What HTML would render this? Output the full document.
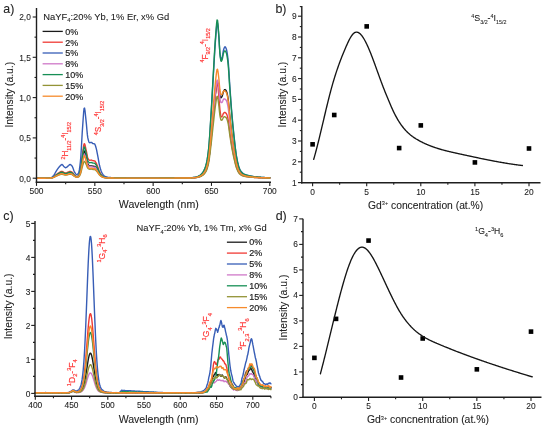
<!DOCTYPE html>
<html><head><meta charset="utf-8"><style>
html,body{margin:0;padding:0;background:#fff;}
svg{display:block;}
</style></head><body>
<svg width="550" height="426" viewBox="0 0 550 426" font-family="'Liberation Sans', Arial, sans-serif">
<rect width="550" height="426" fill="#fff"/>
<path d="M36.50,178.20 L36.97,178.20 L37.43,178.20 L37.90,178.20 L38.37,178.20 L38.83,178.20 L39.30,178.20 L39.77,178.20 L40.23,178.19 L40.70,178.19 L41.17,178.19 L41.63,178.19 L42.10,178.19 L42.57,178.19 L43.03,178.18 L43.50,178.18 L43.97,178.18 L44.43,178.18 L44.90,178.17 L45.37,178.17 L45.83,178.17 L46.30,178.16 L46.77,178.16 L47.23,178.15 L47.70,178.13 L48.16,178.12 L48.63,178.10 L49.10,178.08 L49.56,178.06 L50.03,178.03 L50.50,178.00 L50.96,177.95 L51.43,177.86 L51.90,177.74 L52.36,177.59 L52.83,177.43 L53.30,177.25 L53.76,177.04 L54.23,176.76 L54.70,176.43 L55.16,176.07 L55.63,175.70 L56.10,175.37 L56.56,175.07 L57.03,174.78 L57.50,174.49 L57.96,174.22 L58.43,173.96 L58.90,173.72 L59.36,173.50 L59.83,173.27 L60.30,173.04 L60.76,172.83 L61.23,172.67 L61.70,172.57 L62.16,172.58 L62.63,172.74 L63.10,172.99 L63.56,173.24 L64.03,173.43 L64.50,173.60 L64.96,173.77 L65.43,173.87 L65.90,173.87 L66.36,173.79 L66.83,173.64 L67.30,173.47 L67.76,173.30 L68.23,173.14 L68.70,172.96 L69.16,172.77 L69.63,172.62 L70.10,172.56 L70.56,172.61 L71.03,172.75 L71.49,172.94 L71.96,173.16 L72.43,173.46 L72.89,173.92 L73.36,174.47 L73.83,175.01 L74.29,175.46 L74.76,175.79 L75.23,176.13 L75.69,176.43 L76.16,176.65 L76.63,176.73 L77.09,176.71 L77.56,176.61 L78.03,176.47 L78.49,176.28 L78.96,175.77 L79.43,174.77 L79.89,173.44 L80.36,171.94 L80.83,169.82 L81.29,166.89 L81.76,163.62 L82.23,160.47 L82.69,157.86 L83.16,155.17 L83.63,152.65 L84.09,151.03 L84.56,151.11 L85.03,152.50 L85.49,154.45 L85.96,156.45 L86.43,158.35 L86.89,160.52 L87.36,162.51 L87.83,163.86 L88.29,164.72 L88.76,165.44 L89.23,165.88 L89.69,165.97 L90.16,165.94 L90.63,165.88 L91.09,165.84 L91.56,165.85 L92.03,165.99 L92.49,166.17 L92.96,166.26 L93.43,166.30 L93.89,166.32 L94.36,166.36 L94.82,166.47 L95.29,166.84 L95.76,167.37 L96.22,167.93 L96.69,168.63 L97.16,169.44 L97.62,170.28 L98.09,171.13 L98.56,172.06 L99.02,172.98 L99.49,173.75 L99.96,174.38 L100.42,174.95 L100.89,175.46 L101.36,175.90 L101.82,176.25 L102.29,176.55 L102.76,176.82 L103.22,177.05 L103.69,177.24 L104.16,177.37 L104.62,177.46 L105.09,177.54 L105.56,177.62 L106.02,177.68 L106.49,177.74 L106.96,177.80 L107.42,177.84 L107.89,177.87 L108.36,177.90 L108.82,177.92 L109.29,177.94 L109.76,177.95 L110.22,177.97 L110.69,177.98 L111.16,177.99 L111.62,178.00 L112.09,178.01 L112.56,178.02 L113.02,178.03 L113.49,178.04 L113.96,178.05 L114.42,178.06 L114.89,178.06 L115.36,178.07 L115.82,178.08 L116.29,178.08 L116.76,178.08 L117.22,178.09 L117.69,178.09 L118.15,178.09 L118.62,178.09 L119.09,178.09 L119.55,178.09 L120.02,178.09 L120.49,178.09 L120.95,178.09 L121.42,178.09 L121.89,178.10 L122.35,178.10 L122.82,178.10 L123.29,178.10 L123.75,178.10 L124.22,178.10 L124.69,178.10 L125.15,178.10 L125.62,178.10 L126.09,178.10 L126.55,178.10 L127.02,178.10 L127.49,178.10 L127.95,178.10 L128.42,178.10 L128.89,178.10 L129.35,178.11 L129.82,178.11 L130.29,178.11 L130.75,178.11 L131.22,178.11 L131.69,178.11 L132.15,178.11 L132.62,178.11 L133.09,178.11 L133.55,178.11 L134.02,178.11 L134.49,178.11 L134.95,178.11 L135.42,178.11 L135.89,178.11 L136.35,178.11 L136.82,178.11 L137.29,178.11 L137.75,178.11 L138.22,178.11 L138.69,178.11 L139.15,178.11 L139.62,178.11 L140.09,178.11 L140.55,178.11 L141.02,178.11 L141.48,178.11 L141.95,178.11 L142.42,178.11 L142.88,178.11 L143.35,178.11 L143.82,178.12 L144.28,178.12 L144.75,178.12 L145.22,178.12 L145.68,178.12 L146.15,178.12 L146.62,178.12 L147.08,178.12 L147.55,178.12 L148.02,178.12 L148.48,178.12 L148.95,178.12 L149.42,178.12 L149.88,178.12 L150.35,178.12 L150.82,178.12 L151.28,178.12 L151.75,178.12 L152.22,178.12 L152.68,178.12 L153.15,178.12 L153.62,178.12 L154.08,178.12 L154.55,178.11 L155.02,178.11 L155.48,178.11 L155.95,178.11 L156.42,178.11 L156.88,178.11 L157.35,178.11 L157.82,178.11 L158.28,178.11 L158.75,178.11 L159.22,178.11 L159.68,178.11 L160.15,178.11 L160.62,178.11 L161.08,178.10 L161.55,178.10 L162.02,178.10 L162.48,178.10 L162.95,178.10 L163.42,178.10 L163.88,178.10 L164.35,178.10 L164.81,178.10 L165.28,178.10 L165.75,178.10 L166.21,178.10 L166.68,178.09 L167.15,178.09 L167.61,178.09 L168.08,178.09 L168.55,178.09 L169.01,178.09 L169.48,178.09 L169.95,178.09 L170.41,178.09 L170.88,178.09 L171.35,178.08 L171.81,178.08 L172.28,178.08 L172.75,178.08 L173.21,178.08 L173.68,178.08 L174.15,178.08 L174.61,178.08 L175.08,178.07 L175.55,178.07 L176.01,178.07 L176.48,178.07 L176.95,178.07 L177.41,178.07 L177.88,178.07 L178.35,178.06 L178.81,178.06 L179.28,178.06 L179.75,178.06 L180.21,178.06 L180.68,178.06 L181.15,178.05 L181.61,178.05 L182.08,178.05 L182.55,178.05 L183.01,178.05 L183.48,178.05 L183.95,178.04 L184.41,178.04 L184.88,178.04 L185.35,178.04 L185.81,178.04 L186.28,178.03 L186.75,178.03 L187.21,178.03 L187.68,178.03 L188.14,178.02 L188.61,178.02 L189.08,178.01 L189.54,178.00 L190.01,177.99 L190.48,177.97 L190.94,177.95 L191.41,177.92 L191.88,177.90 L192.34,177.87 L192.81,177.83 L193.28,177.80 L193.74,177.76 L194.21,177.72 L194.68,177.68 L195.14,177.63 L195.61,177.58 L196.08,177.51 L196.54,177.43 L197.01,177.33 L197.48,177.22 L197.94,177.09 L198.41,176.95 L198.88,176.81 L199.34,176.65 L199.81,176.48 L200.28,176.29 L200.74,176.07 L201.21,175.82 L201.68,175.53 L202.14,175.21 L202.61,174.85 L203.08,174.46 L203.54,174.04 L204.01,173.53 L204.48,172.93 L204.94,172.24 L205.41,171.46 L205.88,170.56 L206.34,169.55 L206.81,168.29 L207.28,166.71 L207.74,164.85 L208.21,162.72 L208.68,160.31 L209.14,157.18 L209.61,153.34 L210.08,149.06 L210.54,144.58 L211.01,140.13 L211.47,135.43 L211.94,130.44 L212.41,125.33 L212.87,120.27 L213.34,115.40 L213.81,110.43 L214.27,105.41 L214.74,100.59 L215.21,96.24 L215.67,92.56 L216.14,88.86 L216.61,85.50 L217.07,83.40 L217.54,82.75 L218.01,83.64 L218.47,85.69 L218.94,88.20 L219.41,92.24 L219.87,95.37 L220.34,96.98 L220.81,97.82 L221.27,97.54 L221.74,96.99 L222.21,96.15 L222.67,94.59 L223.14,92.54 L223.61,91.22 L224.07,90.37 L224.54,89.74 L225.01,89.54 L225.47,89.78 L225.94,90.37 L226.41,91.17 L226.87,92.43 L227.34,94.40 L227.81,96.87 L228.27,99.89 L228.74,104.29 L229.21,109.45 L229.67,114.50 L230.14,118.98 L230.61,123.41 L231.07,127.72 L231.54,131.81 L232.01,135.60 L232.47,139.17 L232.94,142.57 L233.41,145.79 L233.87,148.83 L234.34,151.71 L234.80,154.54 L235.27,157.28 L235.74,159.85 L236.20,162.14 L236.67,164.06 L237.14,165.71 L237.60,167.24 L238.07,168.64 L238.54,169.86 L239.00,170.89 L239.47,171.67 L239.94,172.30 L240.40,172.88 L240.87,173.39 L241.34,173.84 L241.80,174.24 L242.27,174.56 L242.74,174.83 L243.20,175.03 L243.67,175.22 L244.14,175.39 L244.60,175.54 L245.07,175.68 L245.54,175.81 L246.00,175.93 L246.47,176.03 L246.94,176.13 L247.40,176.22 L247.87,176.31 L248.34,176.39 L248.80,176.46 L249.27,176.53 L249.74,176.60 L250.20,176.67 L250.67,176.73 L251.14,176.79 L251.60,176.85 L252.07,176.91 L252.54,176.96 L253.00,177.01 L253.47,177.06 L253.94,177.11 L254.40,177.16 L254.87,177.20 L255.34,177.24 L255.80,177.28 L256.27,177.32 L256.74,177.35 L257.20,177.38 L257.67,177.41 L258.13,177.44 L258.60,177.46 L259.07,177.49 L259.53,177.52 L260.00,177.54 L260.47,177.57 L260.93,177.59 L261.40,177.62 L261.87,177.64 L262.33,177.66 L262.80,177.69 L263.27,177.71 L263.73,177.73 L264.20,177.75 L264.67,177.77 L265.13,177.78 L265.60,177.80 L266.07,177.81 L266.53,177.83 L267.00,177.84 L267.47,177.85 L267.93,177.86 L268.40,177.86 L268.87,177.87 L269.33,177.87 L269.80,177.87" fill="none" stroke="#1a1a1a" stroke-width="1.4" stroke-linejoin="round" stroke-linecap="round" />
<path d="M36.50,178.20 L36.97,178.20 L37.43,178.20 L37.90,178.20 L38.37,178.20 L38.83,178.20 L39.30,178.20 L39.77,178.20 L40.23,178.19 L40.70,178.19 L41.17,178.19 L41.63,178.19 L42.10,178.19 L42.57,178.18 L43.03,178.18 L43.50,178.18 L43.97,178.17 L44.43,178.17 L44.90,178.17 L45.37,178.16 L45.83,178.16 L46.30,178.15 L46.77,178.15 L47.23,178.13 L47.70,178.12 L48.16,178.10 L48.63,178.08 L49.10,178.05 L49.56,178.03 L50.03,177.99 L50.50,177.96 L50.96,177.89 L51.43,177.79 L51.90,177.64 L52.36,177.46 L52.83,177.26 L53.30,177.05 L53.76,176.79 L54.23,176.45 L54.70,176.05 L55.16,175.61 L55.63,175.17 L56.10,174.76 L56.56,174.40 L57.03,174.05 L57.50,173.70 L57.96,173.37 L58.43,173.05 L58.90,172.76 L59.36,172.49 L59.83,172.22 L60.30,171.94 L60.76,171.68 L61.23,171.48 L61.70,171.36 L62.16,171.38 L62.63,171.57 L63.10,171.87 L63.56,172.18 L64.03,172.41 L64.50,172.62 L64.96,172.82 L65.43,172.94 L65.90,172.95 L66.36,172.84 L66.83,172.66 L67.30,172.45 L67.76,172.25 L68.23,172.06 L68.70,171.83 L69.16,171.60 L69.63,171.42 L70.10,171.35 L70.56,171.41 L71.03,171.58 L71.49,171.81 L71.96,172.08 L72.43,172.44 L72.89,173.00 L73.36,173.67 L73.83,174.33 L74.29,174.87 L74.76,175.28 L75.23,175.68 L75.69,176.04 L76.16,176.30 L76.63,176.40 L77.09,176.36 L77.56,176.24 L78.03,176.05 L78.49,175.81 L78.96,175.16 L79.43,173.89 L79.89,172.20 L80.36,170.28 L80.83,167.60 L81.29,163.90 L81.76,159.76 L82.23,155.78 L82.69,152.47 L83.16,149.07 L83.63,145.88 L84.09,143.84 L84.56,143.70 L85.03,145.00 L85.49,147.07 L85.96,149.28 L86.43,151.41 L86.89,153.98 L87.36,156.38 L87.83,157.96 L88.29,158.88 L88.76,159.63 L89.23,160.13 L89.69,160.26 L90.16,160.21 L90.63,160.13 L91.09,160.07 L91.56,160.09 L92.03,160.30 L92.49,160.55 L92.96,160.69 L93.43,160.74 L93.89,160.78 L94.36,160.83 L94.82,160.99 L95.29,161.54 L95.76,162.31 L96.22,163.14 L96.69,164.16 L97.16,165.35 L97.62,166.59 L98.09,167.82 L98.56,169.20 L99.02,170.55 L99.49,171.68 L99.96,172.59 L100.42,173.44 L100.89,174.19 L101.36,174.83 L101.82,175.35 L102.29,175.78 L102.76,176.18 L103.22,176.52 L103.69,176.79 L104.16,176.98 L104.62,177.11 L105.09,177.23 L105.56,177.34 L106.02,177.44 L106.49,177.53 L106.96,177.61 L107.42,177.67 L107.89,177.72 L108.36,177.76 L108.82,177.79 L109.29,177.81 L109.76,177.84 L110.22,177.86 L110.69,177.88 L111.16,177.89 L111.62,177.91 L112.09,177.93 L112.56,177.94 L113.02,177.96 L113.49,177.97 L113.96,177.98 L114.42,177.99 L114.89,178.00 L115.36,178.01 L115.82,178.02 L116.29,178.02 L116.76,178.03 L117.22,178.03 L117.69,178.04 L118.15,178.04 L118.62,178.04 L119.09,178.04 L119.55,178.04 L120.02,178.04 L120.49,178.04 L120.95,178.04 L121.42,178.05 L121.89,178.05 L122.35,178.05 L122.82,178.05 L123.29,178.05 L123.75,178.05 L124.22,178.05 L124.69,178.05 L125.15,178.05 L125.62,178.05 L126.09,178.06 L126.55,178.06 L127.02,178.06 L127.49,178.06 L127.95,178.06 L128.42,178.06 L128.89,178.06 L129.35,178.06 L129.82,178.06 L130.29,178.06 L130.75,178.06 L131.22,178.06 L131.69,178.06 L132.15,178.06 L132.62,178.07 L133.09,178.07 L133.55,178.07 L134.02,178.07 L134.49,178.07 L134.95,178.07 L135.42,178.07 L135.89,178.07 L136.35,178.07 L136.82,178.07 L137.29,178.07 L137.75,178.07 L138.22,178.07 L138.69,178.07 L139.15,178.07 L139.62,178.07 L140.09,178.07 L140.55,178.07 L141.02,178.07 L141.48,178.07 L141.95,178.07 L142.42,178.07 L142.88,178.08 L143.35,178.08 L143.82,178.08 L144.28,178.08 L144.75,178.08 L145.22,178.08 L145.68,178.08 L146.15,178.08 L146.62,178.08 L147.08,178.08 L147.55,178.08 L148.02,178.08 L148.48,178.08 L148.95,178.08 L149.42,178.08 L149.88,178.08 L150.35,178.08 L150.82,178.08 L151.28,178.08 L151.75,178.08 L152.22,178.08 L152.68,178.08 L153.15,178.08 L153.62,178.08 L154.08,178.08 L154.55,178.08 L155.02,178.08 L155.48,178.08 L155.95,178.08 L156.42,178.08 L156.88,178.08 L157.35,178.07 L157.82,178.07 L158.28,178.07 L158.75,178.07 L159.22,178.07 L159.68,178.07 L160.15,178.07 L160.62,178.07 L161.08,178.07 L161.55,178.07 L162.02,178.07 L162.48,178.07 L162.95,178.07 L163.42,178.07 L163.88,178.07 L164.35,178.07 L164.81,178.07 L165.28,178.07 L165.75,178.07 L166.21,178.07 L166.68,178.06 L167.15,178.06 L167.61,178.06 L168.08,178.06 L168.55,178.06 L169.01,178.06 L169.48,178.06 L169.95,178.06 L170.41,178.06 L170.88,178.06 L171.35,178.06 L171.81,178.06 L172.28,178.06 L172.75,178.05 L173.21,178.05 L173.68,178.05 L174.15,178.05 L174.61,178.05 L175.08,178.05 L175.55,178.05 L176.01,178.05 L176.48,178.05 L176.95,178.05 L177.41,178.04 L177.88,178.04 L178.35,178.04 L178.81,178.04 L179.28,178.04 L179.75,178.04 L180.21,178.04 L180.68,178.04 L181.15,178.03 L181.61,178.03 L182.08,178.03 L182.55,178.03 L183.01,178.03 L183.48,178.03 L183.95,178.02 L184.41,178.02 L184.88,178.02 L185.35,178.02 L185.81,178.02 L186.28,178.02 L186.75,178.01 L187.21,178.01 L187.68,178.01 L188.14,178.01 L188.61,178.00 L189.08,178.00 L189.54,177.99 L190.01,177.97 L190.48,177.95 L190.94,177.93 L191.41,177.90 L191.88,177.88 L192.34,177.85 L192.81,177.81 L193.28,177.78 L193.74,177.74 L194.21,177.70 L194.68,177.65 L195.14,177.61 L195.61,177.56 L196.08,177.49 L196.54,177.40 L197.01,177.30 L197.48,177.19 L197.94,177.06 L198.41,176.92 L198.88,176.77 L199.34,176.62 L199.81,176.45 L200.28,176.26 L200.74,176.04 L201.21,175.78 L201.68,175.49 L202.14,175.16 L202.61,174.80 L203.08,174.40 L203.54,173.97 L204.01,173.45 L204.48,172.84 L204.94,172.14 L205.41,171.34 L205.88,170.43 L206.34,169.41 L206.81,168.12 L207.28,166.52 L207.74,164.62 L208.21,162.46 L208.68,160.01 L209.14,156.82 L209.61,152.92 L210.08,148.57 L210.54,144.01 L211.01,139.49 L211.47,134.71 L211.94,129.63 L212.41,124.43 L212.87,119.29 L213.34,114.33 L213.81,109.28 L214.27,104.17 L214.74,99.28 L215.21,94.85 L215.67,91.11 L216.14,87.34 L216.61,83.93 L217.07,81.79 L217.54,82.83 L218.01,87.00 L218.47,92.11 L218.94,97.40 L219.41,103.78 L219.87,109.08 L220.34,112.89 L220.81,115.95 L221.27,116.99 L221.74,116.75 L222.21,116.30 L222.67,115.31 L223.14,113.96 L223.61,113.17 L224.07,112.73 L224.54,112.46 L225.01,112.51 L225.47,112.69 L225.94,113.13 L226.41,113.72 L226.87,114.65 L227.34,116.11 L227.81,117.94 L228.27,120.18 L228.74,123.44 L229.21,127.26 L229.67,131.01 L230.14,134.33 L230.61,137.60 L231.07,140.80 L231.54,143.83 L232.01,146.64 L232.47,149.28 L232.94,151.80 L233.41,154.19 L233.87,156.44 L234.34,158.57 L234.80,160.67 L235.27,162.70 L235.74,164.61 L236.20,166.30 L236.67,167.72 L237.14,168.94 L237.60,170.08 L238.07,171.12 L238.54,172.02 L239.00,172.78 L239.47,173.36 L239.94,173.83 L240.40,174.26 L240.87,174.64 L241.34,174.97 L241.80,175.26 L242.27,175.51 L242.74,175.70 L243.20,175.85 L243.67,175.99 L244.14,176.11 L244.60,176.23 L245.07,176.33 L245.54,176.43 L246.00,176.51 L246.47,176.59 L246.94,176.67 L247.40,176.73 L247.87,176.80 L248.34,176.86 L248.80,176.91 L249.27,176.96 L249.74,177.01 L250.20,177.06 L250.67,177.11 L251.14,177.16 L251.60,177.20 L252.07,177.24 L252.54,177.28 L253.00,177.32 L253.47,177.36 L253.94,177.39 L254.40,177.43 L254.87,177.46 L255.34,177.49 L255.80,177.52 L256.27,177.55 L256.74,177.57 L257.20,177.59 L257.67,177.62 L258.13,177.64 L258.60,177.66 L259.07,177.67 L259.53,177.69 L260.00,177.71 L260.47,177.73 L260.93,177.75 L261.40,177.77 L261.87,177.79 L262.33,177.80 L262.80,177.82 L263.27,177.83 L263.73,177.85 L264.20,177.86 L264.67,177.88 L265.13,177.89 L265.60,177.90 L266.07,177.91 L266.53,177.92 L267.00,177.93 L267.47,177.94 L267.93,177.95 L268.40,177.95 L268.87,177.96 L269.33,177.96 L269.80,177.96" fill="none" stroke="#f03a34" stroke-width="1.4" stroke-linejoin="round" stroke-linecap="round" />
<path d="M36.50,178.20 L36.97,178.20 L37.43,178.20 L37.90,178.20 L38.37,178.20 L38.83,178.19 L39.30,178.19 L39.77,178.19 L40.23,178.19 L40.70,178.18 L41.17,178.18 L41.63,178.18 L42.10,178.17 L42.57,178.17 L43.03,178.16 L43.50,178.15 L43.97,178.15 L44.43,178.14 L44.90,178.13 L45.37,178.13 L45.83,178.12 L46.30,178.11 L46.77,178.09 L47.23,178.07 L47.70,178.04 L48.16,178.00 L48.63,177.96 L49.10,177.91 L49.56,177.85 L50.03,177.79 L50.50,177.72 L50.96,177.59 L51.43,177.37 L51.90,177.08 L52.36,176.72 L52.83,176.32 L53.30,175.89 L53.76,175.39 L54.23,174.70 L54.70,173.89 L55.16,173.02 L55.63,172.14 L56.10,171.32 L56.56,170.59 L57.03,169.89 L57.50,169.20 L57.96,168.53 L58.43,167.90 L58.90,167.32 L59.36,166.79 L59.83,166.23 L60.30,165.67 L60.76,165.16 L61.23,164.76 L61.70,164.53 L62.16,164.56 L62.63,164.94 L63.10,165.54 L63.56,166.15 L64.03,166.61 L64.50,167.04 L64.96,167.43 L65.43,167.69 L65.90,167.69 L66.36,167.48 L66.83,167.13 L67.30,166.71 L67.76,166.29 L68.23,165.92 L68.70,165.47 L69.16,165.00 L69.63,164.64 L70.10,164.50 L70.56,164.62 L71.03,164.95 L71.49,165.42 L71.96,165.97 L72.43,166.68 L72.89,167.80 L73.36,169.14 L73.83,170.46 L74.29,171.54 L74.76,172.35 L75.23,173.16 L75.69,173.87 L76.16,174.38 L76.63,174.57 L77.09,174.49 L77.56,174.24 L78.03,173.86 L78.49,173.36 L78.96,172.05 L79.43,169.46 L79.89,166.00 L80.36,162.08 L80.83,156.62 L81.29,149.09 L81.76,140.68 L82.23,132.57 L82.69,125.85 L83.16,118.93 L83.63,112.44 L84.09,108.28 L84.56,108.09 L85.03,110.93 L85.49,115.32 L85.96,119.94 L86.43,124.40 L86.89,129.70 L87.36,134.63 L87.83,137.90 L88.29,139.83 L88.76,141.43 L89.23,142.47 L89.69,142.73 L90.16,142.63 L90.63,142.47 L91.09,142.35 L91.56,142.40 L92.03,142.80 L92.49,143.30 L92.96,143.58 L93.43,143.68 L93.89,143.75 L94.36,143.86 L94.82,144.18 L95.29,145.26 L95.76,146.78 L96.22,148.41 L96.69,150.45 L97.16,152.79 L97.62,155.24 L98.09,157.68 L98.56,160.40 L99.02,163.07 L99.49,165.30 L99.96,167.12 L100.42,168.78 L100.89,170.26 L101.36,171.53 L101.82,172.56 L102.29,173.42 L102.76,174.20 L103.22,174.88 L103.69,175.41 L104.16,175.78 L104.62,176.05 L105.09,176.29 L105.56,176.51 L106.02,176.70 L106.49,176.88 L106.96,177.03 L107.42,177.15 L107.89,177.26 L108.36,177.34 L108.82,177.39 L109.29,177.44 L109.76,177.48 L110.22,177.52 L110.69,177.56 L111.16,177.60 L111.62,177.63 L112.09,177.66 L112.56,177.69 L113.02,177.72 L113.49,177.74 L113.96,177.77 L114.42,177.79 L114.89,177.81 L115.36,177.82 L115.82,177.84 L116.29,177.85 L116.76,177.86 L117.22,177.87 L117.69,177.87 L118.15,177.88 L118.62,177.88 L119.09,177.88 L119.55,177.88 L120.02,177.89 L120.49,177.89 L120.95,177.89 L121.42,177.89 L121.89,177.90 L122.35,177.90 L122.82,177.90 L123.29,177.90 L123.75,177.90 L124.22,177.91 L124.69,177.91 L125.15,177.91 L125.62,177.91 L126.09,177.91 L126.55,177.92 L127.02,177.92 L127.49,177.92 L127.95,177.92 L128.42,177.92 L128.89,177.92 L129.35,177.92 L129.82,177.93 L130.29,177.93 L130.75,177.93 L131.22,177.93 L131.69,177.93 L132.15,177.93 L132.62,177.93 L133.09,177.94 L133.55,177.94 L134.02,177.94 L134.49,177.94 L134.95,177.94 L135.42,177.94 L135.89,177.94 L136.35,177.94 L136.82,177.94 L137.29,177.94 L137.75,177.95 L138.22,177.95 L138.69,177.95 L139.15,177.95 L139.62,177.95 L140.09,177.95 L140.55,177.95 L141.02,177.95 L141.48,177.95 L141.95,177.95 L142.42,177.95 L142.88,177.95 L143.35,177.95 L143.82,177.95 L144.28,177.95 L144.75,177.95 L145.22,177.96 L145.68,177.96 L146.15,177.96 L146.62,177.96 L147.08,177.96 L147.55,177.96 L148.02,177.96 L148.48,177.96 L148.95,177.96 L149.42,177.96 L149.88,177.96 L150.35,177.96 L150.82,177.96 L151.28,177.96 L151.75,177.96 L152.22,177.96 L152.68,177.96 L153.15,177.96 L153.62,177.96 L154.08,177.96 L154.55,177.96 L155.02,177.96 L155.48,177.96 L155.95,177.96 L156.42,177.96 L156.88,177.96 L157.35,177.96 L157.82,177.96 L158.28,177.96 L158.75,177.96 L159.22,177.96 L159.68,177.96 L160.15,177.96 L160.62,177.96 L161.08,177.96 L161.55,177.96 L162.02,177.95 L162.48,177.95 L162.95,177.95 L163.42,177.95 L163.88,177.95 L164.35,177.95 L164.81,177.95 L165.28,177.95 L165.75,177.95 L166.21,177.95 L166.68,177.95 L167.15,177.95 L167.61,177.95 L168.08,177.95 L168.55,177.95 L169.01,177.95 L169.48,177.95 L169.95,177.94 L170.41,177.94 L170.88,177.94 L171.35,177.94 L171.81,177.94 L172.28,177.94 L172.75,177.94 L173.21,177.94 L173.68,177.94 L174.15,177.93 L174.61,177.93 L175.08,177.93 L175.55,177.93 L176.01,177.93 L176.48,177.93 L176.95,177.93 L177.41,177.93 L177.88,177.92 L178.35,177.92 L178.81,177.92 L179.28,177.92 L179.75,177.92 L180.21,177.92 L180.68,177.91 L181.15,177.91 L181.61,177.91 L182.08,177.91 L182.55,177.91 L183.01,177.90 L183.48,177.90 L183.95,177.90 L184.41,177.90 L184.88,177.89 L185.35,177.89 L185.81,177.89 L186.28,177.89 L186.75,177.89 L187.21,177.88 L187.68,177.88 L188.14,177.88 L188.61,177.87 L189.08,177.86 L189.54,177.84 L190.01,177.82 L190.48,177.79 L190.94,177.75 L191.41,177.71 L191.88,177.66 L192.34,177.61 L192.81,177.56 L193.28,177.50 L193.74,177.44 L194.21,177.37 L194.68,177.30 L195.14,177.23 L195.61,177.15 L196.08,177.03 L196.54,176.90 L197.01,176.74 L197.48,176.56 L197.94,176.36 L198.41,176.14 L198.88,175.90 L199.34,175.65 L199.81,175.38 L200.28,175.08 L200.74,174.72 L201.21,174.30 L201.68,173.83 L202.14,173.31 L202.61,172.73 L203.08,172.09 L203.54,171.39 L204.01,170.56 L204.48,169.59 L204.94,168.46 L205.41,167.17 L205.88,165.71 L206.34,164.06 L206.81,161.98 L207.28,159.41 L207.74,156.37 L208.21,152.88 L208.68,148.94 L209.14,143.82 L209.61,137.55 L210.08,130.54 L210.54,123.21 L211.01,115.93 L211.47,108.25 L211.94,100.09 L212.41,91.73 L212.87,83.45 L213.34,75.48 L213.81,67.35 L214.27,59.14 L214.74,51.26 L215.21,44.15 L215.67,38.14 L216.14,32.07 L216.61,26.59 L217.07,23.14 L217.54,23.18 L218.01,26.74 L218.47,32.04 L218.94,37.91 L219.41,45.98 L219.87,52.46 L220.34,56.50 L220.81,59.29 L221.27,59.58 L221.74,58.66 L222.21,57.30 L222.67,54.89 L223.14,51.74 L223.61,49.68 L224.07,48.29 L224.54,47.24 L225.01,46.82 L225.47,47.17 L225.94,48.06 L226.41,49.24 L226.87,51.11 L227.34,54.02 L227.81,57.69 L228.27,62.15 L228.74,68.67 L229.21,76.33 L229.67,83.82 L230.14,90.45 L230.61,97.01 L231.07,103.39 L231.54,109.46 L232.01,115.08 L232.47,120.36 L232.94,125.40 L233.41,130.17 L233.87,134.69 L234.34,138.95 L234.80,143.14 L235.27,147.21 L235.74,151.01 L236.20,154.41 L236.67,157.24 L237.14,159.69 L237.60,161.96 L238.07,164.03 L238.54,165.85 L239.00,167.36 L239.47,168.53 L239.94,169.46 L240.40,170.31 L240.87,171.07 L241.34,171.74 L241.80,172.32 L242.27,172.81 L242.74,173.20 L243.20,173.51 L243.67,173.78 L244.14,174.03 L244.60,174.26 L245.07,174.47 L245.54,174.66 L246.00,174.83 L246.47,174.99 L246.94,175.14 L247.40,175.27 L247.87,175.39 L248.34,175.51 L248.80,175.62 L249.27,175.73 L249.74,175.83 L250.20,175.93 L250.67,176.02 L251.14,176.11 L251.60,176.20 L252.07,176.28 L252.54,176.37 L253.00,176.44 L253.47,176.52 L253.94,176.59 L254.40,176.65 L254.87,176.72 L255.34,176.78 L255.80,176.84 L256.27,176.89 L256.74,176.94 L257.20,176.99 L257.67,177.03 L258.13,177.07 L258.60,177.11 L259.07,177.15 L259.53,177.19 L260.00,177.23 L260.47,177.26 L260.93,177.30 L261.40,177.34 L261.87,177.37 L262.33,177.40 L262.80,177.44 L263.27,177.47 L263.73,177.50 L264.20,177.53 L264.67,177.56 L265.13,177.58 L265.60,177.61 L266.07,177.63 L266.53,177.65 L267.00,177.67 L267.47,177.68 L267.93,177.69 L268.40,177.70 L268.87,177.71 L269.33,177.71 L269.80,177.72" fill="none" stroke="#375db6" stroke-width="1.4" stroke-linejoin="round" stroke-linecap="round" />
<path d="M36.50,178.20 L36.97,178.20 L37.43,178.20 L37.90,178.20 L38.37,178.20 L38.83,178.20 L39.30,178.20 L39.77,178.20 L40.23,178.20 L40.70,178.19 L41.17,178.19 L41.63,178.19 L42.10,178.19 L42.57,178.19 L43.03,178.19 L43.50,178.18 L43.97,178.18 L44.43,178.18 L44.90,178.18 L45.37,178.17 L45.83,178.17 L46.30,178.17 L46.77,178.16 L47.23,178.15 L47.70,178.14 L48.16,178.13 L48.63,178.12 L49.10,178.10 L49.56,178.08 L50.03,178.05 L50.50,178.03 L50.96,177.98 L51.43,177.91 L51.90,177.80 L52.36,177.68 L52.83,177.54 L53.30,177.39 L53.76,177.21 L54.23,176.97 L54.70,176.68 L55.16,176.37 L55.63,176.06 L56.10,175.77 L56.56,175.52 L57.03,175.27 L57.50,175.02 L57.96,174.79 L58.43,174.56 L58.90,174.36 L59.36,174.17 L59.83,173.98 L60.30,173.78 L60.76,173.60 L61.23,173.46 L61.70,173.38 L62.16,173.38 L62.63,173.52 L63.10,173.73 L63.56,173.95 L64.03,174.11 L64.50,174.26 L64.96,174.40 L65.43,174.49 L65.90,174.49 L66.36,174.42 L66.83,174.29 L67.30,174.14 L67.76,174.00 L68.23,173.87 L68.70,173.71 L69.16,173.54 L69.63,173.42 L70.10,173.36 L70.56,173.41 L71.03,173.52 L71.49,173.69 L71.96,173.88 L72.43,174.13 L72.89,174.53 L73.36,175.00 L73.83,175.47 L74.29,175.85 L74.76,176.14 L75.23,176.42 L75.69,176.68 L76.16,176.86 L76.63,176.93 L77.09,176.90 L77.56,176.82 L78.03,176.69 L78.49,176.53 L78.96,176.08 L79.43,175.19 L79.89,174.01 L80.36,172.67 L80.83,170.80 L81.29,168.22 L81.76,165.33 L82.23,162.56 L82.69,160.25 L83.16,157.88 L83.63,155.65 L84.09,154.23 L84.56,154.24 L85.03,155.35 L85.49,156.97 L85.96,158.65 L86.43,160.26 L86.89,162.13 L87.36,163.86 L87.83,165.02 L88.29,165.73 L88.76,166.33 L89.23,166.70 L89.69,166.78 L90.16,166.75 L90.63,166.70 L91.09,166.66 L91.56,166.68 L92.03,166.81 L92.49,166.97 L92.96,167.06 L93.43,167.09 L93.89,167.11 L94.36,167.15 L94.82,167.25 L95.29,167.60 L95.76,168.09 L96.22,168.61 L96.69,169.27 L97.16,170.02 L97.62,170.81 L98.09,171.60 L98.56,172.47 L99.02,173.33 L99.49,174.05 L99.96,174.63 L100.42,175.17 L100.89,175.65 L101.36,176.05 L101.82,176.38 L102.29,176.66 L102.76,176.91 L103.22,177.13 L103.69,177.30 L104.16,177.42 L104.62,177.51 L105.09,177.58 L105.56,177.66 L106.02,177.72 L106.49,177.77 L106.96,177.82 L107.42,177.86 L107.89,177.90 L108.36,177.92 L108.82,177.94 L109.29,177.95 L109.76,177.97 L110.22,177.98 L110.69,177.99 L111.16,178.01 L111.62,178.02 L112.09,178.03 L112.56,178.04 L113.02,178.05 L113.49,178.05 L113.96,178.06 L114.42,178.07 L114.89,178.07 L115.36,178.08 L115.82,178.08 L116.29,178.09 L116.76,178.09 L117.22,178.09 L117.69,178.10 L118.15,178.10 L118.62,178.10 L119.09,178.10 L119.55,178.10 L120.02,178.10 L120.49,178.10 L120.95,178.10 L121.42,178.10 L121.89,178.10 L122.35,178.10 L122.82,178.10 L123.29,178.10 L123.75,178.10 L124.22,178.11 L124.69,178.11 L125.15,178.11 L125.62,178.11 L126.09,178.11 L126.55,178.11 L127.02,178.11 L127.49,178.11 L127.95,178.11 L128.42,178.11 L128.89,178.11 L129.35,178.11 L129.82,178.11 L130.29,178.11 L130.75,178.11 L131.22,178.11 L131.69,178.11 L132.15,178.11 L132.62,178.11 L133.09,178.11 L133.55,178.12 L134.02,178.12 L134.49,178.12 L134.95,178.12 L135.42,178.12 L135.89,178.12 L136.35,178.12 L136.82,178.12 L137.29,178.12 L137.75,178.12 L138.22,178.12 L138.69,178.12 L139.15,178.12 L139.62,178.12 L140.09,178.12 L140.55,178.12 L141.02,178.12 L141.48,178.12 L141.95,178.12 L142.42,178.12 L142.88,178.12 L143.35,178.12 L143.82,178.12 L144.28,178.12 L144.75,178.12 L145.22,178.12 L145.68,178.12 L146.15,178.12 L146.62,178.12 L147.08,178.12 L147.55,178.12 L148.02,178.12 L148.48,178.12 L148.95,178.12 L149.42,178.12 L149.88,178.12 L150.35,178.12 L150.82,178.12 L151.28,178.12 L151.75,178.12 L152.22,178.12 L152.68,178.12 L153.15,178.12 L153.62,178.12 L154.08,178.12 L154.55,178.12 L155.02,178.12 L155.48,178.12 L155.95,178.12 L156.42,178.12 L156.88,178.12 L157.35,178.12 L157.82,178.11 L158.28,178.11 L158.75,178.11 L159.22,178.11 L159.68,178.11 L160.15,178.11 L160.62,178.11 L161.08,178.11 L161.55,178.11 L162.02,178.11 L162.48,178.11 L162.95,178.10 L163.42,178.10 L163.88,178.10 L164.35,178.10 L164.81,178.10 L165.28,178.10 L165.75,178.10 L166.21,178.10 L166.68,178.10 L167.15,178.10 L167.61,178.09 L168.08,178.09 L168.55,178.09 L169.01,178.09 L169.48,178.09 L169.95,178.09 L170.41,178.09 L170.88,178.09 L171.35,178.09 L171.81,178.08 L172.28,178.08 L172.75,178.08 L173.21,178.08 L173.68,178.08 L174.15,178.08 L174.61,178.08 L175.08,178.07 L175.55,178.07 L176.01,178.07 L176.48,178.07 L176.95,178.07 L177.41,178.07 L177.88,178.07 L178.35,178.06 L178.81,178.06 L179.28,178.06 L179.75,178.06 L180.21,178.06 L180.68,178.06 L181.15,178.05 L181.61,178.05 L182.08,178.05 L182.55,178.05 L183.01,178.05 L183.48,178.04 L183.95,178.04 L184.41,178.04 L184.88,178.04 L185.35,178.04 L185.81,178.03 L186.28,178.03 L186.75,178.03 L187.21,178.03 L187.68,178.02 L188.14,178.02 L188.61,178.02 L189.08,178.01 L189.54,178.00 L190.01,177.98 L190.48,177.96 L190.94,177.94 L191.41,177.92 L191.88,177.89 L192.34,177.86 L192.81,177.82 L193.28,177.79 L193.74,177.75 L194.21,177.71 L194.68,177.66 L195.14,177.62 L195.61,177.56 L196.08,177.49 L196.54,177.41 L197.01,177.30 L197.48,177.19 L197.94,177.06 L198.41,176.91 L198.88,176.76 L199.34,176.59 L199.81,176.42 L200.28,176.23 L200.74,176.00 L201.21,175.74 L201.68,175.44 L202.14,175.11 L202.61,174.74 L203.08,174.34 L203.54,173.89 L204.01,173.37 L204.48,172.76 L204.94,172.04 L205.41,171.23 L205.88,170.30 L206.34,169.26 L206.81,167.95 L207.28,166.32 L207.74,164.40 L208.21,162.19 L208.68,159.70 L209.14,156.47 L209.61,152.50 L210.08,148.07 L210.54,143.44 L211.01,138.84 L211.47,133.98 L211.94,128.82 L212.41,123.54 L212.87,118.30 L213.34,113.27 L213.81,108.13 L214.27,102.94 L214.74,97.96 L215.21,93.46 L215.67,89.66 L216.14,85.83 L216.61,82.36 L217.07,80.18 L217.54,80.14 L218.01,82.25 L218.47,85.47 L218.94,89.07 L219.41,94.08 L219.87,98.09 L220.34,100.55 L220.81,102.22 L221.27,102.61 L221.74,102.56 L222.21,102.25 L222.67,101.29 L223.14,99.89 L223.61,99.20 L224.07,98.93 L224.54,98.87 L225.01,99.21 L225.47,99.42 L225.94,99.95 L226.41,100.67 L226.87,101.79 L227.34,103.54 L227.81,105.75 L228.27,108.43 L228.74,112.35 L229.21,116.95 L229.67,121.45 L230.14,125.44 L230.61,129.38 L231.07,133.22 L231.54,136.87 L232.01,140.25 L232.47,143.43 L232.94,146.45 L233.41,149.32 L233.87,152.04 L234.34,154.60 L234.80,157.12 L235.27,159.57 L235.74,161.85 L236.20,163.90 L236.67,165.60 L237.14,167.07 L237.60,168.44 L238.07,169.68 L238.54,170.77 L239.00,171.68 L239.47,172.38 L239.94,172.95 L240.40,173.46 L240.87,173.92 L241.34,174.32 L241.80,174.67 L242.27,174.96 L242.74,175.20 L243.20,175.38 L243.67,175.54 L244.14,175.69 L244.60,175.83 L245.07,175.95 L245.54,176.07 L246.00,176.17 L246.47,176.27 L246.94,176.36 L247.40,176.44 L247.87,176.51 L248.34,176.58 L248.80,176.65 L249.27,176.71 L249.74,176.77 L250.20,176.83 L250.67,176.89 L251.14,176.94 L251.60,177.00 L252.07,177.05 L252.54,177.10 L253.00,177.14 L253.47,177.19 L253.94,177.23 L254.40,177.27 L254.87,177.31 L255.34,177.35 L255.80,177.38 L256.27,177.41 L256.74,177.44 L257.20,177.47 L257.67,177.50 L258.13,177.52 L258.60,177.54 L259.07,177.57 L259.53,177.59 L260.00,177.61 L260.47,177.64 L260.93,177.66 L261.40,177.68 L261.87,177.70 L262.33,177.72 L262.80,177.74 L263.27,177.76 L263.73,177.78 L264.20,177.80 L264.67,177.81 L265.13,177.83 L265.60,177.84 L266.07,177.86 L266.53,177.87 L267.00,177.88 L267.47,177.89 L267.93,177.90 L268.40,177.90 L268.87,177.91 L269.33,177.91 L269.80,177.91" fill="none" stroke="#cf78c8" stroke-width="1.4" stroke-linejoin="round" stroke-linecap="round" />
<path d="M36.50,178.20 L36.97,178.20 L37.43,178.20 L37.90,178.20 L38.37,178.20 L38.83,178.20 L39.30,178.20 L39.77,178.20 L40.23,178.19 L40.70,178.19 L41.17,178.19 L41.63,178.19 L42.10,178.19 L42.57,178.18 L43.03,178.18 L43.50,178.18 L43.97,178.18 L44.43,178.17 L44.90,178.17 L45.37,178.17 L45.83,178.16 L46.30,178.16 L46.77,178.15 L47.23,178.14 L47.70,178.13 L48.16,178.11 L48.63,178.09 L49.10,178.07 L49.56,178.05 L50.03,178.02 L50.50,177.99 L50.96,177.93 L51.43,177.83 L51.90,177.70 L52.36,177.55 L52.83,177.37 L53.30,177.18 L53.76,176.96 L54.23,176.66 L54.70,176.30 L55.16,175.91 L55.63,175.52 L56.10,175.16 L56.56,174.84 L57.03,174.53 L57.50,174.23 L57.96,173.93 L58.43,173.66 L58.90,173.40 L59.36,173.16 L59.83,172.92 L60.30,172.67 L60.76,172.45 L61.23,172.27 L61.70,172.17 L62.16,172.18 L62.63,172.35 L63.10,172.61 L63.56,172.88 L64.03,173.09 L64.50,173.28 L64.96,173.45 L65.43,173.56 L65.90,173.56 L66.36,173.47 L66.83,173.32 L67.30,173.13 L67.76,172.95 L68.23,172.78 L68.70,172.58 L69.16,172.38 L69.63,172.22 L70.10,172.16 L70.56,172.21 L71.03,172.36 L71.49,172.56 L71.96,172.80 L72.43,173.12 L72.89,173.61 L73.36,174.20 L73.83,174.78 L74.29,175.26 L74.76,175.62 L75.23,175.98 L75.69,176.29 L76.16,176.51 L76.63,176.59 L77.09,176.55 L77.56,176.44 L78.03,176.27 L78.49,176.05 L78.96,175.46 L79.43,174.31 L79.89,172.77 L80.36,171.02 L80.83,168.58 L81.29,165.23 L81.76,161.47 L82.23,157.86 L82.69,154.87 L83.16,151.78 L83.63,148.89 L84.09,147.04 L84.56,146.98 L85.03,148.31 L85.49,150.31 L85.96,152.41 L86.43,154.44 L86.89,156.82 L87.36,159.03 L87.83,160.51 L88.29,161.39 L88.76,162.12 L89.23,162.60 L89.69,162.71 L90.16,162.66 L90.63,162.60 L91.09,162.54 L91.56,162.56 L92.03,162.74 L92.49,162.96 L92.96,163.08 L93.43,163.12 L93.89,163.15 L94.36,163.20 L94.82,163.34 L95.29,163.81 L95.76,164.48 L96.22,165.19 L96.69,166.08 L97.16,167.10 L97.62,168.17 L98.09,169.24 L98.56,170.42 L99.02,171.59 L99.49,172.57 L99.96,173.36 L100.42,174.08 L100.89,174.73 L101.36,175.29 L101.82,175.74 L102.29,176.11 L102.76,176.45 L103.22,176.75 L103.69,176.98 L104.16,177.14 L104.62,177.26 L105.09,177.37 L105.56,177.46 L106.02,177.55 L106.49,177.62 L106.96,177.69 L107.42,177.74 L107.89,177.79 L108.36,177.82 L108.82,177.85 L109.29,177.87 L109.76,177.89 L110.22,177.90 L110.69,177.92 L111.16,177.94 L111.62,177.95 L112.09,177.96 L112.56,177.98 L113.02,177.99 L113.49,178.00 L113.96,178.01 L114.42,178.02 L114.89,178.03 L115.36,178.04 L115.82,178.04 L116.29,178.05 L116.76,178.05 L117.22,178.06 L117.69,178.06 L118.15,178.06 L118.62,178.06 L119.09,178.06 L119.55,178.06 L120.02,178.06 L120.49,178.06 L120.95,178.07 L121.42,178.07 L121.89,178.07 L122.35,178.07 L122.82,178.07 L123.29,178.07 L123.75,178.07 L124.22,178.07 L124.69,178.07 L125.15,178.07 L125.62,178.07 L126.09,178.07 L126.55,178.08 L127.02,178.08 L127.49,178.08 L127.95,178.08 L128.42,178.08 L128.89,178.08 L129.35,178.08 L129.82,178.08 L130.29,178.08 L130.75,178.08 L131.22,178.08 L131.69,178.08 L132.15,178.08 L132.62,178.08 L133.09,178.08 L133.55,178.08 L134.02,178.09 L134.49,178.09 L134.95,178.09 L135.42,178.09 L135.89,178.09 L136.35,178.09 L136.82,178.09 L137.29,178.09 L137.75,178.09 L138.22,178.09 L138.69,178.09 L139.15,178.09 L139.62,178.09 L140.09,178.09 L140.55,178.09 L141.02,178.09 L141.48,178.09 L141.95,178.09 L142.42,178.09 L142.88,178.09 L143.35,178.09 L143.82,178.09 L144.28,178.09 L144.75,178.09 L145.22,178.09 L145.68,178.09 L146.15,178.09 L146.62,178.09 L147.08,178.09 L147.55,178.09 L148.02,178.09 L148.48,178.09 L148.95,178.09 L149.42,178.09 L149.88,178.09 L150.35,178.09 L150.82,178.09 L151.28,178.09 L151.75,178.09 L152.22,178.09 L152.68,178.09 L153.15,178.09 L153.62,178.09 L154.08,178.09 L154.55,178.09 L155.02,178.09 L155.48,178.09 L155.95,178.09 L156.42,178.08 L156.88,178.08 L157.35,178.08 L157.82,178.08 L158.28,178.08 L158.75,178.08 L159.22,178.08 L159.68,178.07 L160.15,178.07 L160.62,178.07 L161.08,178.07 L161.55,178.07 L162.02,178.07 L162.48,178.06 L162.95,178.06 L163.42,178.06 L163.88,178.06 L164.35,178.06 L164.81,178.06 L165.28,178.05 L165.75,178.05 L166.21,178.05 L166.68,178.05 L167.15,178.05 L167.61,178.04 L168.08,178.04 L168.55,178.04 L169.01,178.04 L169.48,178.04 L169.95,178.03 L170.41,178.03 L170.88,178.03 L171.35,178.03 L171.81,178.03 L172.28,178.02 L172.75,178.02 L173.21,178.02 L173.68,178.02 L174.15,178.01 L174.61,178.01 L175.08,178.01 L175.55,178.01 L176.01,178.00 L176.48,178.00 L176.95,178.00 L177.41,178.00 L177.88,177.99 L178.35,177.99 L178.81,177.99 L179.28,177.99 L179.75,177.98 L180.21,177.98 L180.68,177.98 L181.15,177.97 L181.61,177.97 L182.08,177.97 L182.55,177.96 L183.01,177.96 L183.48,177.96 L183.95,177.95 L184.41,177.95 L184.88,177.95 L185.35,177.94 L185.81,177.94 L186.28,177.93 L186.75,177.93 L187.21,177.93 L187.68,177.92 L188.14,177.92 L188.61,177.91 L189.08,177.90 L189.54,177.88 L190.01,177.85 L190.48,177.83 L190.94,177.79 L191.41,177.75 L191.88,177.71 L192.34,177.66 L192.81,177.60 L193.28,177.54 L193.74,177.48 L194.21,177.41 L194.68,177.34 L195.14,177.27 L195.61,177.18 L196.08,177.06 L196.54,176.92 L197.01,176.76 L197.48,176.57 L197.94,176.36 L198.41,176.13 L198.88,175.88 L199.34,175.61 L199.81,175.32 L200.28,175.01 L200.74,174.65 L201.21,174.22 L201.68,173.74 L202.14,173.21 L202.61,172.61 L203.08,171.96 L203.54,171.25 L204.01,170.40 L204.48,169.41 L204.94,168.26 L205.41,166.94 L205.88,165.45 L206.34,163.77 L206.81,161.65 L207.28,159.02 L207.74,155.91 L208.21,152.35 L208.68,148.33 L209.14,143.11 L209.61,136.70 L210.08,129.55 L210.54,122.07 L211.01,114.64 L211.47,106.80 L211.94,98.47 L212.41,89.94 L212.87,81.48 L213.34,73.35 L213.81,65.05 L214.27,56.67 L214.74,48.63 L215.21,41.37 L215.67,35.23 L216.14,29.05 L216.61,23.45 L217.07,19.93 L217.54,20.30 L218.01,24.58 L218.47,30.58 L218.94,37.10 L219.41,45.80 L219.87,52.83 L220.34,57.37 L220.81,60.66 L221.27,61.31 L221.74,60.64 L222.21,59.55 L222.67,57.43 L223.14,54.60 L223.61,52.85 L224.07,51.75 L224.54,50.99 L225.01,50.85 L225.47,51.19 L225.94,52.05 L226.41,53.20 L226.87,55.01 L227.34,57.83 L227.81,61.39 L228.27,65.71 L228.74,72.03 L229.21,79.45 L229.67,86.71 L230.14,93.14 L230.61,99.50 L231.07,105.69 L231.54,111.57 L232.01,117.02 L232.47,122.14 L232.94,127.02 L233.41,131.64 L233.87,136.02 L234.34,140.15 L234.80,144.21 L235.27,148.16 L235.74,151.85 L236.20,155.14 L236.67,157.89 L237.14,160.25 L237.60,162.46 L238.07,164.47 L238.54,166.23 L239.00,167.69 L239.47,168.82 L239.94,169.73 L240.40,170.55 L240.87,171.29 L241.34,171.94 L241.80,172.50 L242.27,172.98 L242.74,173.36 L243.20,173.65 L243.67,173.92 L244.14,174.16 L244.60,174.38 L245.07,174.58 L245.54,174.76 L246.00,174.93 L246.47,175.09 L246.94,175.23 L247.40,175.36 L247.87,175.48 L248.34,175.59 L248.80,175.70 L249.27,175.80 L249.74,175.90 L250.20,176.00 L250.67,176.09 L251.14,176.18 L251.60,176.26 L252.07,176.34 L252.54,176.42 L253.00,176.50 L253.47,176.57 L253.94,176.64 L254.40,176.70 L254.87,176.76 L255.34,176.82 L255.80,176.88 L256.27,176.93 L256.74,176.98 L257.20,177.02 L257.67,177.07 L258.13,177.11 L258.60,177.14 L259.07,177.18 L259.53,177.22 L260.00,177.26 L260.47,177.29 L260.93,177.33 L261.40,177.36 L261.87,177.40 L262.33,177.43 L262.80,177.46 L263.27,177.49 L263.73,177.52 L264.20,177.55 L264.67,177.58 L265.13,177.60 L265.60,177.62 L266.07,177.65 L266.53,177.66 L267.00,177.68 L267.47,177.70 L267.93,177.71 L268.40,177.72 L268.87,177.73 L269.33,177.73 L269.80,177.73" fill="none" stroke="#178f55" stroke-width="1.4" stroke-linejoin="round" stroke-linecap="round" />
<path d="M36.50,178.20 L36.97,178.20 L37.43,178.20 L37.90,178.20 L38.37,178.20 L38.83,178.20 L39.30,178.20 L39.77,178.20 L40.23,178.20 L40.70,178.20 L41.17,178.19 L41.63,178.19 L42.10,178.19 L42.57,178.19 L43.03,178.19 L43.50,178.19 L43.97,178.18 L44.43,178.18 L44.90,178.18 L45.37,178.18 L45.83,178.18 L46.30,178.17 L46.77,178.17 L47.23,178.16 L47.70,178.15 L48.16,178.14 L48.63,178.13 L49.10,178.11 L49.56,178.10 L50.03,178.08 L50.50,178.06 L50.96,178.02 L51.43,177.96 L51.90,177.87 L52.36,177.77 L52.83,177.65 L53.30,177.52 L53.76,177.37 L54.23,177.17 L54.70,176.93 L55.16,176.68 L55.63,176.42 L56.10,176.18 L56.56,175.96 L57.03,175.76 L57.50,175.55 L57.96,175.36 L58.43,175.17 L58.90,175.00 L59.36,174.84 L59.83,174.68 L60.30,174.52 L60.76,174.36 L61.23,174.25 L61.70,174.18 L62.16,174.19 L62.63,174.30 L63.10,174.48 L63.56,174.66 L64.03,174.79 L64.50,174.92 L64.96,175.03 L65.43,175.11 L65.90,175.11 L66.36,175.05 L66.83,174.94 L67.30,174.82 L67.76,174.70 L68.23,174.59 L68.70,174.45 L69.16,174.32 L69.63,174.21 L70.10,174.17 L70.56,174.21 L71.03,174.30 L71.49,174.44 L71.96,174.60 L72.43,174.81 L72.89,175.14 L73.36,175.53 L73.83,175.92 L74.29,176.24 L74.76,176.48 L75.23,176.73 L75.69,176.96 L76.16,177.12 L76.63,177.19 L77.09,177.19 L77.56,177.14 L78.03,177.06 L78.49,176.95 L78.96,176.64 L79.43,176.03 L79.89,175.23 L80.36,174.33 L80.83,173.02 L81.29,171.21 L81.76,169.19 L82.23,167.25 L82.69,165.64 L83.16,163.97 L83.63,162.42 L84.09,161.42 L84.56,161.33 L85.03,161.92 L85.49,162.91 L85.96,163.95 L86.43,164.98 L86.89,166.22 L87.36,167.38 L87.83,168.14 L88.29,168.57 L88.76,168.93 L89.23,169.17 L89.69,169.23 L90.16,169.21 L90.63,169.17 L91.09,169.14 L91.56,169.15 L92.03,169.25 L92.49,169.38 L92.96,169.45 L93.43,169.47 L93.89,169.49 L94.36,169.52 L94.82,169.60 L95.29,169.87 L95.76,170.26 L96.22,170.67 L96.69,171.18 L97.16,171.77 L97.62,172.39 L98.09,173.01 L98.56,173.70 L99.02,174.37 L99.49,174.94 L99.96,175.40 L100.42,175.82 L100.89,176.19 L101.36,176.51 L101.82,176.77 L102.29,176.99 L102.76,177.19 L103.22,177.36 L103.69,177.50 L104.16,177.59 L104.62,177.66 L105.09,177.72 L105.56,177.77 L106.02,177.82 L106.49,177.87 L106.96,177.90 L107.42,177.94 L107.89,177.96 L108.36,177.98 L108.82,178.00 L109.29,178.01 L109.76,178.02 L110.22,178.03 L110.69,178.04 L111.16,178.05 L111.62,178.06 L112.09,178.06 L112.56,178.07 L113.02,178.08 L113.49,178.08 L113.96,178.09 L114.42,178.10 L114.89,178.10 L115.36,178.10 L115.82,178.11 L116.29,178.11 L116.76,178.11 L117.22,178.12 L117.69,178.12 L118.15,178.12 L118.62,178.12 L119.09,178.12 L119.55,178.12 L120.02,178.12 L120.49,178.12 L120.95,178.12 L121.42,178.12 L121.89,178.12 L122.35,178.12 L122.82,178.12 L123.29,178.12 L123.75,178.13 L124.22,178.13 L124.69,178.13 L125.15,178.13 L125.62,178.13 L126.09,178.13 L126.55,178.13 L127.02,178.13 L127.49,178.13 L127.95,178.13 L128.42,178.13 L128.89,178.13 L129.35,178.13 L129.82,178.13 L130.29,178.13 L130.75,178.13 L131.22,178.13 L131.69,178.13 L132.15,178.13 L132.62,178.13 L133.09,178.13 L133.55,178.13 L134.02,178.13 L134.49,178.13 L134.95,178.13 L135.42,178.13 L135.89,178.13 L136.35,178.13 L136.82,178.14 L137.29,178.14 L137.75,178.14 L138.22,178.14 L138.69,178.14 L139.15,178.14 L139.62,178.14 L140.09,178.14 L140.55,178.14 L141.02,178.14 L141.48,178.14 L141.95,178.14 L142.42,178.14 L142.88,178.14 L143.35,178.14 L143.82,178.14 L144.28,178.14 L144.75,178.14 L145.22,178.14 L145.68,178.14 L146.15,178.14 L146.62,178.14 L147.08,178.14 L147.55,178.14 L148.02,178.14 L148.48,178.14 L148.95,178.14 L149.42,178.14 L149.88,178.14 L150.35,178.14 L150.82,178.14 L151.28,178.14 L151.75,178.14 L152.22,178.14 L152.68,178.14 L153.15,178.14 L153.62,178.14 L154.08,178.14 L154.55,178.14 L155.02,178.14 L155.48,178.14 L155.95,178.13 L156.42,178.13 L156.88,178.13 L157.35,178.13 L157.82,178.13 L158.28,178.13 L158.75,178.13 L159.22,178.13 L159.68,178.13 L160.15,178.13 L160.62,178.13 L161.08,178.13 L161.55,178.13 L162.02,178.13 L162.48,178.12 L162.95,178.12 L163.42,178.12 L163.88,178.12 L164.35,178.12 L164.81,178.12 L165.28,178.12 L165.75,178.12 L166.21,178.12 L166.68,178.12 L167.15,178.12 L167.61,178.11 L168.08,178.11 L168.55,178.11 L169.01,178.11 L169.48,178.11 L169.95,178.11 L170.41,178.11 L170.88,178.11 L171.35,178.11 L171.81,178.11 L172.28,178.10 L172.75,178.10 L173.21,178.10 L173.68,178.10 L174.15,178.10 L174.61,178.10 L175.08,178.10 L175.55,178.10 L176.01,178.10 L176.48,178.09 L176.95,178.09 L177.41,178.09 L177.88,178.09 L178.35,178.09 L178.81,178.09 L179.28,178.09 L179.75,178.08 L180.21,178.08 L180.68,178.08 L181.15,178.08 L181.61,178.08 L182.08,178.08 L182.55,178.07 L183.01,178.07 L183.48,178.07 L183.95,178.07 L184.41,178.07 L184.88,178.07 L185.35,178.06 L185.81,178.06 L186.28,178.06 L186.75,178.06 L187.21,178.06 L187.68,178.05 L188.14,178.05 L188.61,178.05 L189.08,178.04 L189.54,178.03 L190.01,178.02 L190.48,178.00 L190.94,177.99 L191.41,177.96 L191.88,177.94 L192.34,177.92 L192.81,177.89 L193.28,177.86 L193.74,177.82 L194.21,177.79 L194.68,177.75 L195.14,177.72 L195.61,177.67 L196.08,177.61 L196.54,177.54 L197.01,177.45 L197.48,177.35 L197.94,177.25 L198.41,177.13 L198.88,177.00 L199.34,176.86 L199.81,176.71 L200.28,176.55 L200.74,176.36 L201.21,176.14 L201.68,175.89 L202.14,175.61 L202.61,175.31 L203.08,174.97 L203.54,174.60 L204.01,174.16 L204.48,173.65 L204.94,173.05 L205.41,172.37 L205.88,171.60 L206.34,170.73 L206.81,169.63 L207.28,168.27 L207.74,166.66 L208.21,164.82 L208.68,162.74 L209.14,160.03 L209.61,156.71 L210.08,153.01 L210.54,149.14 L211.01,145.29 L211.47,141.23 L211.94,136.92 L212.41,132.50 L212.87,128.12 L213.34,123.91 L213.81,119.62 L214.27,115.28 L214.74,111.11 L215.21,107.36 L215.67,104.18 L216.14,100.97 L216.61,98.07 L217.07,96.25 L217.54,96.65 L218.01,99.25 L218.47,102.72 L218.94,106.43 L219.41,111.20 L219.87,115.09 L220.34,117.71 L220.81,119.67 L221.27,120.26 L221.74,120.14 L222.21,119.82 L222.67,119.00 L223.14,117.84 L223.61,117.21 L224.07,116.91 L224.54,116.78 L225.01,116.94 L225.47,117.11 L225.94,117.52 L226.41,118.07 L226.87,118.94 L227.34,120.30 L227.81,122.01 L228.27,124.09 L228.74,127.13 L229.21,130.70 L229.67,134.19 L230.14,137.29 L230.61,140.34 L231.07,143.32 L231.54,146.15 L232.01,148.77 L232.47,151.23 L232.94,153.58 L233.41,155.81 L233.87,157.91 L234.34,159.90 L234.80,161.85 L235.27,163.75 L235.74,165.52 L236.20,167.11 L236.67,168.43 L237.14,169.57 L237.60,170.63 L238.07,171.59 L238.54,172.44 L239.00,173.15 L239.47,173.69 L239.94,174.13 L240.40,174.52 L240.87,174.88 L241.34,175.19 L241.80,175.46 L242.27,175.69 L242.74,175.87 L243.20,176.01 L243.67,176.14 L244.14,176.26 L244.60,176.36 L245.07,176.46 L245.54,176.55 L246.00,176.63 L246.47,176.70 L246.94,176.77 L247.40,176.83 L247.87,176.89 L248.34,176.95 L248.80,177.00 L249.27,177.05 L249.74,177.09 L250.20,177.14 L250.67,177.18 L251.14,177.23 L251.60,177.27 L252.07,177.31 L252.54,177.34 L253.00,177.38 L253.47,177.42 L253.94,177.45 L254.40,177.48 L254.87,177.51 L255.34,177.54 L255.80,177.56 L256.27,177.59 L256.74,177.61 L257.20,177.63 L257.67,177.66 L258.13,177.67 L258.60,177.69 L259.07,177.71 L259.53,177.73 L260.00,177.75 L260.47,177.76 L260.93,177.78 L261.40,177.80 L261.87,177.81 L262.33,177.83 L262.80,177.84 L263.27,177.86 L263.73,177.87 L264.20,177.89 L264.67,177.90 L265.13,177.91 L265.60,177.92 L266.07,177.93 L266.53,177.94 L267.00,177.95 L267.47,177.96 L267.93,177.96 L268.40,177.97 L268.87,177.97 L269.33,177.97 L269.80,177.97" fill="none" stroke="#939336" stroke-width="1.4" stroke-linejoin="round" stroke-linecap="round" />
<path d="M36.50,178.20 L36.97,178.20 L37.43,178.20 L37.90,178.20 L38.37,178.20 L38.83,178.20 L39.30,178.20 L39.77,178.20 L40.23,178.20 L40.70,178.19 L41.17,178.19 L41.63,178.19 L42.10,178.19 L42.57,178.19 L43.03,178.19 L43.50,178.19 L43.97,178.18 L44.43,178.18 L44.90,178.18 L45.37,178.18 L45.83,178.17 L46.30,178.17 L46.77,178.16 L47.23,178.16 L47.70,178.15 L48.16,178.14 L48.63,178.12 L49.10,178.11 L49.56,178.09 L50.03,178.07 L50.50,178.04 L50.96,178.00 L51.43,177.93 L51.90,177.84 L52.36,177.72 L52.83,177.59 L53.30,177.45 L53.76,177.29 L54.23,177.07 L54.70,176.81 L55.16,176.52 L55.63,176.24 L56.10,175.97 L56.56,175.74 L57.03,175.51 L57.50,175.29 L57.96,175.07 L58.43,174.87 L58.90,174.68 L59.36,174.51 L59.83,174.33 L60.30,174.15 L60.76,173.98 L61.23,173.85 L61.70,173.78 L62.16,173.79 L62.63,173.91 L63.10,174.10 L63.56,174.30 L64.03,174.45 L64.50,174.59 L64.96,174.72 L65.43,174.80 L65.90,174.80 L66.36,174.73 L66.83,174.62 L67.30,174.48 L67.76,174.35 L68.23,174.23 L68.70,174.08 L69.16,173.93 L69.63,173.81 L70.10,173.77 L70.56,173.81 L71.03,173.91 L71.49,174.07 L71.96,174.24 L72.43,174.47 L72.89,174.84 L73.36,175.27 L73.83,175.69 L74.29,176.05 L74.76,176.31 L75.23,176.57 L75.69,176.80 L76.16,176.97 L76.63,177.03 L77.09,177.00 L77.56,176.93 L78.03,176.80 L78.49,176.65 L78.96,176.23 L79.43,175.40 L79.89,174.29 L80.36,173.04 L80.83,171.30 L81.29,168.89 L81.76,166.19 L82.23,163.60 L82.69,161.45 L83.16,159.23 L83.63,157.16 L84.09,155.83 L84.56,155.92 L85.03,157.12 L85.49,158.77 L85.96,160.46 L86.43,162.05 L86.89,163.86 L87.36,165.51 L87.83,166.64 L88.29,167.36 L88.76,167.98 L89.23,168.34 L89.69,168.42 L90.16,168.39 L90.63,168.34 L91.09,168.31 L91.56,168.32 L92.03,168.44 L92.49,168.57 L92.96,168.65 L93.43,168.68 L93.89,168.70 L94.36,168.73 L94.82,168.81 L95.29,169.11 L95.76,169.53 L96.22,169.98 L96.69,170.54 L97.16,171.19 L97.62,171.86 L98.09,172.54 L98.56,173.29 L99.02,174.03 L99.49,174.64 L99.96,175.14 L100.42,175.60 L100.89,176.01 L101.36,176.36 L101.82,176.64 L102.29,176.88 L102.76,177.10 L103.22,177.28 L103.69,177.43 L104.16,177.53 L104.62,177.61 L105.09,177.67 L105.56,177.73 L106.02,177.79 L106.49,177.83 L106.96,177.88 L107.42,177.91 L107.89,177.94 L108.36,177.96 L108.82,177.98 L109.29,177.99 L109.76,178.00 L110.22,178.01 L110.69,178.02 L111.16,178.03 L111.62,178.04 L112.09,178.05 L112.56,178.06 L113.02,178.07 L113.49,178.07 L113.96,178.08 L114.42,178.09 L114.89,178.09 L115.36,178.10 L115.82,178.10 L116.29,178.10 L116.76,178.11 L117.22,178.11 L117.69,178.11 L118.15,178.11 L118.62,178.11 L119.09,178.11 L119.55,178.11 L120.02,178.11 L120.49,178.11 L120.95,178.11 L121.42,178.12 L121.89,178.12 L122.35,178.12 L122.82,178.12 L123.29,178.12 L123.75,178.12 L124.22,178.12 L124.69,178.12 L125.15,178.12 L125.62,178.12 L126.09,178.12 L126.55,178.12 L127.02,178.12 L127.49,178.12 L127.95,178.12 L128.42,178.12 L128.89,178.12 L129.35,178.12 L129.82,178.12 L130.29,178.12 L130.75,178.13 L131.22,178.13 L131.69,178.13 L132.15,178.13 L132.62,178.13 L133.09,178.13 L133.55,178.13 L134.02,178.13 L134.49,178.13 L134.95,178.13 L135.42,178.13 L135.89,178.13 L136.35,178.13 L136.82,178.13 L137.29,178.13 L137.75,178.13 L138.22,178.13 L138.69,178.13 L139.15,178.13 L139.62,178.13 L140.09,178.13 L140.55,178.13 L141.02,178.13 L141.48,178.13 L141.95,178.13 L142.42,178.13 L142.88,178.13 L143.35,178.13 L143.82,178.13 L144.28,178.13 L144.75,178.13 L145.22,178.13 L145.68,178.13 L146.15,178.13 L146.62,178.13 L147.08,178.13 L147.55,178.13 L148.02,178.13 L148.48,178.13 L148.95,178.13 L149.42,178.13 L149.88,178.13 L150.35,178.13 L150.82,178.13 L151.28,178.13 L151.75,178.13 L152.22,178.13 L152.68,178.13 L153.15,178.13 L153.62,178.13 L154.08,178.13 L154.55,178.13 L155.02,178.13 L155.48,178.13 L155.95,178.13 L156.42,178.13 L156.88,178.12 L157.35,178.12 L157.82,178.12 L158.28,178.12 L158.75,178.12 L159.22,178.12 L159.68,178.12 L160.15,178.12 L160.62,178.12 L161.08,178.11 L161.55,178.11 L162.02,178.11 L162.48,178.11 L162.95,178.11 L163.42,178.11 L163.88,178.11 L164.35,178.11 L164.81,178.11 L165.28,178.10 L165.75,178.10 L166.21,178.10 L166.68,178.10 L167.15,178.10 L167.61,178.10 L168.08,178.10 L168.55,178.09 L169.01,178.09 L169.48,178.09 L169.95,178.09 L170.41,178.09 L170.88,178.09 L171.35,178.09 L171.81,178.08 L172.28,178.08 L172.75,178.08 L173.21,178.08 L173.68,178.08 L174.15,178.08 L174.61,178.07 L175.08,178.07 L175.55,178.07 L176.01,178.07 L176.48,178.07 L176.95,178.07 L177.41,178.06 L177.88,178.06 L178.35,178.06 L178.81,178.06 L179.28,178.06 L179.75,178.05 L180.21,178.05 L180.68,178.05 L181.15,178.05 L181.61,178.04 L182.08,178.04 L182.55,178.04 L183.01,178.04 L183.48,178.03 L183.95,178.03 L184.41,178.03 L184.88,178.03 L185.35,178.02 L185.81,178.02 L186.28,178.02 L186.75,178.02 L187.21,178.01 L187.68,178.01 L188.14,178.01 L188.61,178.00 L189.08,177.99 L189.54,177.98 L190.01,177.96 L190.48,177.94 L190.94,177.92 L191.41,177.89 L191.88,177.86 L192.34,177.83 L192.81,177.79 L193.28,177.75 L193.74,177.71 L194.21,177.66 L194.68,177.61 L195.14,177.56 L195.61,177.50 L196.08,177.42 L196.54,177.32 L197.01,177.21 L197.48,177.08 L197.94,176.94 L198.41,176.78 L198.88,176.60 L199.34,176.42 L199.81,176.22 L200.28,176.01 L200.74,175.76 L201.21,175.46 L201.68,175.13 L202.14,174.77 L202.61,174.36 L203.08,173.91 L203.54,173.42 L204.01,172.84 L204.48,172.15 L204.94,171.36 L205.41,170.46 L205.88,169.43 L206.34,168.27 L206.81,166.82 L207.28,165.01 L207.74,162.87 L208.21,160.42 L208.68,157.66 L209.14,154.06 L209.61,149.66 L210.08,144.74 L210.54,139.59 L211.01,134.48 L211.47,129.09 L211.94,123.36 L212.41,117.49 L212.87,111.68 L213.34,106.08 L213.81,100.37 L214.27,94.61 L214.74,89.08 L215.21,84.09 L215.67,79.86 L216.14,75.61 L216.61,71.76 L217.07,69.34 L217.54,69.31 L218.01,71.71 L218.47,75.34 L218.94,79.37 L219.41,84.97 L219.87,89.46 L220.34,92.22 L220.81,94.12 L221.27,94.59 L221.74,94.57 L222.21,94.26 L222.67,93.24 L223.14,91.74 L223.61,91.01 L224.07,90.75 L224.54,90.74 L225.01,91.15 L225.47,91.38 L225.94,91.97 L226.41,92.75 L226.87,93.99 L227.34,95.92 L227.81,98.35 L228.27,101.31 L228.74,105.63 L229.21,110.70 L229.67,115.66 L230.14,120.06 L230.61,124.40 L231.07,128.64 L231.54,132.66 L232.01,136.38 L232.47,139.88 L232.94,143.21 L233.41,146.38 L233.87,149.37 L234.34,152.19 L234.80,154.97 L235.27,157.67 L235.74,160.19 L236.20,162.44 L236.67,164.32 L237.14,165.93 L237.60,167.44 L238.07,168.81 L238.54,170.02 L239.00,171.02 L239.47,171.79 L239.94,172.41 L240.40,172.97 L240.87,173.48 L241.34,173.92 L241.80,174.31 L242.27,174.63 L242.74,174.89 L243.20,175.09 L243.67,175.27 L244.14,175.44 L244.60,175.59 L245.07,175.73 L245.54,175.85 L246.00,175.97 L246.47,176.07 L246.94,176.17 L247.40,176.26 L247.87,176.34 L248.34,176.42 L248.80,176.49 L249.27,176.56 L249.74,176.63 L250.20,176.69 L250.67,176.76 L251.14,176.82 L251.60,176.87 L252.07,176.93 L252.54,176.98 L253.00,177.04 L253.47,177.08 L253.94,177.13 L254.40,177.18 L254.87,177.22 L255.34,177.26 L255.80,177.30 L256.27,177.33 L256.74,177.37 L257.20,177.40 L257.67,177.43 L258.13,177.45 L258.60,177.48 L259.07,177.50 L259.53,177.53 L260.00,177.55 L260.47,177.58 L260.93,177.60 L261.40,177.63 L261.87,177.65 L262.33,177.67 L262.80,177.70 L263.27,177.72 L263.73,177.74 L264.20,177.76 L264.67,177.77 L265.13,177.79 L265.60,177.81 L266.07,177.82 L266.53,177.83 L267.00,177.85 L267.47,177.86 L267.93,177.86 L268.40,177.87 L268.87,177.88 L269.33,177.88 L269.80,177.88" fill="none" stroke="#f68b2c" stroke-width="1.4" stroke-linejoin="round" stroke-linecap="round" />
<line x1="36.50" y1="8.00" x2="36.50" y2="183.10" stroke="#1e1e1e" stroke-width="1.4"/>
<line x1="35.70" y1="182.30" x2="271.00" y2="182.30" stroke="#1e1e1e" stroke-width="1.4"/>
<line x1="32.70" y1="178.20" x2="36.50" y2="178.20" stroke="#1e1e1e" stroke-width="1.1"/>
<text x="30.80" y="181.50" font-size="8.4" text-anchor="end" fill="#222" stroke="#222" stroke-width="0.08" >0,0</text>
<line x1="32.70" y1="137.90" x2="36.50" y2="137.90" stroke="#1e1e1e" stroke-width="1.1"/>
<text x="30.80" y="141.20" font-size="8.4" text-anchor="end" fill="#222" stroke="#222" stroke-width="0.08" >0,5</text>
<line x1="32.70" y1="97.60" x2="36.50" y2="97.60" stroke="#1e1e1e" stroke-width="1.1"/>
<text x="30.80" y="100.90" font-size="8.4" text-anchor="end" fill="#222" stroke="#222" stroke-width="0.08" >1,0</text>
<line x1="32.70" y1="57.30" x2="36.50" y2="57.30" stroke="#1e1e1e" stroke-width="1.1"/>
<text x="30.80" y="60.60" font-size="8.4" text-anchor="end" fill="#222" stroke="#222" stroke-width="0.08" >1,5</text>
<line x1="32.70" y1="17.00" x2="36.50" y2="17.00" stroke="#1e1e1e" stroke-width="1.1"/>
<text x="30.80" y="20.30" font-size="8.4" text-anchor="end" fill="#222" stroke="#222" stroke-width="0.08" >2,0</text>
<line x1="34.50" y1="158.05" x2="36.50" y2="158.05" stroke="#1e1e1e" stroke-width="1.1"/>
<line x1="34.50" y1="117.75" x2="36.50" y2="117.75" stroke="#1e1e1e" stroke-width="1.1"/>
<line x1="34.50" y1="77.45" x2="36.50" y2="77.45" stroke="#1e1e1e" stroke-width="1.1"/>
<line x1="34.50" y1="37.15" x2="36.50" y2="37.15" stroke="#1e1e1e" stroke-width="1.1"/>
<line x1="36.50" y1="182.30" x2="36.50" y2="185.90" stroke="#1e1e1e" stroke-width="1.1"/>
<text x="36.50" y="194.00" font-size="8.4" text-anchor="middle" fill="#222" stroke="#222" stroke-width="0.08" >500</text>
<line x1="94.83" y1="182.30" x2="94.83" y2="185.90" stroke="#1e1e1e" stroke-width="1.1"/>
<text x="94.83" y="194.00" font-size="8.4" text-anchor="middle" fill="#222" stroke="#222" stroke-width="0.08" >550</text>
<line x1="153.15" y1="182.30" x2="153.15" y2="185.90" stroke="#1e1e1e" stroke-width="1.1"/>
<text x="153.15" y="194.00" font-size="8.4" text-anchor="middle" fill="#222" stroke="#222" stroke-width="0.08" >600</text>
<line x1="211.48" y1="182.30" x2="211.48" y2="185.90" stroke="#1e1e1e" stroke-width="1.1"/>
<text x="211.48" y="194.00" font-size="8.4" text-anchor="middle" fill="#222" stroke="#222" stroke-width="0.08" >650</text>
<line x1="269.80" y1="182.30" x2="269.80" y2="185.90" stroke="#1e1e1e" stroke-width="1.1"/>
<text x="269.80" y="194.00" font-size="8.4" text-anchor="middle" fill="#222" stroke="#222" stroke-width="0.08" >700</text>
<line x1="65.66" y1="182.30" x2="65.66" y2="184.30" stroke="#1e1e1e" stroke-width="1.1"/>
<line x1="123.99" y1="182.30" x2="123.99" y2="184.30" stroke="#1e1e1e" stroke-width="1.1"/>
<line x1="182.31" y1="182.30" x2="182.31" y2="184.30" stroke="#1e1e1e" stroke-width="1.1"/>
<line x1="240.64" y1="182.30" x2="240.64" y2="184.30" stroke="#1e1e1e" stroke-width="1.1"/>
<text x="158.80" y="207.90" font-size="10.55" text-anchor="middle" fill="#222" stroke="#222" stroke-width="0.08" >Wavelength (nm)</text>
<text x="0.00" y="0.00" font-size="10.4" text-anchor="middle" fill="#222" stroke="#222" stroke-width="0.08" transform="translate(12.8,94.7) rotate(-90)">Intensity (a.u.)</text>
<text x="3.30" y="12.60" font-size="12.4" text-anchor="start" fill="#222" stroke="#222" stroke-width="0.08" >a)</text>
<text x="43.20" y="19.70" font-size="9.4" text-anchor="start" fill="#222" stroke="#222" stroke-width="0.08" >NaYF<tspan font-size="5.8" dy="2.6">4</tspan><tspan dy="-2.6">:20% Yb, 1% Er, x% Gd</tspan></text>
<line x1="42.60" y1="31.40" x2="62.80" y2="31.40" stroke="#1a1a1a" stroke-width="1.3"/>
<text x="65.20" y="34.80" font-size="9.0" text-anchor="start" fill="#222" stroke="#222" stroke-width="0.18" >0%</text>
<line x1="42.60" y1="42.20" x2="62.80" y2="42.20" stroke="#f03a34" stroke-width="1.3"/>
<text x="65.20" y="45.60" font-size="9.0" text-anchor="start" fill="#222" stroke="#222" stroke-width="0.18" >2%</text>
<line x1="42.60" y1="53.00" x2="62.80" y2="53.00" stroke="#375db6" stroke-width="1.3"/>
<text x="65.20" y="56.40" font-size="9.0" text-anchor="start" fill="#222" stroke="#222" stroke-width="0.18" >5%</text>
<line x1="42.60" y1="63.80" x2="62.80" y2="63.80" stroke="#cf78c8" stroke-width="1.3"/>
<text x="65.20" y="67.20" font-size="9.0" text-anchor="start" fill="#222" stroke="#222" stroke-width="0.18" >8%</text>
<line x1="42.60" y1="74.60" x2="62.80" y2="74.60" stroke="#178f55" stroke-width="1.3"/>
<text x="65.20" y="78.00" font-size="9.0" text-anchor="start" fill="#222" stroke="#222" stroke-width="0.18" >10%</text>
<line x1="42.60" y1="85.40" x2="62.80" y2="85.40" stroke="#939336" stroke-width="1.3"/>
<text x="65.20" y="88.80" font-size="9.0" text-anchor="start" fill="#222" stroke="#222" stroke-width="0.18" >15%</text>
<line x1="42.60" y1="96.20" x2="62.80" y2="96.20" stroke="#f68b2c" stroke-width="1.3"/>
<text x="65.20" y="99.60" font-size="9.0" text-anchor="start" fill="#222" stroke="#222" stroke-width="0.18" >20%</text>
<text x="0.00" y="0.00" font-size="8.8" text-anchor="start" fill="#ff3a3a" stroke="#ff3a3a" stroke-width="0.2" transform="translate(68.00,159.60) rotate(-90) scale(0.93,1)"><tspan dy="-3.40" font-size="5.81">2</tspan><tspan dy="3.40" font-size="8.8">H</tspan><tspan dy="2.80" font-size="5.81">11/2</tspan><tspan dy="-2.80" font-size="8.8">-</tspan><tspan dy="-3.40" font-size="5.81">4</tspan><tspan dy="3.40" font-size="8.8">I</tspan><tspan dy="2.80" font-size="5.81">15/2</tspan></text>
<text x="0.00" y="0.00" font-size="8.8" text-anchor="start" fill="#ff3a3a" stroke="#ff3a3a" stroke-width="0.2" transform="translate(101.00,135.30) rotate(-90) scale(0.93,1)"><tspan dy="-3.40" font-size="5.81">4</tspan><tspan dy="3.40" font-size="8.8">S</tspan><tspan dy="2.80" font-size="5.81">3/2</tspan><tspan dy="-2.80" font-size="8.8">-</tspan><tspan dy="-3.40" font-size="5.81">4</tspan><tspan dy="3.40" font-size="8.8">I</tspan><tspan dy="2.80" font-size="5.81">15/2</tspan></text>
<text x="0.00" y="0.00" font-size="8.8" text-anchor="start" fill="#ff3a3a" stroke="#ff3a3a" stroke-width="0.2" transform="translate(207.60,62.40) rotate(-90) scale(0.93,1)"><tspan dy="-3.40" font-size="5.81">4</tspan><tspan dy="3.40" font-size="8.8">F</tspan><tspan dy="2.80" font-size="5.81">9/2</tspan><tspan dy="-2.80" font-size="8.8">-</tspan><tspan dy="-3.40" font-size="5.81">4</tspan><tspan dy="3.40" font-size="8.8">I</tspan><tspan dy="2.80" font-size="5.81">15/2</tspan></text>
<line x1="301.80" y1="6.00" x2="301.80" y2="183.50" stroke="#1e1e1e" stroke-width="1.4"/>
<line x1="301.00" y1="182.70" x2="540.50" y2="182.70" stroke="#1e1e1e" stroke-width="1.4"/>
<line x1="298.00" y1="182.60" x2="301.80" y2="182.60" stroke="#1e1e1e" stroke-width="1.1"/>
<text x="296.60" y="185.60" font-size="8.4" text-anchor="end" fill="#222" stroke="#222" stroke-width="0.08" >1</text>
<line x1="298.00" y1="161.80" x2="301.80" y2="161.80" stroke="#1e1e1e" stroke-width="1.1"/>
<text x="296.60" y="164.80" font-size="8.4" text-anchor="end" fill="#222" stroke="#222" stroke-width="0.08" >2</text>
<line x1="298.00" y1="141.00" x2="301.80" y2="141.00" stroke="#1e1e1e" stroke-width="1.1"/>
<text x="296.60" y="144.00" font-size="8.4" text-anchor="end" fill="#222" stroke="#222" stroke-width="0.08" >3</text>
<line x1="298.00" y1="120.20" x2="301.80" y2="120.20" stroke="#1e1e1e" stroke-width="1.1"/>
<text x="296.60" y="123.20" font-size="8.4" text-anchor="end" fill="#222" stroke="#222" stroke-width="0.08" >4</text>
<line x1="298.00" y1="99.40" x2="301.80" y2="99.40" stroke="#1e1e1e" stroke-width="1.1"/>
<text x="296.60" y="102.40" font-size="8.4" text-anchor="end" fill="#222" stroke="#222" stroke-width="0.08" >5</text>
<line x1="298.00" y1="78.60" x2="301.80" y2="78.60" stroke="#1e1e1e" stroke-width="1.1"/>
<text x="296.60" y="81.60" font-size="8.4" text-anchor="end" fill="#222" stroke="#222" stroke-width="0.08" >6</text>
<line x1="298.00" y1="57.80" x2="301.80" y2="57.80" stroke="#1e1e1e" stroke-width="1.1"/>
<text x="296.60" y="60.80" font-size="8.4" text-anchor="end" fill="#222" stroke="#222" stroke-width="0.08" >7</text>
<line x1="298.00" y1="37.00" x2="301.80" y2="37.00" stroke="#1e1e1e" stroke-width="1.1"/>
<text x="296.60" y="40.00" font-size="8.4" text-anchor="end" fill="#222" stroke="#222" stroke-width="0.08" >8</text>
<line x1="298.00" y1="16.20" x2="301.80" y2="16.20" stroke="#1e1e1e" stroke-width="1.1"/>
<text x="296.60" y="19.20" font-size="8.4" text-anchor="end" fill="#222" stroke="#222" stroke-width="0.08" >9</text>
<line x1="299.80" y1="172.20" x2="301.80" y2="172.20" stroke="#1e1e1e" stroke-width="1.1"/>
<line x1="299.80" y1="151.40" x2="301.80" y2="151.40" stroke="#1e1e1e" stroke-width="1.1"/>
<line x1="299.80" y1="130.60" x2="301.80" y2="130.60" stroke="#1e1e1e" stroke-width="1.1"/>
<line x1="299.80" y1="109.80" x2="301.80" y2="109.80" stroke="#1e1e1e" stroke-width="1.1"/>
<line x1="299.80" y1="89.00" x2="301.80" y2="89.00" stroke="#1e1e1e" stroke-width="1.1"/>
<line x1="299.80" y1="68.20" x2="301.80" y2="68.20" stroke="#1e1e1e" stroke-width="1.1"/>
<line x1="299.80" y1="47.40" x2="301.80" y2="47.40" stroke="#1e1e1e" stroke-width="1.1"/>
<line x1="299.80" y1="26.60" x2="301.80" y2="26.60" stroke="#1e1e1e" stroke-width="1.1"/>
<line x1="299.80" y1="6.60" x2="301.80" y2="6.60" stroke="#1e1e1e" stroke-width="1.1"/>
<line x1="312.60" y1="182.70" x2="312.60" y2="186.30" stroke="#1e1e1e" stroke-width="1.1"/>
<text x="312.60" y="194.60" font-size="8.4" text-anchor="middle" fill="#222" stroke="#222" stroke-width="0.08" >0</text>
<line x1="366.70" y1="182.70" x2="366.70" y2="186.30" stroke="#1e1e1e" stroke-width="1.1"/>
<text x="366.70" y="194.60" font-size="8.4" text-anchor="middle" fill="#222" stroke="#222" stroke-width="0.08" >5</text>
<line x1="420.80" y1="182.70" x2="420.80" y2="186.30" stroke="#1e1e1e" stroke-width="1.1"/>
<text x="420.80" y="194.60" font-size="8.4" text-anchor="middle" fill="#222" stroke="#222" stroke-width="0.08" >10</text>
<line x1="474.90" y1="182.70" x2="474.90" y2="186.30" stroke="#1e1e1e" stroke-width="1.1"/>
<text x="474.90" y="194.60" font-size="8.4" text-anchor="middle" fill="#222" stroke="#222" stroke-width="0.08" >15</text>
<line x1="529.00" y1="182.70" x2="529.00" y2="186.30" stroke="#1e1e1e" stroke-width="1.1"/>
<text x="529.00" y="194.60" font-size="8.4" text-anchor="middle" fill="#222" stroke="#222" stroke-width="0.08" >20</text>
<line x1="339.65" y1="182.70" x2="339.65" y2="184.70" stroke="#1e1e1e" stroke-width="1.1"/>
<line x1="393.75" y1="182.70" x2="393.75" y2="184.70" stroke="#1e1e1e" stroke-width="1.1"/>
<line x1="447.85" y1="182.70" x2="447.85" y2="184.70" stroke="#1e1e1e" stroke-width="1.1"/>
<line x1="501.95" y1="182.70" x2="501.95" y2="184.70" stroke="#1e1e1e" stroke-width="1.1"/>
<text x="425.60" y="208.70" font-size="10.3" text-anchor="middle" fill="#222" stroke="#222" stroke-width="0.08" >Gd<tspan font-size="5.6" dy="-3.6">3+</tspan><tspan dy="3.6"> concentration (at.%)</tspan></text>
<text x="0.00" y="0.00" font-size="10.4" text-anchor="middle" fill="#222" stroke="#222" stroke-width="0.08" transform="translate(286.4,94.6) rotate(-90)">Intensity (a.u.)</text>
<text x="275.40" y="12.60" font-size="12.4" text-anchor="start" fill="#222" stroke="#222" stroke-width="0.08" >b)</text>
<text x="471.30" y="21.20" font-size="8.9" text-anchor="start" fill="#222" stroke="#222" stroke-width="0.08" ><tspan dy="-3.40" font-size="5.34">4</tspan><tspan dy="3.40" font-size="8.9">S</tspan><tspan dy="2.80" font-size="5.34">3/2</tspan><tspan dy="-2.80" font-size="8.9">-</tspan><tspan dy="-3.40" font-size="5.34">4</tspan><tspan dy="3.40" font-size="8.9">I</tspan><tspan dy="2.80" font-size="5.34">15/2</tspan></text>
<rect x="310.30" y="142.03" width="4.6" height="4.6" fill="#000"/>
<rect x="331.94" y="112.70" width="4.6" height="4.6" fill="#000"/>
<rect x="364.40" y="24.09" width="4.6" height="4.6" fill="#000"/>
<rect x="396.86" y="145.77" width="4.6" height="4.6" fill="#000"/>
<rect x="418.50" y="123.10" width="4.6" height="4.6" fill="#000"/>
<rect x="472.60" y="160.12" width="4.6" height="4.6" fill="#000"/>
<rect x="526.70" y="146.19" width="4.6" height="4.6" fill="#000"/>
<path d="M313.70,159.31 L314.12,157.86 L314.54,156.39 L314.95,154.88 L315.37,153.35 L315.79,151.80 L316.21,150.22 L316.63,148.62 L317.05,147.00 L317.46,145.36 L317.88,143.70 L318.30,142.02 L318.72,140.33 L319.14,138.63 L319.56,136.91 L319.97,135.18 L320.39,133.43 L320.81,131.68 L321.23,129.93 L321.65,128.16 L322.06,126.39 L322.48,124.62 L322.90,122.85 L323.32,121.07 L323.74,119.29 L324.16,117.52 L324.57,115.75 L324.99,113.98 L325.41,112.22 L325.83,110.46 L326.25,108.71 L326.67,106.98 L327.08,105.25 L327.50,103.54 L327.92,101.83 L328.34,100.15 L328.76,98.48 L329.17,96.83 L329.59,95.19 L330.01,93.58 L330.43,91.99 L330.85,90.42 L331.27,88.87 L331.68,87.35 L332.10,85.85 L332.52,84.38 L332.94,82.93 L333.36,81.51 L333.78,80.10 L334.19,78.72 L334.61,77.36 L335.03,76.03 L335.45,74.71 L335.87,73.41 L336.28,72.13 L336.70,70.87 L337.12,69.63 L337.54,68.41 L337.96,67.21 L338.38,66.02 L338.79,64.85 L339.21,63.70 L339.63,62.56 L340.05,61.44 L340.47,60.33 L340.89,59.23 L341.30,58.15 L341.72,57.09 L342.14,56.03 L342.56,54.99 L342.98,53.96 L343.39,52.94 L343.81,51.93 L344.23,50.93 L344.65,49.94 L345.07,48.96 L345.49,47.99 L345.90,47.03 L346.32,46.07 L346.74,45.13 L347.16,44.20 L347.58,43.28 L348.00,42.38 L348.41,41.50 L348.83,40.65 L349.25,39.82 L349.67,39.02 L350.09,38.25 L350.50,37.52 L350.92,36.82 L351.34,36.16 L351.76,35.55 L352.18,34.98 L352.60,34.45 L353.01,33.98 L353.43,33.56 L353.85,33.20 L354.27,32.89 L354.69,32.64 L355.11,32.44 L355.52,32.30 L355.94,32.20 L356.36,32.16 L356.78,32.16 L357.20,32.22 L357.61,32.32 L358.03,32.46 L358.45,32.65 L358.87,32.89 L359.29,33.17 L359.71,33.49 L360.12,33.85 L360.54,34.25 L360.96,34.69 L361.38,35.16 L361.80,35.68 L362.22,36.23 L362.63,36.81 L363.05,37.43 L363.47,38.07 L363.89,38.76 L364.31,39.47 L364.72,40.21 L365.14,40.97 L365.56,41.77 L365.98,42.59 L366.40,43.43 L366.82,44.30 L367.23,45.20 L367.65,46.11 L368.07,47.05 L368.49,48.00 L368.91,48.97 L369.33,49.96 L369.74,50.97 L370.16,52.00 L370.58,53.03 L371.00,54.09 L371.42,55.16 L371.83,56.24 L372.25,57.33 L372.67,58.43 L373.09,59.54 L373.51,60.66 L373.93,61.79 L374.34,62.93 L374.76,64.07 L375.18,65.22 L375.60,66.37 L376.02,67.53 L376.44,68.69 L376.85,69.85 L377.27,71.01 L377.69,72.17 L378.11,73.33 L378.53,74.49 L378.94,75.65 L379.36,76.81 L379.78,77.96 L380.20,79.10 L380.62,80.24 L381.04,81.37 L381.45,82.49 L381.87,83.61 L382.29,84.72 L382.71,85.81 L383.13,86.89 L383.55,87.97 L383.96,89.03 L384.38,90.09 L384.80,91.14 L385.22,92.18 L385.64,93.21 L386.05,94.24 L386.47,95.26 L386.89,96.28 L387.31,97.29 L387.73,98.30 L388.15,99.31 L388.56,100.31 L388.98,101.31 L389.40,102.31 L389.82,103.29 L390.24,104.28 L390.66,105.25 L391.07,106.22 L391.49,107.17 L391.91,108.11 L392.33,109.04 L392.75,109.96 L393.16,110.85 L393.58,111.74 L394.00,112.60 L394.42,113.45 L394.84,114.28 L395.26,115.09 L395.67,115.89 L396.09,116.67 L396.51,117.43 L396.93,118.18 L397.35,118.90 L397.77,119.62 L398.18,120.31 L398.60,121.00 L399.02,121.66 L399.44,122.31 L399.86,122.95 L400.27,123.57 L400.69,124.18 L401.11,124.77 L401.53,125.35 L401.95,125.92 L402.37,126.47 L402.78,127.01 L403.20,127.54 L403.62,128.06 L404.04,128.56 L404.46,129.05 L404.88,129.53 L405.29,130.00 L405.71,130.46 L406.13,130.90 L406.55,131.34 L406.97,131.76 L407.38,132.17 L407.80,132.58 L408.22,132.97 L408.64,133.36 L409.06,133.73 L409.48,134.10 L409.89,134.46 L410.31,134.81 L410.73,135.15 L411.15,135.48 L411.57,135.81 L411.99,136.13 L412.40,136.44 L412.82,136.74 L413.24,137.04 L413.66,137.33 L414.08,137.62 L414.49,137.90 L414.91,138.17 L415.33,138.44 L415.75,138.70 L416.17,138.96 L416.59,139.21 L417.00,139.46 L417.42,139.70 L417.84,139.94 L418.26,140.18 L418.68,140.41 L419.10,140.64 L419.51,140.87 L419.93,141.09 L420.35,141.31 L420.77,141.53 L421.19,141.75 L421.61,141.96 L422.02,142.17 L422.44,142.38 L422.86,142.59 L423.28,142.79 L423.70,142.99 L424.11,143.19 L424.53,143.38 L424.95,143.57 L425.37,143.76 L425.79,143.95 L426.21,144.14 L426.62,144.32 L427.04,144.50 L427.46,144.68 L427.88,144.86 L428.30,145.03 L428.72,145.20 L429.13,145.37 L429.55,145.54 L429.97,145.71 L430.39,145.87 L430.81,146.03 L431.22,146.19 L431.64,146.35 L432.06,146.50 L432.48,146.66 L432.90,146.81 L433.32,146.96 L433.73,147.11 L434.15,147.25 L434.57,147.40 L434.99,147.54 L435.41,147.68 L435.83,147.82 L436.24,147.96 L436.66,148.10 L437.08,148.23 L437.50,148.36 L437.92,148.49 L438.33,148.62 L438.75,148.75 L439.17,148.88 L439.59,149.00 L440.01,149.13 L440.43,149.25 L440.84,149.37 L441.26,149.49 L441.68,149.61 L442.10,149.73 L442.52,149.84 L442.94,149.96 L443.35,150.07 L443.77,150.18 L444.19,150.30 L444.61,150.41 L445.03,150.52 L445.44,150.62 L445.86,150.73 L446.28,150.84 L446.70,150.94 L447.12,151.05 L447.54,151.15 L447.95,151.25 L448.37,151.36 L448.79,151.46 L449.21,151.56 L449.63,151.66 L450.05,151.76 L450.46,151.85 L450.88,151.95 L451.30,152.05 L451.72,152.15 L452.14,152.24 L452.55,152.34 L452.97,152.43 L453.39,152.53 L453.81,152.62 L454.23,152.71 L454.65,152.81 L455.06,152.90 L455.48,152.99 L455.90,153.08 L456.32,153.18 L456.74,153.27 L457.16,153.36 L457.57,153.45 L457.99,153.54 L458.41,153.63 L458.83,153.72 L459.25,153.81 L459.66,153.90 L460.08,154.00 L460.50,154.09 L460.92,154.18 L461.34,154.27 L461.76,154.36 L462.17,154.45 L462.59,154.54 L463.01,154.63 L463.43,154.72 L463.85,154.81 L464.27,154.90 L464.68,155.00 L465.10,155.09 L465.52,155.18 L465.94,155.27 L466.36,155.36 L466.77,155.45 L467.19,155.54 L467.61,155.63 L468.03,155.72 L468.45,155.81 L468.87,155.90 L469.28,155.99 L469.70,156.08 L470.12,156.17 L470.54,156.26 L470.96,156.35 L471.38,156.44 L471.79,156.53 L472.21,156.62 L472.63,156.71 L473.05,156.80 L473.47,156.89 L473.88,156.98 L474.30,157.07 L474.72,157.16 L475.14,157.25 L475.56,157.34 L475.98,157.42 L476.39,157.51 L476.81,157.60 L477.23,157.69 L477.65,157.78 L478.07,157.87 L478.49,157.95 L478.90,158.04 L479.32,158.13 L479.74,158.22 L480.16,158.30 L480.58,158.39 L480.99,158.48 L481.41,158.56 L481.83,158.65 L482.25,158.74 L482.67,158.82 L483.09,158.91 L483.50,158.99 L483.92,159.08 L484.34,159.16 L484.76,159.25 L485.18,159.33 L485.60,159.42 L486.01,159.50 L486.43,159.59 L486.85,159.67 L487.27,159.76 L487.69,159.84 L488.10,159.92 L488.52,160.01 L488.94,160.09 L489.36,160.17 L489.78,160.25 L490.20,160.33 L490.61,160.42 L491.03,160.50 L491.45,160.58 L491.87,160.66 L492.29,160.74 L492.71,160.82 L493.12,160.90 L493.54,160.98 L493.96,161.06 L494.38,161.14 L494.80,161.22 L495.21,161.30 L495.63,161.37 L496.05,161.45 L496.47,161.53 L496.89,161.61 L497.31,161.68 L497.72,161.76 L498.14,161.83 L498.56,161.91 L498.98,161.99 L499.40,162.06 L499.82,162.14 L500.23,162.21 L500.65,162.28 L501.07,162.36 L501.49,162.43 L501.91,162.50 L502.32,162.58 L502.74,162.65 L503.16,162.72 L503.58,162.79 L504.00,162.86 L504.42,162.93 L504.83,163.00 L505.25,163.07 L505.67,163.14 L506.09,163.21 L506.51,163.28 L506.93,163.35 L507.34,163.41 L507.76,163.48 L508.18,163.55 L508.60,163.61 L509.02,163.68 L509.43,163.75 L509.85,163.81 L510.27,163.88 L510.69,163.94 L511.11,164.00 L511.53,164.07 L511.94,164.13 L512.36,164.19 L512.78,164.25 L513.20,164.31 L513.62,164.37 L514.04,164.43 L514.45,164.49 L514.87,164.55 L515.29,164.61 L515.71,164.67 L516.13,164.73 L516.54,164.78 L516.96,164.84 L517.38,164.90 L517.80,164.95 L518.22,165.01 L518.64,165.06 L519.05,165.12 L519.47,165.17 L519.89,165.22 L520.31,165.27 L520.73,165.33 L521.15,165.38 L521.56,165.43 L521.98,165.48 L522.40,165.53" fill="none" stroke="#151515" stroke-width="1.35" stroke-linejoin="round" stroke-linecap="round" />
<path d="M35.30,392.88 L35.66,392.89 L36.02,392.92 L36.39,392.95 L36.75,392.98 L37.11,392.94 L37.47,392.87 L37.84,392.85 L38.20,392.88 L38.56,392.91 L38.92,392.88 L39.29,392.85 L39.65,392.91 L40.01,392.92 L40.38,392.90 L40.74,392.92 L41.10,392.93 L41.46,393.04 L41.82,393.03 L42.19,393.09 L42.55,393.02 L42.91,393.02 L43.27,392.94 L43.64,392.92 L44.00,392.88 L44.36,392.99 L44.72,393.02 L45.09,393.01 L45.45,392.91 L45.81,392.95 L46.17,392.96 L46.54,393.01 L46.90,392.98 L47.26,392.92 L47.62,392.91 L47.99,392.88 L48.35,392.89 L48.71,392.88 L49.07,392.88 L49.44,392.91 L49.80,392.89 L50.16,392.93 L50.52,392.93 L50.89,392.88 L51.25,392.89 L51.61,392.86 L51.97,392.91 L52.34,392.88 L52.70,392.83 L53.06,392.81 L53.42,392.83 L53.79,392.90 L54.15,392.91 L54.51,392.87 L54.88,392.85 L55.24,392.87 L55.60,392.84 L55.96,392.81 L56.32,392.83 L56.69,392.85 L57.05,392.93 L57.41,392.90 L57.77,392.95 L58.14,392.95 L58.50,392.97 L58.86,392.89 L59.22,392.82 L59.59,392.86 L59.95,392.93 L60.31,392.95 L60.67,392.97 L61.04,392.96 L61.40,392.99 L61.76,392.86 L62.12,392.82 L62.49,392.83 L62.85,392.89 L63.21,392.93 L63.57,392.85 L63.94,392.86 L64.30,392.86 L64.66,392.90 L65.02,392.89 L65.39,392.88 L65.75,392.94 L66.11,392.94 L66.47,392.94 L66.84,392.85 L67.20,392.82 L67.56,392.79 L67.92,392.80 L68.29,392.81 L68.65,392.73 L69.01,392.70 L69.38,392.59 L69.74,392.57 L70.10,392.41 L70.46,392.33 L70.82,392.15 L71.19,391.96 L71.55,391.71 L71.91,391.42 L72.28,391.16 L72.64,391.05 L73.00,391.05 L73.36,391.16 L73.72,391.21 L74.09,391.34 L74.45,391.53 L74.81,391.72 L75.17,391.87 L75.54,392.06 L75.90,392.21 L76.26,392.31 L76.62,392.37 L76.99,392.37 L77.35,392.40 L77.71,392.28 L78.07,392.23 L78.44,392.12 L78.80,392.10 L79.16,392.00 L79.53,391.94 L79.89,391.80 L80.25,391.58 L80.61,391.34 L80.97,390.96 L81.34,390.68 L81.70,390.12 L82.06,389.65 L82.42,388.91 L82.79,388.16 L83.15,387.28 L83.51,386.20 L83.88,384.92 L84.24,383.46 L84.60,381.94 L84.96,380.23 L85.32,378.33 L85.69,376.18 L86.05,373.97 L86.41,371.59 L86.78,369.26 L87.14,366.84 L87.50,364.50 L87.86,362.11 L88.22,359.94 L88.59,357.91 L88.95,356.28 L89.31,354.93 L89.67,353.98 L90.04,353.38 L90.40,353.14 L90.76,353.35 L91.12,353.96 L91.49,355.02 L91.85,356.41 L92.21,358.01 L92.57,359.93 L92.94,362.09 L93.30,364.44 L93.66,366.76 L94.03,369.20 L94.39,371.62 L94.75,374.04 L95.11,376.28 L95.47,378.34 L95.84,380.26 L96.20,381.95 L96.56,383.59 L96.92,384.98 L97.29,386.23 L97.65,387.26 L98.01,388.23 L98.38,389.03 L98.74,389.62 L99.10,390.13 L99.46,390.51 L99.82,390.93 L100.19,391.23 L100.55,391.51 L100.91,391.68 L101.27,391.84 L101.64,391.97 L102.00,392.11 L102.36,392.14 L102.72,392.19 L103.09,392.25 L103.45,392.38 L103.81,392.51 L104.17,392.54 L104.54,392.52 L104.90,392.51 L105.26,392.56 L105.62,392.60 L105.99,392.59 L106.35,392.60 L106.71,392.67 L107.07,392.66 L107.44,392.77 L107.80,392.73 L108.16,392.79 L108.52,392.72 L108.89,392.69 L109.25,392.66 L109.61,392.75 L109.97,392.89 L110.34,392.93 L110.70,392.93 L111.06,392.87 L111.42,392.87 L111.79,392.90 L112.15,392.99 L112.51,393.01 L112.88,392.95 L113.24,392.88 L113.60,392.89 L113.96,392.92 L114.32,392.98 L114.69,392.98 L115.05,392.99 L115.41,393.00 L115.77,392.97 L116.14,392.93 L116.50,392.85 L116.86,392.91 L117.22,392.94 L117.59,392.99 L117.95,392.99 L118.31,392.96 L118.67,392.95 L119.04,392.90 L119.40,392.89 L119.76,392.78 L120.12,392.85 L120.49,392.83 L120.85,392.91 L121.21,392.86 L121.57,392.95 L121.94,392.97 L122.30,392.94 L122.66,392.88 L123.02,392.86 L123.39,392.90 L123.75,392.85 L124.11,392.86 L124.47,392.93 L124.84,393.00 L125.20,393.08 L125.56,393.12 L125.92,393.12 L126.29,392.99 L126.65,392.86 L127.01,392.88 L127.38,392.97 L127.74,392.93 L128.10,392.88 L128.46,392.84 L128.82,392.88 L129.19,392.89 L129.55,392.86 L129.91,392.84 L130.27,392.83 L130.64,392.90 L131.00,392.90 L131.36,392.94 L131.72,392.85 L132.09,392.92 L132.45,392.90 L132.81,392.95 L133.18,392.95 L133.54,392.87 L133.90,392.82 L134.26,392.78 L134.62,392.82 L134.99,392.86 L135.35,392.95 L135.71,392.97 L136.07,392.99 L136.44,392.88 L136.80,392.93 L137.16,392.94 L137.52,392.95 L137.89,392.86 L138.25,392.84 L138.61,392.83 L138.97,392.82 L139.34,392.85 L139.70,392.87 L140.06,393.00 L140.43,392.92 L140.79,392.86 L141.15,392.75 L141.51,392.79 L141.88,392.82 L142.24,392.85 L142.60,392.89 L142.96,392.90 L143.32,392.91 L143.69,392.84 L144.05,392.81 L144.41,392.81 L144.77,392.89 L145.14,392.94 L145.50,392.87 L145.86,392.83 L146.22,392.80 L146.59,392.88 L146.95,392.94 L147.31,392.95 L147.68,392.90 L148.04,392.87 L148.40,392.88 L148.76,392.92 L149.12,392.90 L149.49,392.96 L149.85,392.96 L150.21,393.00 L150.57,392.90 L150.94,392.92 L151.30,392.86 L151.66,392.84 L152.02,392.82 L152.39,392.87 L152.75,392.92 L153.11,392.91 L153.47,392.92 L153.84,392.91 L154.20,392.83 L154.56,392.80 L154.93,392.83 L155.29,392.95 L155.65,392.93 L156.01,392.97 L156.38,392.97 L156.74,392.93 L157.10,392.92 L157.46,392.83 L157.82,392.82 L158.19,392.78 L158.55,392.80 L158.91,392.78 L159.27,392.80 L159.64,392.84 L160.00,392.97 L160.36,392.96 L160.72,392.88 L161.09,392.79 L161.45,392.83 L161.81,392.92 L162.18,392.98 L162.54,392.93 L162.90,392.91 L163.26,392.88 L163.62,392.88 L163.99,392.88 L164.35,392.89 L164.71,392.90 L165.07,392.89 L165.44,392.87 L165.80,392.80 L166.16,392.77 L166.52,392.79 L166.89,392.93 L167.25,392.94 L167.61,393.02 L167.97,393.01 L168.34,392.99 L168.70,392.88 L169.06,392.83 L169.43,392.94 L169.79,392.98 L170.15,393.00 L170.51,392.91 L170.88,392.80 L171.24,392.77 L171.60,392.82 L171.96,392.96 L172.32,392.97 L172.69,392.95 L173.05,392.94 L173.41,392.94 L173.77,392.98 L174.14,392.89 L174.50,392.85 L174.86,392.76 L175.22,392.82 L175.59,392.85 L175.95,392.89 L176.31,392.89 L176.68,392.92 L177.04,392.97 L177.40,393.01 L177.76,392.97 L178.12,392.92 L178.49,392.86 L178.85,392.85 L179.21,392.91 L179.57,392.95 L179.94,392.98 L180.30,392.90 L180.66,392.88 L181.02,392.85 L181.39,392.86 L181.75,392.89 L182.11,392.96 L182.47,392.94 L182.84,392.87 L183.20,392.91 L183.56,392.89 L183.93,392.88 L184.29,392.75 L184.65,392.81 L185.01,392.85 L185.38,392.94 L185.74,392.82 L186.10,392.81 L186.46,392.70 L186.82,392.83 L187.19,392.81 L187.55,392.93 L187.91,392.92 L188.27,392.88 L188.64,392.86 L189.00,392.79 L189.36,392.81 L189.72,392.80 L190.09,392.85 L190.45,392.87 L190.81,392.83 L191.18,392.82 L191.54,392.83 L191.90,392.83 L192.26,392.84 L192.62,392.84 L192.99,392.82 L193.35,392.74 L193.71,392.74 L194.07,392.72 L194.44,392.77 L194.80,392.74 L195.16,392.69 L195.52,392.67 L195.89,392.56 L196.25,392.61 L196.61,392.56 L196.97,392.61 L197.34,392.59 L197.70,392.57 L198.06,392.55 L198.43,392.48 L198.79,392.49 L199.15,392.50 L199.51,392.51 L199.88,392.49 L200.24,392.39 L200.60,392.40 L200.96,392.38 L201.32,392.46 L201.69,392.38 L202.05,392.40 L202.41,392.37 L202.77,392.38 L203.14,392.27 L203.50,392.23 L203.86,392.21 L204.22,392.17 L204.59,391.98 L204.95,391.71 L205.31,391.46 L205.68,391.17 L206.04,390.86 L206.40,390.55 L206.76,390.06 L207.12,389.95 L207.49,389.47 L207.85,389.37 L208.21,387.95 L208.57,386.98 L208.94,385.70 L209.30,385.44 L209.66,384.55 L210.02,383.78 L210.39,382.40 L210.75,381.82 L211.11,381.36 L211.47,381.27 L211.84,380.50 L212.20,379.05 L212.56,377.75 L212.93,376.83 L213.29,376.64 L213.65,376.23 L214.01,374.88 L214.38,374.70 L214.74,373.89 L215.10,374.06 L215.46,372.51 L215.82,372.82 L216.19,373.01 L216.55,374.68 L216.91,375.58 L217.27,375.52 L217.64,374.78 L218.00,374.43 L218.36,374.83 L218.72,375.37 L219.09,375.18 L219.45,374.86 L219.81,374.60 L220.18,375.10 L220.54,375.99 L220.90,376.25 L221.26,376.24 L221.62,375.55 L221.99,375.00 L222.35,375.03 L222.71,375.62 L223.07,376.17 L223.44,376.56 L223.80,377.14 L224.16,377.72 L224.52,378.11 L224.89,377.62 L225.25,377.40 L225.61,376.80 L225.97,376.92 L226.34,377.34 L226.70,378.27 L227.06,379.05 L227.43,379.77 L227.79,380.22 L228.15,381.05 L228.51,382.16 L228.88,383.03 L229.24,384.16 L229.60,384.75 L229.96,385.60 L230.32,386.48 L230.69,386.89 L231.05,387.24 L231.41,387.11 L231.77,387.58 L232.14,388.02 L232.50,388.50 L232.86,388.71 L233.22,388.96 L233.59,388.86 L233.95,389.22 L234.31,389.14 L234.68,389.23 L235.04,389.06 L235.40,389.32 L235.76,389.29 L236.12,389.74 L236.49,389.57 L236.85,389.69 L237.21,389.24 L237.57,389.27 L237.94,389.46 L238.30,389.51 L238.66,389.32 L239.02,388.88 L239.39,388.56 L239.75,388.86 L240.11,388.59 L240.47,388.08 L240.84,387.10 L241.20,386.68 L241.56,386.76 L241.93,386.08 L242.29,385.39 L242.65,384.82 L243.01,384.11 L243.38,383.61 L243.74,382.44 L244.10,381.91 L244.46,380.36 L244.82,379.25 L245.19,378.10 L245.55,377.06 L245.91,375.61 L246.27,374.84 L246.64,374.59 L247.00,374.65 L247.36,374.11 L247.72,373.20 L248.09,372.03 L248.45,371.16 L248.81,370.44 L249.18,370.35 L249.54,370.02 L249.90,369.73 L250.26,369.01 L250.62,368.45 L250.99,368.47 L251.35,368.88 L251.71,369.48 L252.07,370.45 L252.44,371.49 L252.80,372.08 L253.16,372.58 L253.52,373.01 L253.89,374.79 L254.25,376.03 L254.61,377.38 L254.97,378.10 L255.34,379.46 L255.70,380.20 L256.06,380.50 L256.43,380.54 L256.79,381.33 L257.15,382.25 L257.51,382.77 L257.88,383.90 L258.24,384.47 L258.60,385.06 L258.96,384.69 L259.32,384.72 L259.69,385.01 L260.05,385.49 L260.41,386.14 L260.77,386.41 L261.14,386.76 L261.50,386.96 L261.86,387.04 L262.22,386.50 L262.59,386.62 L262.95,386.94 L263.31,387.45 L263.68,387.14 L264.04,387.19 L264.40,386.92 L264.76,387.55 L265.12,387.63 L265.49,388.09 L265.85,387.69 L266.21,387.42 L266.57,387.78 L266.94,388.24 L267.30,388.46 L267.66,388.27 L268.02,388.46 L268.39,388.31 L268.75,388.05 L269.11,387.57 L269.47,387.96 L269.84,387.85 L270.20,388.04 L270.56,387.66 L270.93,387.92" fill="none" stroke="#1a1a1a" stroke-width="1.4" stroke-linejoin="round" stroke-linecap="round" />
<path d="M35.30,392.96 L35.66,392.95 L36.02,392.94 L36.39,392.88 L36.75,392.88 L37.11,392.89 L37.47,392.91 L37.84,392.94 L38.20,392.86 L38.56,392.89 L38.92,392.90 L39.29,392.88 L39.65,392.77 L40.01,392.68 L40.38,392.72 L40.74,392.80 L41.10,392.82 L41.46,392.83 L41.82,392.87 L42.19,392.93 L42.55,392.91 L42.91,392.90 L43.27,392.97 L43.64,393.04 L44.00,392.98 L44.36,392.95 L44.72,392.90 L45.09,392.92 L45.45,392.86 L45.81,392.87 L46.17,392.86 L46.54,392.92 L46.90,392.92 L47.26,392.98 L47.62,392.90 L47.99,392.89 L48.35,392.88 L48.71,392.93 L49.07,392.94 L49.44,392.89 L49.80,392.93 L50.16,392.97 L50.52,393.01 L50.89,392.85 L51.25,392.77 L51.61,392.76 L51.97,392.83 L52.34,392.79 L52.70,392.79 L53.06,392.83 L53.42,392.87 L53.79,392.84 L54.15,392.80 L54.51,392.86 L54.88,392.81 L55.24,392.77 L55.60,392.73 L55.96,392.77 L56.32,392.92 L56.69,392.92 L57.05,392.95 L57.41,392.86 L57.77,392.85 L58.14,392.86 L58.50,392.94 L58.86,392.96 L59.22,392.97 L59.59,392.92 L59.95,392.96 L60.31,392.94 L60.67,393.02 L61.04,392.95 L61.40,392.92 L61.76,392.79 L62.12,392.76 L62.49,392.77 L62.85,392.88 L63.21,392.99 L63.57,393.04 L63.94,392.99 L64.30,392.95 L64.66,392.98 L65.02,392.95 L65.39,393.01 L65.75,392.91 L66.11,392.93 L66.47,392.88 L66.84,392.89 L67.20,392.90 L67.56,392.90 L67.92,392.95 L68.29,392.90 L68.65,392.76 L69.01,392.56 L69.38,392.42 L69.74,392.35 L70.10,392.31 L70.46,392.12 L70.82,391.95 L71.19,391.69 L71.55,391.53 L71.91,391.32 L72.28,391.16 L72.64,391.03 L73.00,391.03 L73.36,391.04 L73.72,391.03 L74.09,391.12 L74.45,391.27 L74.81,391.50 L75.17,391.63 L75.54,391.79 L75.90,391.90 L76.26,391.94 L76.62,391.90 L76.99,391.86 L77.35,391.77 L77.71,391.71 L78.07,391.59 L78.44,391.52 L78.80,391.25 L79.16,391.10 L79.53,390.84 L79.89,390.59 L80.25,390.08 L80.61,389.54 L80.97,388.87 L81.34,388.23 L81.70,387.34 L82.06,386.34 L82.42,385.02 L82.79,383.49 L83.15,381.71 L83.51,379.65 L83.88,377.24 L84.24,374.47 L84.60,371.26 L84.96,367.72 L85.32,363.79 L85.69,359.53 L86.05,355.10 L86.41,350.52 L86.78,345.82 L87.14,341.02 L87.50,336.25 L87.86,331.62 L88.22,327.32 L88.59,323.47 L88.95,320.12 L89.31,317.38 L89.67,315.28 L90.04,314.07 L90.40,313.63 L90.76,314.05 L91.12,315.24 L91.49,317.26 L91.85,319.96 L92.21,323.34 L92.57,327.29 L92.94,331.60 L93.30,336.21 L93.66,340.91 L94.03,345.78 L94.39,350.49 L94.75,355.15 L95.11,359.59 L95.47,363.90 L95.84,367.77 L96.20,371.24 L96.56,374.36 L96.92,377.14 L97.29,379.61 L97.65,381.67 L98.01,383.51 L98.38,385.02 L98.74,386.29 L99.10,387.23 L99.46,388.15 L99.82,388.93 L100.19,389.66 L100.55,390.08 L100.91,390.51 L101.27,390.83 L101.64,391.13 L102.00,391.35 L102.36,391.56 L102.72,391.74 L103.09,391.93 L103.45,392.07 L103.81,392.18 L104.17,392.18 L104.54,392.22 L104.90,392.35 L105.26,392.44 L105.62,392.46 L105.99,392.42 L106.35,392.46 L106.71,392.57 L107.07,392.61 L107.44,392.66 L107.80,392.71 L108.16,392.79 L108.52,392.74 L108.89,392.70 L109.25,392.65 L109.61,392.74 L109.97,392.73 L110.34,392.81 L110.70,392.81 L111.06,392.76 L111.42,392.72 L111.79,392.74 L112.15,392.85 L112.51,392.87 L112.88,392.81 L113.24,392.83 L113.60,392.91 L113.96,392.97 L114.32,392.96 L114.69,392.89 L115.05,392.82 L115.41,392.81 L115.77,392.79 L116.14,392.88 L116.50,392.86 L116.86,392.81 L117.22,392.74 L117.59,392.77 L117.95,392.84 L118.31,392.80 L118.67,392.85 L119.04,392.86 L119.40,392.91 L119.76,392.85 L120.12,392.86 L120.49,392.87 L120.85,392.91 L121.21,392.88 L121.57,392.90 L121.94,392.94 L122.30,392.94 L122.66,392.90 L123.02,392.89 L123.39,392.90 L123.75,392.91 L124.11,392.92 L124.47,392.90 L124.84,392.97 L125.20,392.88 L125.56,392.80 L125.92,392.68 L126.29,392.73 L126.65,392.79 L127.01,392.86 L127.38,392.85 L127.74,392.82 L128.10,392.88 L128.46,392.84 L128.82,392.90 L129.19,392.80 L129.55,392.83 L129.91,392.85 L130.27,392.90 L130.64,392.88 L131.00,392.85 L131.36,392.84 L131.72,392.89 L132.09,392.98 L132.45,392.96 L132.81,392.91 L133.18,392.82 L133.54,392.85 L133.90,392.84 L134.26,392.86 L134.62,392.89 L134.99,392.94 L135.35,392.88 L135.71,392.91 L136.07,392.85 L136.44,392.92 L136.80,392.91 L137.16,392.91 L137.52,392.89 L137.89,392.90 L138.25,392.96 L138.61,392.92 L138.97,392.82 L139.34,392.82 L139.70,392.84 L140.06,392.86 L140.43,392.87 L140.79,392.87 L141.15,392.90 L141.51,392.90 L141.88,392.93 L142.24,392.93 L142.60,392.91 L142.96,392.91 L143.32,392.93 L143.69,392.89 L144.05,392.85 L144.41,392.80 L144.77,392.80 L145.14,392.78 L145.50,392.73 L145.86,392.81 L146.22,392.80 L146.59,392.90 L146.95,392.80 L147.31,392.76 L147.68,392.83 L148.04,392.94 L148.40,392.98 L148.76,392.87 L149.12,392.80 L149.49,392.83 L149.85,392.85 L150.21,392.85 L150.57,392.85 L150.94,392.83 L151.30,392.94 L151.66,392.91 L152.02,392.99 L152.39,392.87 L152.75,392.90 L153.11,392.90 L153.47,392.92 L153.84,392.95 L154.20,392.95 L154.56,393.02 L154.93,392.99 L155.29,392.93 L155.65,392.83 L156.01,392.84 L156.38,392.81 L156.74,392.85 L157.10,392.85 L157.46,392.87 L157.82,392.83 L158.19,392.84 L158.55,392.87 L158.91,392.92 L159.27,392.90 L159.64,392.93 L160.00,392.88 L160.36,392.90 L160.72,392.85 L161.09,392.92 L161.45,392.89 L161.81,392.89 L162.18,392.88 L162.54,392.81 L162.90,392.81 L163.26,392.73 L163.62,392.77 L163.99,392.81 L164.35,392.89 L164.71,392.91 L165.07,392.89 L165.44,392.87 L165.80,392.90 L166.16,392.97 L166.52,392.98 L166.89,393.06 L167.25,392.97 L167.61,392.99 L167.97,392.93 L168.34,392.96 L168.70,392.92 L169.06,392.94 L169.43,393.00 L169.79,393.06 L170.15,393.08 L170.51,393.05 L170.88,392.95 L171.24,392.91 L171.60,392.84 L171.96,392.96 L172.32,392.91 L172.69,392.94 L173.05,392.89 L173.41,392.88 L173.77,392.80 L174.14,392.79 L174.50,392.81 L174.86,392.92 L175.22,392.90 L175.59,392.91 L175.95,392.84 L176.31,392.87 L176.68,392.79 L177.04,392.90 L177.40,392.91 L177.76,392.94 L178.12,392.88 L178.49,392.90 L178.85,392.95 L179.21,392.99 L179.57,392.95 L179.94,392.84 L180.30,392.74 L180.66,392.79 L181.02,392.92 L181.39,392.98 L181.75,392.90 L182.11,392.90 L182.47,392.91 L182.84,392.91 L183.20,392.85 L183.56,392.84 L183.93,392.91 L184.29,393.01 L184.65,393.02 L185.01,393.07 L185.38,392.98 L185.74,392.97 L186.10,392.87 L186.46,392.82 L186.82,392.75 L187.19,392.82 L187.55,392.86 L187.91,392.86 L188.27,392.84 L188.64,392.91 L189.00,392.96 L189.36,392.99 L189.72,392.90 L190.09,392.99 L190.45,392.97 L190.81,393.04 L191.18,392.95 L191.54,392.90 L191.90,392.88 L192.26,392.88 L192.62,392.84 L192.99,392.94 L193.35,392.93 L193.71,393.00 L194.07,392.91 L194.44,392.90 L194.80,392.91 L195.16,392.94 L195.52,392.92 L195.89,392.87 L196.25,392.87 L196.61,392.82 L196.97,392.75 L197.34,392.78 L197.70,392.84 L198.06,392.84 L198.43,392.75 L198.79,392.75 L199.15,392.86 L199.51,392.91 L199.88,392.93 L200.24,392.94 L200.60,392.89 L200.96,392.90 L201.32,392.89 L201.69,392.97 L202.05,392.96 L202.41,392.94 L202.77,392.82 L203.14,392.64 L203.50,392.41 L203.86,392.18 L204.22,391.97 L204.59,391.74 L204.95,391.52 L205.31,391.25 L205.68,390.85 L206.04,390.46 L206.40,389.91 L206.76,389.36 L207.12,388.73 L207.49,388.64 L207.85,388.27 L208.21,387.53 L208.57,387.10 L208.94,386.15 L209.30,385.88 L209.66,385.73 L210.02,385.59 L210.39,385.19 L210.75,383.75 L211.11,382.27 L211.47,379.92 L211.84,377.83 L212.20,375.57 L212.56,372.58 L212.93,369.11 L213.29,365.61 L213.65,363.43 L214.01,362.12 L214.38,361.56 L214.74,361.76 L215.10,362.40 L215.46,363.30 L215.82,364.22 L216.19,364.46 L216.55,364.13 L216.91,363.58 L217.27,362.60 L217.64,361.87 L218.00,359.96 L218.36,359.43 L218.72,358.89 L219.09,359.14 L219.45,358.14 L219.81,357.22 L220.18,356.91 L220.54,357.04 L220.90,357.84 L221.26,358.39 L221.62,358.79 L221.99,359.00 L222.35,359.55 L222.71,360.30 L223.07,360.75 L223.44,360.73 L223.80,361.28 L224.16,361.87 L224.52,363.15 L224.89,363.85 L225.25,363.77 L225.61,364.47 L225.97,364.95 L226.34,366.42 L226.70,367.43 L227.06,369.38 L227.43,371.57 L227.79,373.69 L228.15,375.17 L228.51,377.02 L228.88,378.20 L229.24,379.41 L229.60,379.92 L229.96,380.59 L230.32,380.91 L230.69,381.24 L231.05,382.20 L231.41,382.93 L231.77,383.66 L232.14,383.97 L232.50,384.46 L232.86,385.31 L233.22,386.13 L233.59,386.72 L233.95,387.41 L234.31,387.63 L234.68,388.21 L235.04,388.16 L235.40,388.83 L235.76,389.09 L236.12,389.16 L236.49,388.63 L236.85,388.26 L237.21,388.34 L237.57,388.63 L237.94,389.07 L238.30,388.92 L238.66,388.88 L239.02,388.46 L239.39,388.04 L239.75,387.89 L240.11,388.18 L240.47,388.38 L240.84,388.09 L241.20,387.24 L241.56,385.80 L241.93,384.44 L242.29,383.58 L242.65,382.86 L243.01,381.65 L243.38,380.30 L243.74,379.54 L244.10,378.82 L244.46,377.49 L244.82,376.00 L245.19,374.52 L245.55,373.31 L245.91,372.30 L246.27,371.40 L246.64,370.76 L247.00,370.80 L247.36,370.52 L247.72,369.96 L248.09,369.01 L248.45,368.15 L248.81,367.84 L249.18,367.47 L249.54,366.80 L249.90,366.02 L250.26,365.30 L250.62,365.21 L250.99,365.00 L251.35,365.07 L251.71,366.42 L252.07,367.41 L252.44,368.21 L252.80,368.39 L253.16,368.79 L253.52,368.97 L253.89,369.60 L254.25,370.96 L254.61,371.79 L254.97,372.92 L255.34,374.07 L255.70,375.62 L256.06,376.38 L256.43,377.27 L256.79,378.17 L257.15,379.45 L257.51,380.49 L257.88,381.56 L258.24,382.02 L258.60,382.61 L258.96,383.14 L259.32,383.93 L259.69,383.55 L260.05,384.30 L260.41,384.35 L260.77,385.45 L261.14,385.59 L261.50,385.95 L261.86,385.85 L262.22,385.63 L262.59,385.84 L262.95,386.33 L263.31,386.89 L263.68,386.92 L264.04,386.70 L264.40,386.28 L264.76,386.36 L265.12,386.29 L265.49,386.31 L265.85,386.42 L266.21,387.10 L266.57,387.82 L266.94,388.26 L267.30,387.51 L267.66,387.46 L268.02,386.82 L268.39,387.10 L268.75,386.48 L269.11,386.56 L269.47,386.75 L269.84,387.25 L270.20,387.50 L270.56,387.43 L270.93,387.38" fill="none" stroke="#f03a34" stroke-width="1.4" stroke-linejoin="round" stroke-linecap="round" />
<path d="M35.30,392.74 L35.66,392.68 L36.02,392.72 L36.39,392.71 L36.75,392.81 L37.11,392.74 L37.47,392.72 L37.84,392.68 L38.20,392.66 L38.56,392.75 L38.92,392.71 L39.29,392.76 L39.65,392.68 L40.01,392.71 L40.38,392.79 L40.74,392.84 L41.10,392.84 L41.46,392.68 L41.82,392.64 L42.19,392.64 L42.55,392.75 L42.91,392.71 L43.27,392.65 L43.64,392.59 L44.00,392.66 L44.36,392.79 L44.72,392.76 L45.09,392.64 L45.45,392.55 L45.81,392.54 L46.17,392.62 L46.54,392.69 L46.90,392.68 L47.26,392.75 L47.62,392.72 L47.99,392.77 L48.35,392.68 L48.71,392.66 L49.07,392.65 L49.44,392.72 L49.80,392.79 L50.16,392.80 L50.52,392.80 L50.89,392.80 L51.25,392.85 L51.61,392.84 L51.97,392.86 L52.34,392.86 L52.70,392.91 L53.06,392.83 L53.42,392.76 L53.79,392.62 L54.15,392.68 L54.51,392.73 L54.88,392.77 L55.24,392.72 L55.60,392.71 L55.96,392.67 L56.32,392.68 L56.69,392.71 L57.05,392.83 L57.41,392.80 L57.77,392.75 L58.14,392.75 L58.50,392.80 L58.86,392.79 L59.22,392.71 L59.59,392.70 L59.95,392.70 L60.31,392.70 L60.67,392.74 L61.04,392.78 L61.40,392.78 L61.76,392.74 L62.12,392.81 L62.49,392.83 L62.85,392.78 L63.21,392.64 L63.57,392.71 L63.94,392.63 L64.30,392.74 L64.66,392.61 L65.02,392.67 L65.39,392.58 L65.75,392.61 L66.11,392.70 L66.47,392.71 L66.84,392.73 L67.20,392.77 L67.56,392.67 L67.92,392.59 L68.29,392.38 L68.65,392.47 L69.01,392.35 L69.38,392.24 L69.74,391.97 L70.10,391.82 L70.46,391.67 L70.82,391.44 L71.19,391.19 L71.55,390.88 L71.91,390.56 L72.28,390.26 L72.64,390.02 L73.00,389.94 L73.36,389.83 L73.72,389.87 L74.09,390.02 L74.45,390.25 L74.81,390.53 L75.17,390.72 L75.54,390.88 L75.90,390.98 L76.26,391.00 L76.62,391.05 L76.99,390.90 L77.35,390.68 L77.71,390.46 L78.07,390.20 L78.44,389.99 L78.80,389.63 L79.16,389.24 L79.53,388.61 L79.89,387.82 L80.25,386.97 L80.61,386.08 L80.97,384.97 L81.34,383.57 L81.70,381.76 L82.06,379.67 L82.42,377.11 L82.79,374.09 L83.15,370.56 L83.51,366.41 L83.88,361.67 L84.24,356.15 L84.60,349.96 L84.96,342.96 L85.32,335.37 L85.69,327.07 L86.05,318.27 L86.41,309.09 L86.78,299.68 L87.14,290.20 L87.50,280.71 L87.86,271.56 L88.22,263.02 L88.59,255.42 L88.95,248.82 L89.31,243.55 L89.67,239.51 L90.04,237.17 L90.40,236.40 L90.76,237.17 L91.12,239.51 L91.49,243.40 L91.85,248.87 L92.21,255.55 L92.57,263.15 L92.94,271.68 L93.30,280.75 L93.66,290.14 L94.03,299.61 L94.39,308.98 L94.75,318.19 L95.11,326.89 L95.47,335.20 L95.84,342.81 L96.20,349.92 L96.56,356.16 L96.92,361.64 L97.29,366.43 L97.65,370.53 L98.01,374.16 L98.38,377.18 L98.74,379.75 L99.10,381.88 L99.46,383.61 L99.82,385.00 L100.19,386.13 L100.55,387.10 L100.91,387.96 L101.27,388.63 L101.64,389.15 L102.00,389.52 L102.36,389.81 L102.72,390.09 L103.09,390.41 L103.45,390.77 L103.81,391.04 L104.17,391.27 L104.54,391.47 L104.90,391.60 L105.26,391.71 L105.62,391.76 L105.99,391.87 L106.35,391.96 L106.71,392.13 L107.07,392.13 L107.44,392.17 L107.80,392.11 L108.16,392.20 L108.52,392.22 L108.89,392.34 L109.25,392.38 L109.61,392.37 L109.97,392.44 L110.34,392.45 L110.70,392.51 L111.06,392.47 L111.42,392.50 L111.79,392.53 L112.15,392.59 L112.51,392.62 L112.88,392.71 L113.24,392.72 L113.60,392.77 L113.96,392.75 L114.32,392.72 L114.69,392.68 L115.05,392.73 L115.41,392.66 L115.77,392.64 L116.14,392.55 L116.50,392.65 L116.86,392.70 L117.22,392.71 L117.59,392.68 L117.95,392.75 L118.31,392.74 L118.67,392.64 L119.04,392.65 L119.40,392.64 L119.76,392.34 L120.12,391.88 L120.49,391.46 L120.85,391.13 L121.21,390.72 L121.57,390.32 L121.94,390.30 L122.30,390.35 L122.66,390.42 L123.02,390.45 L123.39,390.39 L123.75,390.45 L124.11,390.42 L124.47,390.55 L124.84,390.51 L125.20,390.57 L125.56,390.64 L125.92,390.69 L126.29,390.75 L126.65,390.68 L127.01,390.64 L127.38,390.66 L127.74,390.70 L128.10,390.73 L128.46,390.70 L128.82,390.61 L129.19,390.68 L129.55,390.74 L129.91,390.82 L130.27,390.80 L130.64,390.75 L131.00,390.77 L131.36,390.84 L131.72,390.90 L132.09,390.94 L132.45,390.88 L132.81,390.90 L133.18,390.94 L133.54,391.06 L133.90,391.05 L134.26,391.00 L134.62,391.00 L134.99,391.08 L135.35,391.13 L135.71,391.21 L136.07,391.25 L136.44,391.24 L136.80,391.21 L137.16,391.16 L137.52,391.17 L137.89,391.14 L138.25,391.18 L138.61,391.16 L138.97,391.18 L139.34,391.21 L139.70,391.29 L140.06,391.32 L140.43,391.36 L140.79,391.41 L141.15,391.45 L141.51,391.51 L141.88,391.54 L142.24,391.57 L142.60,391.53 L142.96,391.61 L143.32,391.63 L143.69,391.63 L144.05,391.58 L144.41,391.63 L144.77,391.63 L145.14,391.70 L145.50,391.68 L145.86,391.67 L146.22,391.67 L146.59,391.70 L146.95,391.73 L147.31,391.74 L147.68,391.75 L148.04,391.81 L148.40,391.77 L148.76,391.87 L149.12,391.93 L149.49,392.03 L149.85,392.00 L150.21,392.03 L150.57,392.04 L150.94,392.00 L151.30,392.02 L151.66,392.00 L152.02,392.02 L152.39,392.03 L152.75,392.05 L153.11,392.02 L153.47,392.00 L153.84,392.05 L154.20,392.14 L154.56,392.21 L154.93,392.19 L155.29,392.18 L155.65,392.19 L156.01,392.23 L156.38,392.24 L156.74,392.25 L157.10,392.25 L157.46,392.36 L157.82,392.39 L158.19,392.44 L158.55,392.33 L158.91,392.33 L159.27,392.35 L159.64,392.48 L160.00,392.49 L160.36,392.47 L160.72,392.46 L161.09,392.39 L161.45,392.43 L161.81,392.40 L162.18,392.49 L162.54,392.49 L162.90,392.62 L163.26,392.66 L163.62,392.71 L163.99,392.68 L164.35,392.78 L164.71,392.76 L165.07,392.79 L165.44,392.72 L165.80,392.76 L166.16,392.76 L166.52,392.72 L166.89,392.76 L167.25,392.79 L167.61,392.80 L167.97,392.74 L168.34,392.72 L168.70,392.75 L169.06,392.79 L169.43,392.78 L169.79,392.71 L170.15,392.72 L170.51,392.66 L170.88,392.67 L171.24,392.64 L171.60,392.67 L171.96,392.76 L172.32,392.81 L172.69,392.90 L173.05,392.85 L173.41,392.80 L173.77,392.77 L174.14,392.75 L174.50,392.82 L174.86,392.78 L175.22,392.84 L175.59,392.78 L175.95,392.82 L176.31,392.81 L176.68,392.84 L177.04,392.86 L177.40,392.81 L177.76,392.74 L178.12,392.68 L178.49,392.71 L178.85,392.77 L179.21,392.83 L179.57,392.77 L179.94,392.82 L180.30,392.73 L180.66,392.77 L181.02,392.72 L181.39,392.76 L181.75,392.70 L182.11,392.65 L182.47,392.62 L182.84,392.66 L183.20,392.63 L183.56,392.62 L183.93,392.63 L184.29,392.62 L184.65,392.66 L185.01,392.65 L185.38,392.75 L185.74,392.76 L186.10,392.74 L186.46,392.75 L186.82,392.72 L187.19,392.73 L187.55,392.67 L187.91,392.78 L188.27,392.80 L188.64,392.79 L189.00,392.73 L189.36,392.72 L189.72,392.84 L190.09,392.78 L190.45,392.81 L190.81,392.69 L191.18,392.78 L191.54,392.73 L191.90,392.77 L192.26,392.67 L192.62,392.73 L192.99,392.75 L193.35,392.69 L193.71,392.69 L194.07,392.69 L194.44,392.79 L194.80,392.80 L195.16,392.72 L195.52,392.64 L195.89,392.62 L196.25,392.72 L196.61,392.72 L196.97,392.63 L197.34,392.51 L197.70,392.49 L198.06,392.53 L198.43,392.54 L198.79,392.60 L199.15,392.58 L199.51,392.50 L199.88,392.42 L200.24,392.20 L200.60,392.09 L200.96,391.91 L201.32,391.77 L201.69,391.49 L202.05,391.24 L202.41,391.12 L202.77,390.98 L203.14,390.74 L203.50,390.49 L203.86,390.28 L204.22,390.01 L204.59,389.67 L204.95,389.33 L205.31,388.98 L205.68,388.54 L206.04,387.95 L206.40,387.29 L206.76,386.02 L207.12,384.74 L207.49,383.79 L207.85,382.48 L208.21,380.89 L208.57,378.79 L208.94,376.98 L209.30,375.61 L209.66,374.02 L210.02,371.79 L210.39,369.17 L210.75,365.83 L211.11,361.68 L211.47,357.65 L211.84,353.30 L212.20,350.42 L212.56,347.14 L212.93,344.40 L213.29,341.45 L213.65,338.45 L214.01,336.76 L214.38,334.38 L214.74,333.27 L215.10,331.12 L215.46,329.52 L215.82,328.31 L216.19,328.89 L216.55,329.22 L216.91,330.42 L217.27,330.87 L217.64,332.34 L218.00,330.97 L218.36,329.83 L218.72,327.99 L219.09,327.61 L219.45,325.66 L219.81,325.05 L220.18,323.28 L220.54,321.57 L220.90,320.51 L221.26,321.30 L221.62,322.90 L221.99,324.97 L222.35,326.69 L222.71,327.08 L223.07,327.29 L223.44,325.92 L223.80,325.27 L224.16,325.28 L224.52,326.95 L224.89,328.55 L225.25,329.86 L225.61,331.86 L225.97,333.17 L226.34,335.14 L226.70,336.10 L227.06,338.09 L227.43,340.19 L227.79,343.68 L228.15,347.71 L228.51,351.29 L228.88,355.24 L229.24,358.41 L229.60,362.18 L229.96,365.40 L230.32,367.85 L230.69,370.26 L231.05,372.05 L231.41,373.87 L231.77,375.19 L232.14,376.48 L232.50,378.38 L232.86,380.24 L233.22,381.52 L233.59,382.34 L233.95,382.60 L234.31,383.57 L234.68,383.95 L235.04,384.55 L235.40,384.80 L235.76,385.32 L236.12,385.72 L236.49,386.09 L236.85,386.38 L237.21,386.46 L237.57,386.87 L237.94,386.65 L238.30,387.00 L238.66,386.50 L239.02,386.65 L239.39,386.25 L239.75,385.49 L240.11,384.83 L240.47,384.09 L240.84,383.65 L241.20,382.46 L241.56,380.33 L241.93,378.78 L242.29,377.06 L242.65,376.51 L243.01,374.99 L243.38,373.54 L243.74,371.15 L244.10,369.77 L244.46,367.98 L244.82,366.58 L245.19,364.86 L245.55,363.38 L245.91,362.03 L246.27,361.02 L246.64,359.44 L247.00,357.78 L247.36,355.69 L247.72,354.81 L248.09,352.85 L248.45,350.93 L248.81,348.38 L249.18,346.71 L249.54,345.34 L249.90,343.83 L250.26,342.61 L250.62,340.54 L250.99,339.41 L251.35,338.72 L251.71,338.96 L252.07,340.49 L252.44,342.35 L252.80,344.47 L253.16,346.09 L253.52,348.14 L253.89,350.05 L254.25,352.03 L254.61,353.76 L254.97,355.53 L255.34,357.67 L255.70,358.77 L256.06,360.25 L256.43,361.82 L256.79,364.32 L257.15,365.92 L257.51,367.86 L257.88,369.72 L258.24,372.02 L258.60,373.58 L258.96,374.46 L259.32,375.68 L259.69,376.23 L260.05,377.83 L260.41,378.49 L260.77,380.08 L261.14,379.96 L261.50,380.75 L261.86,380.94 L262.22,381.57 L262.59,381.50 L262.95,382.11 L263.31,382.74 L263.68,383.73 L264.04,383.67 L264.40,383.86 L264.76,383.80 L265.12,384.18 L265.49,384.37 L265.85,384.59 L266.21,384.35 L266.57,383.88 L266.94,384.11 L267.30,384.10 L267.66,384.38 L268.02,383.55 L268.39,383.58 L268.75,383.31 L269.11,383.54 L269.47,383.00 L269.84,382.96 L270.20,382.93 L270.56,383.36 L270.93,383.83" fill="none" stroke="#375db6" stroke-width="1.4" stroke-linejoin="round" stroke-linecap="round" />
<path d="M35.30,392.96 L35.66,392.94 L36.02,392.92 L36.39,392.86 L36.75,392.85 L37.11,392.81 L37.47,392.85 L37.84,392.92 L38.20,392.90 L38.56,392.80 L38.92,392.80 L39.29,392.91 L39.65,392.99 L40.01,392.98 L40.38,393.00 L40.74,392.97 L41.10,393.00 L41.46,392.99 L41.82,392.95 L42.19,392.93 L42.55,392.88 L42.91,392.89 L43.27,392.84 L43.64,392.85 L44.00,392.87 L44.36,392.93 L44.72,392.85 L45.09,392.83 L45.45,392.84 L45.81,392.91 L46.17,392.91 L46.54,392.84 L46.90,392.77 L47.26,392.75 L47.62,392.79 L47.99,392.86 L48.35,392.96 L48.71,392.93 L49.07,392.92 L49.44,392.77 L49.80,392.77 L50.16,392.86 L50.52,392.99 L50.89,392.99 L51.25,392.96 L51.61,392.97 L51.97,392.99 L52.34,392.92 L52.70,392.90 L53.06,392.92 L53.42,392.90 L53.79,392.92 L54.15,392.90 L54.51,392.98 L54.88,392.99 L55.24,392.95 L55.60,392.96 L55.96,392.93 L56.32,392.93 L56.69,392.88 L57.05,392.87 L57.41,392.94 L57.77,392.87 L58.14,392.84 L58.50,392.79 L58.86,392.91 L59.22,392.99 L59.59,392.96 L59.95,392.83 L60.31,392.77 L60.67,392.76 L61.04,392.85 L61.40,392.87 L61.76,392.92 L62.12,392.88 L62.49,392.93 L62.85,392.90 L63.21,392.86 L63.57,392.85 L63.94,392.94 L64.30,392.97 L64.66,392.95 L65.02,392.99 L65.39,392.97 L65.75,392.94 L66.11,392.87 L66.47,392.81 L66.84,392.81 L67.20,392.82 L67.56,392.89 L67.92,392.93 L68.29,392.91 L68.65,392.87 L69.01,392.81 L69.38,392.73 L69.74,392.60 L70.10,392.43 L70.46,392.24 L70.82,392.12 L71.19,391.97 L71.55,391.77 L71.91,391.63 L72.28,391.45 L72.64,391.46 L73.00,391.45 L73.36,391.61 L73.72,391.67 L74.09,391.76 L74.45,391.80 L74.81,391.97 L75.17,392.15 L75.54,392.35 L75.90,392.46 L76.26,392.59 L76.62,392.62 L76.99,392.69 L77.35,392.65 L77.71,392.64 L78.07,392.58 L78.44,392.59 L78.80,392.60 L79.16,392.45 L79.53,392.39 L79.89,392.19 L80.25,392.14 L80.61,391.98 L80.97,391.93 L81.34,391.73 L81.70,391.43 L82.06,391.15 L82.42,390.87 L82.79,390.51 L83.15,390.01 L83.51,389.38 L83.88,388.83 L84.24,388.11 L84.60,387.44 L84.96,386.44 L85.32,385.52 L85.69,384.50 L86.05,383.46 L86.41,382.26 L86.78,380.88 L87.14,379.67 L87.50,378.46 L87.86,377.35 L88.22,376.19 L88.59,375.21 L88.95,374.34 L89.31,373.70 L89.67,373.20 L90.04,372.92 L90.40,372.84 L90.76,372.97 L91.12,373.23 L91.49,373.80 L91.85,374.40 L92.21,375.26 L92.57,376.19 L92.94,377.35 L93.30,378.56 L93.66,379.74 L94.03,380.91 L94.39,382.10 L94.75,383.26 L95.11,384.44 L95.47,385.50 L95.84,386.57 L96.20,387.41 L96.56,388.21 L96.92,388.87 L97.29,389.48 L97.65,389.99 L98.01,390.54 L98.38,390.98 L98.74,391.39 L99.10,391.50 L99.46,391.63 L99.82,391.78 L100.19,391.97 L100.55,392.20 L100.91,392.27 L101.27,392.33 L101.64,392.34 L102.00,392.45 L102.36,392.46 L102.72,392.59 L103.09,392.58 L103.45,392.62 L103.81,392.59 L104.17,392.66 L104.54,392.75 L104.90,392.82 L105.26,392.80 L105.62,392.74 L105.99,392.79 L106.35,392.78 L106.71,392.81 L107.07,392.75 L107.44,392.76 L107.80,392.73 L108.16,392.74 L108.52,392.73 L108.89,392.78 L109.25,392.73 L109.61,392.84 L109.97,392.82 L110.34,392.90 L110.70,392.84 L111.06,392.93 L111.42,393.00 L111.79,393.01 L112.15,393.00 L112.51,392.90 L112.88,392.95 L113.24,392.87 L113.60,392.88 L113.96,392.83 L114.32,392.91 L114.69,392.96 L115.05,392.99 L115.41,392.98 L115.77,392.95 L116.14,392.92 L116.50,392.95 L116.86,392.96 L117.22,392.99 L117.59,392.93 L117.95,392.85 L118.31,392.79 L118.67,392.80 L119.04,392.94 L119.40,393.02 L119.76,393.08 L120.12,392.98 L120.49,392.96 L120.85,392.89 L121.21,392.94 L121.57,392.91 L121.94,392.86 L122.30,392.86 L122.66,392.88 L123.02,392.96 L123.39,392.90 L123.75,392.93 L124.11,392.94 L124.47,393.03 L124.84,393.04 L125.20,392.98 L125.56,392.83 L125.92,392.81 L126.29,392.79 L126.65,392.88 L127.01,392.89 L127.38,392.93 L127.74,392.95 L128.10,392.94 L128.46,392.85 L128.82,392.92 L129.19,392.87 L129.55,392.94 L129.91,392.88 L130.27,392.89 L130.64,392.87 L131.00,392.84 L131.36,392.83 L131.72,392.84 L132.09,392.93 L132.45,392.88 L132.81,392.82 L133.18,392.70 L133.54,392.72 L133.90,392.87 L134.26,392.91 L134.62,392.98 L134.99,392.95 L135.35,392.91 L135.71,392.91 L136.07,392.89 L136.44,393.00 L136.80,392.98 L137.16,392.97 L137.52,392.92 L137.89,392.94 L138.25,392.87 L138.61,392.89 L138.97,392.90 L139.34,393.01 L139.70,392.92 L140.06,392.79 L140.43,392.75 L140.79,392.82 L141.15,392.92 L141.51,392.89 L141.88,392.90 L142.24,392.83 L142.60,392.81 L142.96,392.77 L143.32,392.81 L143.69,392.83 L144.05,392.77 L144.41,392.84 L144.77,392.82 L145.14,392.90 L145.50,392.89 L145.86,392.93 L146.22,392.92 L146.59,392.93 L146.95,393.00 L147.31,393.03 L147.68,392.93 L148.04,392.79 L148.40,392.73 L148.76,392.74 L149.12,392.84 L149.49,392.87 L149.85,392.90 L150.21,392.92 L150.57,392.96 L150.94,392.97 L151.30,392.94 L151.66,392.94 L152.02,392.93 L152.39,392.93 L152.75,392.85 L153.11,392.86 L153.47,392.86 L153.84,392.90 L154.20,392.90 L154.56,392.92 L154.93,392.94 L155.29,392.90 L155.65,392.85 L156.01,392.78 L156.38,392.88 L156.74,392.92 L157.10,392.99 L157.46,392.91 L157.82,392.92 L158.19,392.92 L158.55,392.90 L158.91,392.87 L159.27,392.90 L159.64,392.88 L160.00,392.84 L160.36,392.82 L160.72,392.84 L161.09,392.91 L161.45,392.84 L161.81,392.88 L162.18,392.89 L162.54,392.94 L162.90,392.97 L163.26,392.93 L163.62,392.91 L163.99,392.87 L164.35,392.90 L164.71,393.05 L165.07,393.05 L165.44,393.10 L165.80,392.95 L166.16,392.91 L166.52,392.83 L166.89,392.85 L167.25,392.90 L167.61,392.92 L167.97,392.92 L168.34,392.94 L168.70,392.97 L169.06,392.90 L169.43,392.88 L169.79,392.81 L170.15,392.86 L170.51,392.86 L170.88,392.90 L171.24,392.88 L171.60,392.85 L171.96,392.83 L172.32,392.87 L172.69,392.94 L173.05,392.88 L173.41,392.87 L173.77,392.85 L174.14,392.85 L174.50,392.80 L174.86,392.77 L175.22,392.84 L175.59,392.79 L175.95,392.80 L176.31,392.76 L176.68,392.86 L177.04,392.93 L177.40,393.00 L177.76,392.98 L178.12,392.91 L178.49,392.87 L178.85,392.93 L179.21,393.00 L179.57,393.01 L179.94,393.02 L180.30,392.92 L180.66,392.87 L181.02,392.70 L181.39,392.70 L181.75,392.77 L182.11,392.91 L182.47,393.08 L182.84,393.08 L183.20,393.05 L183.56,392.87 L183.93,392.82 L184.29,392.79 L184.65,392.82 L185.01,392.81 L185.38,392.78 L185.74,392.82 L186.10,392.86 L186.46,392.97 L186.82,392.86 L187.19,392.79 L187.55,392.70 L187.91,392.80 L188.27,392.84 L188.64,392.87 L189.00,392.82 L189.36,392.82 L189.72,392.79 L190.09,392.80 L190.45,392.75 L190.81,392.75 L191.18,392.74 L191.54,392.77 L191.90,392.78 L192.26,392.73 L192.62,392.73 L192.99,392.69 L193.35,392.72 L193.71,392.76 L194.07,392.72 L194.44,392.74 L194.80,392.64 L195.16,392.65 L195.52,392.66 L195.89,392.71 L196.25,392.73 L196.61,392.68 L196.97,392.67 L197.34,392.61 L197.70,392.57 L198.06,392.49 L198.43,392.52 L198.79,392.48 L199.15,392.51 L199.51,392.47 L199.88,392.44 L200.24,392.39 L200.60,392.39 L200.96,392.43 L201.32,392.40 L201.69,392.35 L202.05,392.30 L202.41,392.31 L202.77,392.28 L203.14,392.15 L203.50,392.10 L203.86,392.07 L204.22,392.08 L204.59,392.07 L204.95,391.95 L205.31,391.84 L205.68,391.52 L206.04,391.36 L206.40,391.18 L206.76,391.26 L207.12,390.87 L207.49,390.46 L207.85,390.03 L208.21,389.98 L208.57,389.45 L208.94,388.79 L209.30,387.50 L209.66,386.77 L210.02,386.33 L210.39,385.92 L210.75,385.22 L211.11,384.25 L211.47,383.69 L211.84,383.46 L212.20,383.39 L212.56,383.24 L212.93,382.76 L213.29,382.42 L213.65,382.34 L214.01,382.68 L214.38,382.66 L214.74,382.78 L215.10,382.04 L215.46,381.74 L215.82,381.54 L216.19,381.28 L216.55,380.98 L216.91,380.43 L217.27,380.09 L217.64,379.75 L218.00,380.02 L218.36,380.09 L218.72,380.37 L219.09,379.82 L219.45,379.74 L219.81,379.95 L220.18,380.15 L220.54,380.57 L220.90,380.56 L221.26,380.45 L221.62,380.66 L221.99,380.81 L222.35,380.72 L222.71,380.45 L223.07,380.17 L223.44,380.96 L223.80,381.27 L224.16,381.64 L224.52,381.25 L224.89,381.33 L225.25,381.09 L225.61,381.29 L225.97,381.32 L226.34,381.78 L226.70,381.81 L227.06,382.26 L227.43,382.38 L227.79,382.93 L228.15,383.28 L228.51,384.08 L228.88,384.54 L229.24,384.79 L229.60,385.05 L229.96,385.58 L230.32,386.09 L230.69,386.73 L231.05,386.88 L231.41,387.45 L231.77,388.33 L232.14,388.63 L232.50,388.90 L232.86,388.94 L233.22,389.54 L233.59,389.95 L233.95,389.24 L234.31,389.13 L234.68,389.35 L235.04,389.78 L235.40,390.05 L235.76,389.23 L236.12,389.66 L236.49,390.14 L236.85,390.61 L237.21,390.45 L237.57,390.00 L237.94,390.53 L238.30,390.28 L238.66,389.69 L239.02,389.52 L239.39,389.20 L239.75,389.59 L240.11,388.36 L240.47,388.35 L240.84,388.04 L241.20,388.13 L241.56,387.81 L241.93,387.46 L242.29,387.00 L242.65,386.61 L243.01,386.20 L243.38,385.09 L243.74,384.27 L244.10,383.18 L244.46,382.87 L244.82,382.50 L245.19,382.01 L245.55,381.51 L245.91,380.48 L246.27,379.34 L246.64,378.17 L247.00,377.48 L247.36,376.76 L247.72,376.39 L248.09,376.10 L248.45,375.70 L248.81,375.68 L249.18,374.63 L249.54,374.17 L249.90,373.55 L250.26,373.99 L250.62,373.92 L250.99,374.09 L251.35,373.57 L251.71,373.84 L252.07,374.17 L252.44,374.49 L252.80,374.70 L253.16,375.11 L253.52,375.52 L253.89,376.38 L254.25,377.03 L254.61,378.13 L254.97,379.09 L255.34,379.92 L255.70,380.68 L256.06,380.66 L256.43,380.72 L256.79,381.30 L257.15,381.81 L257.51,382.73 L257.88,383.03 L258.24,383.67 L258.60,383.98 L258.96,383.85 L259.32,384.41 L259.69,385.19 L260.05,385.85 L260.41,386.37 L260.77,386.47 L261.14,387.84 L261.50,387.72 L261.86,387.62 L262.22,386.79 L262.59,386.88 L262.95,386.73 L263.31,387.01 L263.68,387.08 L264.04,387.75 L264.40,387.87 L264.76,387.88 L265.12,387.64 L265.49,387.92 L265.85,388.13 L266.21,388.31 L266.57,388.22 L266.94,388.23 L267.30,388.33 L267.66,388.55 L268.02,388.98 L268.39,388.47 L268.75,388.49 L269.11,388.20 L269.47,388.52 L269.84,388.01 L270.20,388.41 L270.56,388.67 L270.93,388.86" fill="none" stroke="#cf78c8" stroke-width="1.4" stroke-linejoin="round" stroke-linecap="round" />
<path d="M35.30,392.85 L35.66,392.88 L36.02,392.93 L36.39,392.92 L36.75,392.85 L37.11,392.79 L37.47,392.86 L37.84,392.88 L38.20,392.89 L38.56,392.84 L38.92,392.90 L39.29,392.90 L39.65,392.94 L40.01,392.94 L40.38,392.93 L40.74,392.92 L41.10,392.90 L41.46,392.89 L41.82,392.95 L42.19,392.93 L42.55,392.93 L42.91,392.86 L43.27,392.82 L43.64,392.88 L44.00,392.95 L44.36,392.99 L44.72,392.92 L45.09,392.78 L45.45,392.76 L45.81,392.82 L46.17,392.87 L46.54,392.93 L46.90,392.95 L47.26,392.88 L47.62,392.83 L47.99,392.75 L48.35,392.83 L48.71,392.77 L49.07,392.79 L49.44,392.76 L49.80,392.87 L50.16,392.94 L50.52,392.93 L50.89,392.83 L51.25,392.76 L51.61,392.80 L51.97,392.85 L52.34,392.90 L52.70,392.85 L53.06,392.83 L53.42,392.78 L53.79,392.83 L54.15,392.81 L54.51,392.81 L54.88,392.80 L55.24,392.89 L55.60,392.89 L55.96,392.83 L56.32,392.80 L56.69,392.83 L57.05,392.88 L57.41,392.82 L57.77,392.79 L58.14,392.89 L58.50,392.91 L58.86,392.98 L59.22,392.95 L59.59,392.95 L59.95,392.91 L60.31,392.85 L60.67,392.75 L61.04,392.70 L61.40,392.71 L61.76,392.87 L62.12,392.92 L62.49,392.99 L62.85,392.98 L63.21,392.99 L63.57,392.98 L63.94,392.96 L64.30,392.96 L64.66,392.99 L65.02,393.03 L65.39,392.98 L65.75,392.92 L66.11,392.82 L66.47,392.79 L66.84,392.81 L67.20,392.81 L67.56,392.90 L67.92,392.78 L68.29,392.74 L68.65,392.65 L69.01,392.73 L69.38,392.68 L69.74,392.63 L70.10,392.47 L70.46,392.28 L70.82,391.99 L71.19,391.76 L71.55,391.53 L71.91,391.36 L72.28,391.16 L72.64,391.11 L73.00,391.06 L73.36,391.08 L73.72,391.19 L74.09,391.22 L74.45,391.43 L74.81,391.49 L75.17,391.77 L75.54,391.86 L75.90,392.09 L76.26,392.17 L76.62,392.21 L76.99,392.13 L77.35,392.09 L77.71,391.99 L78.07,391.96 L78.44,391.79 L78.80,391.68 L79.16,391.45 L79.53,391.32 L79.89,391.02 L80.25,390.71 L80.61,390.29 L80.97,389.93 L81.34,389.47 L81.70,388.83 L82.06,387.95 L82.42,386.91 L82.79,385.74 L83.15,384.40 L83.51,382.71 L83.88,380.81 L84.24,378.67 L84.60,376.27 L84.96,373.56 L85.32,370.59 L85.69,367.47 L86.05,364.16 L86.41,360.65 L86.78,356.98 L87.14,353.24 L87.50,349.54 L87.86,346.00 L88.22,342.71 L88.59,339.75 L88.95,337.26 L89.31,335.28 L89.67,333.77 L90.04,332.83 L90.40,332.45 L90.76,332.76 L91.12,333.71 L91.49,335.26 L91.85,337.33 L92.21,339.84 L92.57,342.78 L92.94,346.03 L93.30,349.55 L93.66,353.20 L94.03,356.91 L94.39,360.48 L94.75,364.02 L95.11,367.38 L95.47,370.59 L95.84,373.45 L96.20,376.21 L96.56,378.59 L96.92,380.78 L97.29,382.63 L97.65,384.33 L98.01,385.70 L98.38,386.85 L98.74,387.83 L99.10,388.62 L99.46,389.33 L99.82,389.92 L100.19,390.39 L100.55,390.71 L100.91,390.93 L101.27,391.26 L101.64,391.45 L102.00,391.65 L102.36,391.69 L102.72,391.90 L103.09,392.02 L103.45,392.19 L103.81,392.29 L104.17,392.40 L104.54,392.41 L104.90,392.42 L105.26,392.47 L105.62,392.53 L105.99,392.52 L106.35,392.49 L106.71,392.59 L107.07,392.66 L107.44,392.68 L107.80,392.70 L108.16,392.75 L108.52,392.78 L108.89,392.71 L109.25,392.74 L109.61,392.89 L109.97,393.02 L110.34,393.02 L110.70,392.94 L111.06,392.86 L111.42,392.84 L111.79,392.86 L112.15,392.89 L112.51,392.92 L112.88,392.90 L113.24,392.94 L113.60,392.80 L113.96,392.77 L114.32,392.78 L114.69,392.92 L115.05,392.97 L115.41,393.01 L115.77,393.00 L116.14,393.01 L116.50,392.91 L116.86,392.90 L117.22,392.90 L117.59,392.99 L117.95,393.02 L118.31,392.99 L118.67,392.95 L119.04,392.86 L119.40,392.88 L119.76,392.63 L120.12,392.47 L120.49,392.24 L120.85,392.17 L121.21,392.03 L121.57,391.80 L121.94,391.68 L122.30,391.63 L122.66,391.64 L123.02,391.72 L123.39,391.75 L123.75,391.82 L124.11,391.77 L124.47,391.75 L124.84,391.75 L125.20,391.81 L125.56,391.81 L125.92,391.80 L126.29,391.83 L126.65,391.79 L127.01,391.80 L127.38,391.78 L127.74,391.80 L128.10,391.78 L128.46,391.79 L128.82,391.84 L129.19,391.93 L129.55,391.96 L129.91,392.08 L130.27,392.00 L130.64,392.06 L131.00,391.96 L131.36,392.05 L131.72,392.02 L132.09,392.07 L132.45,392.03 L132.81,391.98 L133.18,391.91 L133.54,391.92 L133.90,391.92 L134.26,392.02 L134.62,392.02 L134.99,392.06 L135.35,392.06 L135.71,392.10 L136.07,392.12 L136.44,392.11 L136.80,392.10 L137.16,392.12 L137.52,392.17 L137.89,392.17 L138.25,392.22 L138.61,392.23 L138.97,392.21 L139.34,392.26 L139.70,392.27 L140.06,392.31 L140.43,392.28 L140.79,392.16 L141.15,392.30 L141.51,392.19 L141.88,392.24 L142.24,392.11 L142.60,392.19 L142.96,392.24 L143.32,392.32 L143.69,392.29 L144.05,392.36 L144.41,392.35 L144.77,392.35 L145.14,392.36 L145.50,392.37 L145.86,392.42 L146.22,392.43 L146.59,392.38 L146.95,392.39 L147.31,392.40 L147.68,392.46 L148.04,392.52 L148.40,392.49 L148.76,392.50 L149.12,392.50 L149.49,392.45 L149.85,392.49 L150.21,392.43 L150.57,392.48 L150.94,392.43 L151.30,392.50 L151.66,392.53 L152.02,392.62 L152.39,392.59 L152.75,392.54 L153.11,392.42 L153.47,392.40 L153.84,392.44 L154.20,392.54 L154.56,392.59 L154.93,392.61 L155.29,392.55 L155.65,392.54 L156.01,392.58 L156.38,392.67 L156.74,392.67 L157.10,392.63 L157.46,392.63 L157.82,392.64 L158.19,392.68 L158.55,392.69 L158.91,392.77 L159.27,392.84 L159.64,392.80 L160.00,392.84 L160.36,392.80 L160.72,392.87 L161.09,392.80 L161.45,392.79 L161.81,392.77 L162.18,392.88 L162.54,392.89 L162.90,392.96 L163.26,392.89 L163.62,392.88 L163.99,392.83 L164.35,392.78 L164.71,392.78 L165.07,392.77 L165.44,392.84 L165.80,392.87 L166.16,392.85 L166.52,392.82 L166.89,392.86 L167.25,392.86 L167.61,392.88 L167.97,392.79 L168.34,392.81 L168.70,392.88 L169.06,392.97 L169.43,392.91 L169.79,392.85 L170.15,392.86 L170.51,392.92 L170.88,392.95 L171.24,392.96 L171.60,393.07 L171.96,393.12 L172.32,393.03 L172.69,392.94 L173.05,392.89 L173.41,392.89 L173.77,392.87 L174.14,392.94 L174.50,392.96 L174.86,393.02 L175.22,392.98 L175.59,392.99 L175.95,392.96 L176.31,392.93 L176.68,392.96 L177.04,392.98 L177.40,392.89 L177.76,392.87 L178.12,392.92 L178.49,392.99 L178.85,392.92 L179.21,392.84 L179.57,392.89 L179.94,392.88 L180.30,392.93 L180.66,392.93 L181.02,392.99 L181.39,392.96 L181.75,392.89 L182.11,392.84 L182.47,392.84 L182.84,392.83 L183.20,392.85 L183.56,392.81 L183.93,392.91 L184.29,392.97 L184.65,392.98 L185.01,392.98 L185.38,392.93 L185.74,392.96 L186.10,392.92 L186.46,392.93 L186.82,392.87 L187.19,392.95 L187.55,392.90 L187.91,392.86 L188.27,392.76 L188.64,392.80 L189.00,392.86 L189.36,392.79 L189.72,392.84 L190.09,392.86 L190.45,392.94 L190.81,392.87 L191.18,392.87 L191.54,392.84 L191.90,392.87 L192.26,392.88 L192.62,392.93 L192.99,392.94 L193.35,392.95 L193.71,392.93 L194.07,392.95 L194.44,392.88 L194.80,392.88 L195.16,392.89 L195.52,392.91 L195.89,392.93 L196.25,392.86 L196.61,392.90 L196.97,392.86 L197.34,392.87 L197.70,392.90 L198.06,392.90 L198.43,392.83 L198.79,392.90 L199.15,392.90 L199.51,392.96 L199.88,392.91 L200.24,392.97 L200.60,392.90 L200.96,392.87 L201.32,392.74 L201.69,392.80 L202.05,392.78 L202.41,392.84 L202.77,392.81 L203.14,392.72 L203.50,392.66 L203.86,392.60 L204.22,392.56 L204.59,392.42 L204.95,392.29 L205.31,392.22 L205.68,392.17 L206.04,392.06 L206.40,391.91 L206.76,391.87 L207.12,391.97 L207.49,391.63 L207.85,391.14 L208.21,390.34 L208.57,389.92 L208.94,389.13 L209.30,389.00 L209.66,387.75 L210.02,387.49 L210.39,386.74 L210.75,387.02 L211.11,387.30 L211.47,386.75 L211.84,385.85 L212.20,383.88 L212.56,383.43 L212.93,382.14 L213.29,381.85 L213.65,380.40 L214.01,380.72 L214.38,379.75 L214.74,379.27 L215.10,377.65 L215.46,376.83 L215.82,375.99 L216.19,374.31 L216.55,371.90 L216.91,368.75 L217.27,365.90 L217.64,362.98 L218.00,360.43 L218.36,358.23 L218.72,356.04 L219.09,352.60 L219.45,349.11 L219.81,346.01 L220.18,343.86 L220.54,341.42 L220.90,339.29 L221.26,338.04 L221.62,338.66 L221.99,339.76 L222.35,341.25 L222.71,342.13 L223.07,344.09 L223.44,344.53 L223.80,343.71 L224.16,342.63 L224.52,342.27 L224.89,342.39 L225.25,342.77 L225.61,343.89 L225.97,345.02 L226.34,346.84 L226.70,347.86 L227.06,352.04 L227.43,356.40 L227.79,361.11 L228.15,364.51 L228.51,368.21 L228.88,371.56 L229.24,373.63 L229.60,374.99 L229.96,376.48 L230.32,378.00 L230.69,379.57 L231.05,381.08 L231.41,382.70 L231.77,384.02 L232.14,384.69 L232.50,385.08 L232.86,385.54 L233.22,386.02 L233.59,386.73 L233.95,387.44 L234.31,388.11 L234.68,388.13 L235.04,387.95 L235.40,387.57 L235.76,387.97 L236.12,388.03 L236.49,388.21 L236.85,388.02 L237.21,388.39 L237.57,388.76 L237.94,388.97 L238.30,389.07 L238.66,388.90 L239.02,388.68 L239.39,388.44 L239.75,387.74 L240.11,387.60 L240.47,386.96 L240.84,386.89 L241.20,386.38 L241.56,385.54 L241.93,384.65 L242.29,383.09 L242.65,382.03 L243.01,380.85 L243.38,380.30 L243.74,379.85 L244.10,379.09 L244.46,378.37 L244.82,376.79 L245.19,375.87 L245.55,374.25 L245.91,373.44 L246.27,372.35 L246.64,371.99 L247.00,371.43 L247.36,370.82 L247.72,369.98 L248.09,369.66 L248.45,369.15 L248.81,368.13 L249.18,367.49 L249.54,367.27 L249.90,367.83 L250.26,367.85 L250.62,367.11 L250.99,366.77 L251.35,366.33 L251.71,366.39 L252.07,366.02 L252.44,366.86 L252.80,367.59 L253.16,368.81 L253.52,369.30 L253.89,370.50 L254.25,371.80 L254.61,372.56 L254.97,373.56 L255.34,374.44 L255.70,375.56 L256.06,376.50 L256.43,377.46 L256.79,378.65 L257.15,379.27 L257.51,380.09 L257.88,381.03 L258.24,382.55 L258.60,383.55 L258.96,384.52 L259.32,384.88 L259.69,385.23 L260.05,385.84 L260.41,386.13 L260.77,386.26 L261.14,385.91 L261.50,386.35 L261.86,386.36 L262.22,386.73 L262.59,386.94 L262.95,387.66 L263.31,387.60 L263.68,387.14 L264.04,386.66 L264.40,386.69 L264.76,387.32 L265.12,387.86 L265.49,388.21 L265.85,388.01 L266.21,388.35 L266.57,388.15 L266.94,388.00 L267.30,387.64 L267.66,387.59 L268.02,388.03 L268.39,388.40 L268.75,388.72 L269.11,388.23 L269.47,387.64 L269.84,387.63 L270.20,387.64 L270.56,388.00 L270.93,387.91" fill="none" stroke="#178f55" stroke-width="1.4" stroke-linejoin="round" stroke-linecap="round" />
<path d="M35.30,392.81 L35.66,392.83 L36.02,392.86 L36.39,392.91 L36.75,392.93 L37.11,393.01 L37.47,392.97 L37.84,392.94 L38.20,392.88 L38.56,392.91 L38.92,392.85 L39.29,392.87 L39.65,392.88 L40.01,392.89 L40.38,392.81 L40.74,392.77 L41.10,392.89 L41.46,392.97 L41.82,392.96 L42.19,392.89 L42.55,392.80 L42.91,392.88 L43.27,392.86 L43.64,392.94 L44.00,392.84 L44.36,392.87 L44.72,392.80 L45.09,392.88 L45.45,392.93 L45.81,393.01 L46.17,393.01 L46.54,393.00 L46.90,392.91 L47.26,392.83 L47.62,392.78 L47.99,392.87 L48.35,392.92 L48.71,392.96 L49.07,392.86 L49.44,392.85 L49.80,392.80 L50.16,392.87 L50.52,392.97 L50.89,393.01 L51.25,393.04 L51.61,392.95 L51.97,392.92 L52.34,392.90 L52.70,392.93 L53.06,392.88 L53.42,392.88 L53.79,392.90 L54.15,392.97 L54.51,392.96 L54.88,392.94 L55.24,392.91 L55.60,392.82 L55.96,392.87 L56.32,392.89 L56.69,392.96 L57.05,392.89 L57.41,392.90 L57.77,392.91 L58.14,392.87 L58.50,392.88 L58.86,392.87 L59.22,392.91 L59.59,392.89 L59.95,392.89 L60.31,392.85 L60.67,392.86 L61.04,392.84 L61.40,392.89 L61.76,392.92 L62.12,392.96 L62.49,393.00 L62.85,392.96 L63.21,392.95 L63.57,392.95 L63.94,392.95 L64.30,392.90 L64.66,392.93 L65.02,392.87 L65.39,392.89 L65.75,392.82 L66.11,392.85 L66.47,392.84 L66.84,392.86 L67.20,392.81 L67.56,392.85 L67.92,392.82 L68.29,392.85 L68.65,392.82 L69.01,392.78 L69.38,392.73 L69.74,392.51 L70.10,392.43 L70.46,392.30 L70.82,392.21 L71.19,392.00 L71.55,391.87 L71.91,391.72 L72.28,391.59 L72.64,391.44 L73.00,391.38 L73.36,391.38 L73.72,391.46 L74.09,391.61 L74.45,391.84 L74.81,392.02 L75.17,392.17 L75.54,392.27 L75.90,392.36 L76.26,392.47 L76.62,392.44 L76.99,392.38 L77.35,392.36 L77.71,392.38 L78.07,392.44 L78.44,392.32 L78.80,392.26 L79.16,392.17 L79.53,392.13 L79.89,392.03 L80.25,391.93 L80.61,391.72 L80.97,391.54 L81.34,391.22 L81.70,390.92 L82.06,390.47 L82.42,390.04 L82.79,389.45 L83.15,388.89 L83.51,388.11 L83.88,387.29 L84.24,386.25 L84.60,385.15 L84.96,383.85 L85.32,382.56 L85.69,381.07 L86.05,379.58 L86.41,377.79 L86.78,376.18 L87.14,374.44 L87.50,372.85 L87.86,371.08 L88.22,369.56 L88.59,368.11 L88.95,367.01 L89.31,366.06 L89.67,365.36 L90.04,364.88 L90.40,364.66 L90.76,364.76 L91.12,365.24 L91.49,365.95 L91.85,366.97 L92.21,368.13 L92.57,369.44 L92.94,370.94 L93.30,372.58 L93.66,374.37 L94.03,376.14 L94.39,377.79 L94.75,379.47 L95.11,381.06 L95.47,382.61 L95.84,383.95 L96.20,385.09 L96.56,386.31 L96.92,387.27 L97.29,388.19 L97.65,388.90 L98.01,389.58 L98.38,390.14 L98.74,390.48 L99.10,390.88 L99.46,391.27 L99.82,391.56 L100.19,391.67 L100.55,391.80 L100.91,392.07 L101.27,392.19 L101.64,392.28 L102.00,392.23 L102.36,392.36 L102.72,392.42 L103.09,392.53 L103.45,392.52 L103.81,392.48 L104.17,392.58 L104.54,392.71 L104.90,392.72 L105.26,392.68 L105.62,392.71 L105.99,392.80 L106.35,392.81 L106.71,392.78 L107.07,392.81 L107.44,392.83 L107.80,392.86 L108.16,392.84 L108.52,392.86 L108.89,392.87 L109.25,392.89 L109.61,392.82 L109.97,392.79 L110.34,392.80 L110.70,392.83 L111.06,392.84 L111.42,392.79 L111.79,392.80 L112.15,392.74 L112.51,392.74 L112.88,392.76 L113.24,392.85 L113.60,392.87 L113.96,392.85 L114.32,392.83 L114.69,392.93 L115.05,393.02 L115.41,393.00 L115.77,392.92 L116.14,392.81 L116.50,392.88 L116.86,392.87 L117.22,392.92 L117.59,392.85 L117.95,392.88 L118.31,392.89 L118.67,392.93 L119.04,393.03 L119.40,393.03 L119.76,393.08 L120.12,392.98 L120.49,392.94 L120.85,392.83 L121.21,392.84 L121.57,392.86 L121.94,392.89 L122.30,392.92 L122.66,392.87 L123.02,392.87 L123.39,392.89 L123.75,392.92 L124.11,392.93 L124.47,392.90 L124.84,392.86 L125.20,392.80 L125.56,392.80 L125.92,392.85 L126.29,393.01 L126.65,393.00 L127.01,393.00 L127.38,393.00 L127.74,392.98 L128.10,392.94 L128.46,392.88 L128.82,392.91 L129.19,392.97 L129.55,392.91 L129.91,392.96 L130.27,392.93 L130.64,392.89 L131.00,392.82 L131.36,392.79 L131.72,392.88 L132.09,392.92 L132.45,392.94 L132.81,392.92 L133.18,392.92 L133.54,392.90 L133.90,392.87 L134.26,392.79 L134.62,392.86 L134.99,392.95 L135.35,393.05 L135.71,392.95 L136.07,392.89 L136.44,392.80 L136.80,392.87 L137.16,392.94 L137.52,392.97 L137.89,392.93 L138.25,392.92 L138.61,392.91 L138.97,392.89 L139.34,392.85 L139.70,392.90 L140.06,393.00 L140.43,393.02 L140.79,392.98 L141.15,392.90 L141.51,392.91 L141.88,392.94 L142.24,392.91 L142.60,392.89 L142.96,392.86 L143.32,392.93 L143.69,392.95 L144.05,392.95 L144.41,392.95 L144.77,392.97 L145.14,392.99 L145.50,392.91 L145.86,392.85 L146.22,392.78 L146.59,392.83 L146.95,392.85 L147.31,392.96 L147.68,392.98 L148.04,392.91 L148.40,392.84 L148.76,392.79 L149.12,392.82 L149.49,392.83 L149.85,392.87 L150.21,392.89 L150.57,392.87 L150.94,392.84 L151.30,392.83 L151.66,392.85 L152.02,392.89 L152.39,392.92 L152.75,392.97 L153.11,392.90 L153.47,392.97 L153.84,392.94 L154.20,392.89 L154.56,392.82 L154.93,392.85 L155.29,392.95 L155.65,392.88 L156.01,392.85 L156.38,392.82 L156.74,392.87 L157.10,392.88 L157.46,392.78 L157.82,392.78 L158.19,392.78 L158.55,392.93 L158.91,392.92 L159.27,392.88 L159.64,392.83 L160.00,392.84 L160.36,392.91 L160.72,392.92 L161.09,392.94 L161.45,392.89 L161.81,392.97 L162.18,392.98 L162.54,393.00 L162.90,392.94 L163.26,392.98 L163.62,392.95 L163.99,392.94 L164.35,392.93 L164.71,392.95 L165.07,392.99 L165.44,392.91 L165.80,392.99 L166.16,392.97 L166.52,393.07 L166.89,392.99 L167.25,392.94 L167.61,392.90 L167.97,392.88 L168.34,392.94 L168.70,392.84 L169.06,392.81 L169.43,392.73 L169.79,392.86 L170.15,392.94 L170.51,392.94 L170.88,392.90 L171.24,392.87 L171.60,392.89 L171.96,392.94 L172.32,392.90 L172.69,392.91 L173.05,392.84 L173.41,392.90 L173.77,392.88 L174.14,392.92 L174.50,392.86 L174.86,392.84 L175.22,392.77 L175.59,392.79 L175.95,392.81 L176.31,392.95 L176.68,392.94 L177.04,392.97 L177.40,392.86 L177.76,392.91 L178.12,392.95 L178.49,392.98 L178.85,392.94 L179.21,392.83 L179.57,392.83 L179.94,392.89 L180.30,392.89 L180.66,392.90 L181.02,392.79 L181.39,392.84 L181.75,392.84 L182.11,392.88 L182.47,392.82 L182.84,392.84 L183.20,392.81 L183.56,392.89 L183.93,392.77 L184.29,392.84 L184.65,392.89 L185.01,392.93 L185.38,392.87 L185.74,392.73 L186.10,392.68 L186.46,392.68 L186.82,392.77 L187.19,392.85 L187.55,392.89 L187.91,392.90 L188.27,392.89 L188.64,392.97 L189.00,392.92 L189.36,392.91 L189.72,392.70 L190.09,392.67 L190.45,392.68 L190.81,392.75 L191.18,392.82 L191.54,392.82 L191.90,392.90 L192.26,392.79 L192.62,392.73 L192.99,392.69 L193.35,392.74 L193.71,392.72 L194.07,392.64 L194.44,392.61 L194.80,392.67 L195.16,392.70 L195.52,392.70 L195.89,392.61 L196.25,392.61 L196.61,392.64 L196.97,392.61 L197.34,392.60 L197.70,392.50 L198.06,392.52 L198.43,392.43 L198.79,392.38 L199.15,392.35 L199.51,392.33 L199.88,392.42 L200.24,392.45 L200.60,392.44 L200.96,392.32 L201.32,392.21 L201.69,392.13 L202.05,392.15 L202.41,392.17 L202.77,392.20 L203.14,392.19 L203.50,392.17 L203.86,392.20 L204.22,392.07 L204.59,391.97 L204.95,391.74 L205.31,391.64 L205.68,391.33 L206.04,391.15 L206.40,390.81 L206.76,390.98 L207.12,390.44 L207.49,389.89 L207.85,389.17 L208.21,388.47 L208.57,388.29 L208.94,388.06 L209.30,387.40 L209.66,386.53 L210.02,385.53 L210.39,384.71 L210.75,384.26 L211.11,383.46 L211.47,382.86 L211.84,382.11 L212.20,380.55 L212.56,380.31 L212.93,379.23 L213.29,378.91 L213.65,378.43 L214.01,378.64 L214.38,378.47 L214.74,377.89 L215.10,377.18 L215.46,376.92 L215.82,376.80 L216.19,377.11 L216.55,378.08 L216.91,377.77 L217.27,377.56 L217.64,376.52 L218.00,376.32 L218.36,376.28 L218.72,375.73 L219.09,375.34 L219.45,374.55 L219.81,375.23 L220.18,375.54 L220.54,375.85 L220.90,375.60 L221.26,375.89 L221.62,375.81 L221.99,375.91 L222.35,375.79 L222.71,376.34 L223.07,376.25 L223.44,376.43 L223.80,377.16 L224.16,377.79 L224.52,377.95 L224.89,377.02 L225.25,377.08 L225.61,377.36 L225.97,378.13 L226.34,378.25 L226.70,378.73 L227.06,379.23 L227.43,380.25 L227.79,380.69 L228.15,381.42 L228.51,382.42 L228.88,383.11 L229.24,383.87 L229.60,384.09 L229.96,384.92 L230.32,385.14 L230.69,385.60 L231.05,386.35 L231.41,387.11 L231.77,388.09 L232.14,387.88 L232.50,388.06 L232.86,387.69 L233.22,388.43 L233.59,389.25 L233.95,389.36 L234.31,389.37 L234.68,388.93 L235.04,389.39 L235.40,389.35 L235.76,389.33 L236.12,389.80 L236.49,389.75 L236.85,390.05 L237.21,389.80 L237.57,389.65 L237.94,389.28 L238.30,389.21 L238.66,390.03 L239.02,390.13 L239.39,389.81 L239.75,389.25 L240.11,389.47 L240.47,389.65 L240.84,389.79 L241.20,389.26 L241.56,388.65 L241.93,387.77 L242.29,387.62 L242.65,387.32 L243.01,386.95 L243.38,386.37 L243.74,385.94 L244.10,385.00 L244.46,384.30 L244.82,383.55 L245.19,383.75 L245.55,383.29 L245.91,383.47 L246.27,382.86 L246.64,382.06 L247.00,380.57 L247.36,379.81 L247.72,379.57 L248.09,379.77 L248.45,379.90 L248.81,379.77 L249.18,379.28 L249.54,379.02 L249.90,378.45 L250.26,378.68 L250.62,378.83 L250.99,379.32 L251.35,379.56 L251.71,379.59 L252.07,379.21 L252.44,379.09 L252.80,378.97 L253.16,379.30 L253.52,379.25 L253.89,379.87 L254.25,380.38 L254.61,381.24 L254.97,381.75 L255.34,382.61 L255.70,383.63 L256.06,384.33 L256.43,384.96 L256.79,384.92 L257.15,385.28 L257.51,385.72 L257.88,386.02 L258.24,385.91 L258.60,385.97 L258.96,386.14 L259.32,386.84 L259.69,387.33 L260.05,387.78 L260.41,387.95 L260.77,388.17 L261.14,387.98 L261.50,388.08 L261.86,388.29 L262.22,388.64 L262.59,388.17 L262.95,387.95 L263.31,387.79 L263.68,388.39 L264.04,388.55 L264.40,389.05 L264.76,389.00 L265.12,388.44 L265.49,388.57 L265.85,388.14 L266.21,388.87 L266.57,388.66 L266.94,388.88 L267.30,388.50 L267.66,388.41 L268.02,389.05 L268.39,389.15 L268.75,389.51 L269.11,388.50 L269.47,388.67 L269.84,388.41 L270.20,389.37 L270.56,389.47 L270.93,389.55" fill="none" stroke="#939336" stroke-width="1.4" stroke-linejoin="round" stroke-linecap="round" />
<path d="M35.30,392.73 L35.66,392.74 L36.02,392.67 L36.39,392.74 L36.75,392.74 L37.11,392.72 L37.47,392.73 L37.84,392.78 L38.20,392.81 L38.56,392.82 L38.92,392.77 L39.29,392.75 L39.65,392.73 L40.01,392.68 L40.38,392.74 L40.74,392.65 L41.10,392.64 L41.46,392.63 L41.82,392.69 L42.19,392.78 L42.55,392.75 L42.91,392.70 L43.27,392.72 L43.64,392.70 L44.00,392.79 L44.36,392.77 L44.72,392.88 L45.09,392.74 L45.45,392.71 L45.81,392.63 L46.17,392.73 L46.54,392.70 L46.90,392.79 L47.26,392.76 L47.62,392.71 L47.99,392.65 L48.35,392.65 L48.71,392.71 L49.07,392.72 L49.44,392.72 L49.80,392.71 L50.16,392.67 L50.52,392.66 L50.89,392.71 L51.25,392.71 L51.61,392.72 L51.97,392.65 L52.34,392.63 L52.70,392.64 L53.06,392.80 L53.42,392.80 L53.79,392.76 L54.15,392.70 L54.51,392.80 L54.88,392.88 L55.24,392.81 L55.60,392.77 L55.96,392.74 L56.32,392.77 L56.69,392.68 L57.05,392.66 L57.41,392.68 L57.77,392.75 L58.14,392.68 L58.50,392.64 L58.86,392.62 L59.22,392.74 L59.59,392.81 L59.95,392.78 L60.31,392.76 L60.67,392.69 L61.04,392.70 L61.40,392.66 L61.76,392.67 L62.12,392.66 L62.49,392.71 L62.85,392.75 L63.21,392.67 L63.57,392.69 L63.94,392.69 L64.30,392.74 L64.66,392.70 L65.02,392.71 L65.39,392.80 L65.75,392.77 L66.11,392.70 L66.47,392.59 L66.84,392.61 L67.20,392.60 L67.56,392.68 L67.92,392.66 L68.29,392.70 L68.65,392.60 L69.01,392.51 L69.38,392.34 L69.74,392.26 L70.10,392.06 L70.46,391.91 L70.82,391.66 L71.19,391.45 L71.55,391.22 L71.91,390.94 L72.28,390.72 L72.64,390.54 L73.00,390.47 L73.36,390.52 L73.72,390.63 L74.09,390.87 L74.45,391.06 L74.81,391.31 L75.17,391.47 L75.54,391.65 L75.90,391.74 L76.26,391.87 L76.62,391.97 L76.99,391.99 L77.35,391.87 L77.71,391.73 L78.07,391.58 L78.44,391.43 L78.80,391.27 L79.16,391.11 L79.53,390.98 L79.89,390.76 L80.25,390.44 L80.61,389.97 L80.97,389.43 L81.34,388.80 L81.70,388.07 L82.06,387.15 L82.42,386.06 L82.79,384.76 L83.15,383.25 L83.51,381.50 L83.88,379.50 L84.24,377.14 L84.60,374.45 L84.96,371.46 L85.32,368.25 L85.69,364.66 L86.05,360.95 L86.41,357.02 L86.78,353.07 L87.14,349.03 L87.50,345.01 L87.86,341.09 L88.22,337.40 L88.59,334.12 L88.95,331.35 L89.31,329.10 L89.67,327.40 L90.04,326.39 L90.40,326.07 L90.76,326.45 L91.12,327.44 L91.49,329.10 L91.85,331.36 L92.21,334.29 L92.57,337.52 L92.94,341.06 L93.30,344.79 L93.66,348.85 L94.03,353.04 L94.39,357.11 L94.75,361.05 L95.11,364.73 L95.47,368.27 L95.84,371.44 L96.20,374.37 L96.56,377.08 L96.92,379.46 L97.29,381.60 L97.65,383.35 L98.01,384.91 L98.38,386.18 L98.74,387.16 L99.10,388.10 L99.46,388.79 L99.82,389.37 L100.19,389.78 L100.55,390.22 L100.91,390.63 L101.27,390.98 L101.64,391.21 L102.00,391.39 L102.36,391.47 L102.72,391.53 L103.09,391.64 L103.45,391.75 L103.81,391.88 L104.17,392.04 L104.54,392.18 L104.90,392.32 L105.26,392.35 L105.62,392.32 L105.99,392.37 L106.35,392.32 L106.71,392.32 L107.07,392.31 L107.44,392.43 L107.80,392.49 L108.16,392.51 L108.52,392.56 L108.89,392.59 L109.25,392.61 L109.61,392.57 L109.97,392.54 L110.34,392.53 L110.70,392.58 L111.06,392.65 L111.42,392.74 L111.79,392.69 L112.15,392.73 L112.51,392.67 L112.88,392.68 L113.24,392.61 L113.60,392.66 L113.96,392.73 L114.32,392.70 L114.69,392.71 L115.05,392.60 L115.41,392.65 L115.77,392.62 L116.14,392.60 L116.50,392.60 L116.86,392.58 L117.22,392.71 L117.59,392.69 L117.95,392.75 L118.31,392.70 L118.67,392.73 L119.04,392.71 L119.40,392.64 L119.76,392.71 L120.12,392.73 L120.49,392.82 L120.85,392.70 L121.21,392.72 L121.57,392.67 L121.94,392.73 L122.30,392.69 L122.66,392.67 L123.02,392.67 L123.39,392.69 L123.75,392.79 L124.11,392.76 L124.47,392.73 L124.84,392.70 L125.20,392.66 L125.56,392.78 L125.92,392.83 L126.29,392.93 L126.65,392.87 L127.01,392.79 L127.38,392.74 L127.74,392.72 L128.10,392.70 L128.46,392.71 L128.82,392.76 L129.19,392.84 L129.55,392.74 L129.91,392.78 L130.27,392.74 L130.64,392.76 L131.00,392.65 L131.36,392.68 L131.72,392.73 L132.09,392.72 L132.45,392.64 L132.81,392.67 L133.18,392.68 L133.54,392.72 L133.90,392.64 L134.26,392.61 L134.62,392.64 L134.99,392.74 L135.35,392.77 L135.71,392.69 L136.07,392.61 L136.44,392.61 L136.80,392.59 L137.16,392.66 L137.52,392.63 L137.89,392.75 L138.25,392.70 L138.61,392.74 L138.97,392.66 L139.34,392.69 L139.70,392.72 L140.06,392.84 L140.43,392.78 L140.79,392.78 L141.15,392.70 L141.51,392.76 L141.88,392.76 L142.24,392.74 L142.60,392.70 L142.96,392.66 L143.32,392.68 L143.69,392.69 L144.05,392.77 L144.41,392.76 L144.77,392.74 L145.14,392.64 L145.50,392.75 L145.86,392.83 L146.22,392.95 L146.59,392.90 L146.95,392.80 L147.31,392.69 L147.68,392.66 L148.04,392.69 L148.40,392.69 L148.76,392.70 L149.12,392.69 L149.49,392.71 L149.85,392.78 L150.21,392.82 L150.57,392.77 L150.94,392.70 L151.30,392.69 L151.66,392.76 L152.02,392.77 L152.39,392.72 L152.75,392.71 L153.11,392.73 L153.47,392.89 L153.84,392.90 L154.20,392.94 L154.56,392.89 L154.93,392.84 L155.29,392.73 L155.65,392.74 L156.01,392.73 L156.38,392.74 L156.74,392.70 L157.10,392.70 L157.46,392.79 L157.82,392.80 L158.19,392.89 L158.55,392.87 L158.91,392.79 L159.27,392.78 L159.64,392.78 L160.00,392.85 L160.36,392.79 L160.72,392.76 L161.09,392.69 L161.45,392.73 L161.81,392.76 L162.18,392.82 L162.54,392.79 L162.90,392.78 L163.26,392.74 L163.62,392.67 L163.99,392.66 L164.35,392.67 L164.71,392.69 L165.07,392.69 L165.44,392.73 L165.80,392.82 L166.16,392.78 L166.52,392.73 L166.89,392.69 L167.25,392.71 L167.61,392.68 L167.97,392.64 L168.34,392.69 L168.70,392.74 L169.06,392.77 L169.43,392.69 L169.79,392.70 L170.15,392.73 L170.51,392.77 L170.88,392.84 L171.24,392.81 L171.60,392.82 L171.96,392.73 L172.32,392.77 L172.69,392.76 L173.05,392.82 L173.41,392.82 L173.77,392.78 L174.14,392.76 L174.50,392.70 L174.86,392.77 L175.22,392.75 L175.59,392.83 L175.95,392.81 L176.31,392.83 L176.68,392.74 L177.04,392.71 L177.40,392.70 L177.76,392.69 L178.12,392.69 L178.49,392.66 L178.85,392.67 L179.21,392.68 L179.57,392.71 L179.94,392.73 L180.30,392.74 L180.66,392.71 L181.02,392.68 L181.39,392.63 L181.75,392.66 L182.11,392.76 L182.47,392.79 L182.84,392.78 L183.20,392.69 L183.56,392.70 L183.93,392.71 L184.29,392.72 L184.65,392.72 L185.01,392.72 L185.38,392.68 L185.74,392.61 L186.10,392.58 L186.46,392.63 L186.82,392.73 L187.19,392.73 L187.55,392.74 L187.91,392.69 L188.27,392.73 L188.64,392.74 L189.00,392.75 L189.36,392.72 L189.72,392.66 L190.09,392.64 L190.45,392.72 L190.81,392.81 L191.18,392.89 L191.54,392.86 L191.90,392.80 L192.26,392.72 L192.62,392.71 L192.99,392.72 L193.35,392.77 L193.71,392.80 L194.07,392.87 L194.44,392.87 L194.80,392.76 L195.16,392.76 L195.52,392.67 L195.89,392.68 L196.25,392.63 L196.61,392.68 L196.97,392.76 L197.34,392.75 L197.70,392.73 L198.06,392.70 L198.43,392.66 L198.79,392.64 L199.15,392.63 L199.51,392.65 L199.88,392.70 L200.24,392.70 L200.60,392.76 L200.96,392.74 L201.32,392.75 L201.69,392.74 L202.05,392.67 L202.41,392.68 L202.77,392.59 L203.14,392.53 L203.50,392.39 L203.86,392.18 L204.22,392.02 L204.59,391.74 L204.95,391.47 L205.31,391.13 L205.68,390.73 L206.04,390.33 L206.40,389.89 L206.76,388.96 L207.12,388.78 L207.49,388.26 L207.85,387.96 L208.21,387.33 L208.57,386.41 L208.94,385.17 L209.30,383.96 L209.66,383.13 L210.02,382.07 L210.39,381.45 L210.75,380.58 L211.11,380.01 L211.47,378.42 L211.84,377.35 L212.20,375.32 L212.56,373.56 L212.93,371.81 L213.29,370.59 L213.65,369.95 L214.01,369.21 L214.38,368.83 L214.74,368.22 L215.10,368.63 L215.46,368.59 L215.82,368.13 L216.19,367.08 L216.55,366.37 L216.91,366.89 L217.27,366.97 L217.64,367.75 L218.00,367.50 L218.36,367.63 L218.72,367.07 L219.09,366.92 L219.45,366.50 L219.81,366.59 L220.18,366.47 L220.54,366.21 L220.90,366.09 L221.26,366.72 L221.62,367.83 L221.99,368.37 L222.35,367.82 L222.71,367.65 L223.07,367.77 L223.44,369.05 L223.80,369.61 L224.16,369.88 L224.52,369.42 L224.89,369.46 L225.25,369.86 L225.61,369.66 L225.97,369.63 L226.34,370.06 L226.70,371.77 L227.06,372.70 L227.43,373.92 L227.79,374.32 L228.15,375.43 L228.51,376.62 L228.88,377.93 L229.24,379.60 L229.60,380.27 L229.96,381.31 L230.32,381.67 L230.69,382.49 L231.05,383.33 L231.41,384.25 L231.77,385.11 L232.14,385.74 L232.50,385.90 L232.86,386.40 L233.22,386.78 L233.59,387.65 L233.95,388.00 L234.31,388.66 L234.68,388.61 L235.04,388.70 L235.40,388.41 L235.76,388.84 L236.12,388.95 L236.49,389.14 L236.85,389.06 L237.21,388.26 L237.57,387.84 L237.94,387.71 L238.30,388.69 L238.66,388.81 L239.02,389.12 L239.39,388.27 L239.75,387.97 L240.11,387.25 L240.47,387.01 L240.84,386.62 L241.20,386.53 L241.56,385.79 L241.93,385.30 L242.29,384.40 L242.65,383.73 L243.01,382.61 L243.38,381.26 L243.74,379.94 L244.10,378.75 L244.46,377.85 L244.82,377.19 L245.19,376.06 L245.55,375.68 L245.91,374.63 L246.27,374.20 L246.64,373.08 L247.00,372.25 L247.36,371.09 L247.72,369.53 L248.09,368.21 L248.45,367.89 L248.81,367.30 L249.18,366.39 L249.54,364.84 L249.90,363.81 L250.26,363.89 L250.62,364.21 L250.99,364.76 L251.35,364.46 L251.71,363.85 L252.07,364.12 L252.44,365.02 L252.80,365.95 L253.16,367.04 L253.52,367.84 L253.89,368.32 L254.25,368.25 L254.61,369.45 L254.97,370.74 L255.34,372.86 L255.70,374.29 L256.06,376.53 L256.43,377.15 L256.79,378.06 L257.15,377.81 L257.51,378.94 L257.88,379.68 L258.24,381.58 L258.60,381.92 L258.96,382.65 L259.32,382.78 L259.69,384.29 L260.05,384.44 L260.41,384.57 L260.77,384.51 L261.14,385.00 L261.50,385.32 L261.86,385.01 L262.22,385.09 L262.59,384.82 L262.95,385.19 L263.31,385.43 L263.68,386.04 L264.04,386.67 L264.40,386.77 L264.76,386.43 L265.12,385.75 L265.49,385.80 L265.85,386.02 L266.21,386.65 L266.57,386.57 L266.94,386.57 L267.30,385.93 L267.66,386.10 L268.02,386.05 L268.39,385.80 L268.75,385.76 L269.11,385.86 L269.47,386.78 L269.84,387.21 L270.20,387.29 L270.56,386.93 L270.93,386.46" fill="none" stroke="#f68b2c" stroke-width="1.4" stroke-linejoin="round" stroke-linecap="round" />
<line x1="35.00" y1="221.00" x2="35.00" y2="397.00" stroke="#1e1e1e" stroke-width="1.4"/>
<line x1="34.20" y1="396.20" x2="271.00" y2="396.20" stroke="#1e1e1e" stroke-width="1.4"/>
<line x1="31.20" y1="393.40" x2="35.00" y2="393.40" stroke="#1e1e1e" stroke-width="1.1"/>
<text x="30.40" y="396.50" font-size="8.4" text-anchor="end" fill="#222" stroke="#222" stroke-width="0.08" >0</text>
<line x1="31.20" y1="359.40" x2="35.00" y2="359.40" stroke="#1e1e1e" stroke-width="1.1"/>
<text x="30.40" y="362.50" font-size="8.4" text-anchor="end" fill="#222" stroke="#222" stroke-width="0.08" >1</text>
<line x1="31.20" y1="325.40" x2="35.00" y2="325.40" stroke="#1e1e1e" stroke-width="1.1"/>
<text x="30.40" y="328.50" font-size="8.4" text-anchor="end" fill="#222" stroke="#222" stroke-width="0.08" >2</text>
<line x1="31.20" y1="291.40" x2="35.00" y2="291.40" stroke="#1e1e1e" stroke-width="1.1"/>
<text x="30.40" y="294.50" font-size="8.4" text-anchor="end" fill="#222" stroke="#222" stroke-width="0.08" >3</text>
<line x1="31.20" y1="257.40" x2="35.00" y2="257.40" stroke="#1e1e1e" stroke-width="1.1"/>
<text x="30.40" y="260.50" font-size="8.4" text-anchor="end" fill="#222" stroke="#222" stroke-width="0.08" >4</text>
<line x1="31.20" y1="223.40" x2="35.00" y2="223.40" stroke="#1e1e1e" stroke-width="1.1"/>
<text x="30.40" y="226.50" font-size="8.4" text-anchor="end" fill="#222" stroke="#222" stroke-width="0.08" >5</text>
<line x1="33.00" y1="376.40" x2="35.00" y2="376.40" stroke="#1e1e1e" stroke-width="1.1"/>
<line x1="33.00" y1="342.40" x2="35.00" y2="342.40" stroke="#1e1e1e" stroke-width="1.1"/>
<line x1="33.00" y1="308.40" x2="35.00" y2="308.40" stroke="#1e1e1e" stroke-width="1.1"/>
<line x1="33.00" y1="274.40" x2="35.00" y2="274.40" stroke="#1e1e1e" stroke-width="1.1"/>
<line x1="33.00" y1="240.40" x2="35.00" y2="240.40" stroke="#1e1e1e" stroke-width="1.1"/>
<line x1="35.30" y1="396.20" x2="35.30" y2="399.80" stroke="#1e1e1e" stroke-width="1.1"/>
<text x="35.30" y="408.40" font-size="8.4" text-anchor="middle" fill="#222" stroke="#222" stroke-width="0.08" >400</text>
<line x1="71.55" y1="396.20" x2="71.55" y2="399.80" stroke="#1e1e1e" stroke-width="1.1"/>
<text x="71.55" y="408.40" font-size="8.4" text-anchor="middle" fill="#222" stroke="#222" stroke-width="0.08" >450</text>
<line x1="107.80" y1="396.20" x2="107.80" y2="399.80" stroke="#1e1e1e" stroke-width="1.1"/>
<text x="107.80" y="408.40" font-size="8.4" text-anchor="middle" fill="#222" stroke="#222" stroke-width="0.08" >500</text>
<line x1="144.05" y1="396.20" x2="144.05" y2="399.80" stroke="#1e1e1e" stroke-width="1.1"/>
<text x="144.05" y="408.40" font-size="8.4" text-anchor="middle" fill="#222" stroke="#222" stroke-width="0.08" >550</text>
<line x1="180.30" y1="396.20" x2="180.30" y2="399.80" stroke="#1e1e1e" stroke-width="1.1"/>
<text x="180.30" y="408.40" font-size="8.4" text-anchor="middle" fill="#222" stroke="#222" stroke-width="0.08" >600</text>
<line x1="216.55" y1="396.20" x2="216.55" y2="399.80" stroke="#1e1e1e" stroke-width="1.1"/>
<text x="216.55" y="408.40" font-size="8.4" text-anchor="middle" fill="#222" stroke="#222" stroke-width="0.08" >650</text>
<line x1="252.80" y1="396.20" x2="252.80" y2="399.80" stroke="#1e1e1e" stroke-width="1.1"/>
<text x="252.80" y="408.40" font-size="8.4" text-anchor="middle" fill="#222" stroke="#222" stroke-width="0.08" >700</text>
<line x1="53.42" y1="396.20" x2="53.42" y2="398.20" stroke="#1e1e1e" stroke-width="1.1"/>
<line x1="89.67" y1="396.20" x2="89.67" y2="398.20" stroke="#1e1e1e" stroke-width="1.1"/>
<line x1="125.92" y1="396.20" x2="125.92" y2="398.20" stroke="#1e1e1e" stroke-width="1.1"/>
<line x1="162.18" y1="396.20" x2="162.18" y2="398.20" stroke="#1e1e1e" stroke-width="1.1"/>
<line x1="198.43" y1="396.20" x2="198.43" y2="398.20" stroke="#1e1e1e" stroke-width="1.1"/>
<line x1="234.68" y1="396.20" x2="234.68" y2="398.20" stroke="#1e1e1e" stroke-width="1.1"/>
<line x1="270.93" y1="396.20" x2="270.93" y2="398.20" stroke="#1e1e1e" stroke-width="1.1"/>
<text x="158.60" y="422.50" font-size="10.55" text-anchor="middle" fill="#222" stroke="#222" stroke-width="0.08" >Wavelength (nm)</text>
<text x="0.00" y="0.00" font-size="10.4" text-anchor="middle" fill="#222" stroke="#222" stroke-width="0.08" transform="translate(12.2,306.4) rotate(-90)">Intensity (a.u.)</text>
<text x="3.30" y="219.60" font-size="12.4" text-anchor="start" fill="#222" stroke="#222" stroke-width="0.08" >c)</text>
<text x="136.60" y="231.00" font-size="9.35" text-anchor="start" fill="#222" stroke="#222" stroke-width="0.08" >NaYF<tspan font-size="5.8" dy="2.6">4</tspan><tspan dy="-2.6">:20% Yb, 1% Tm, x% Gd</tspan></text>
<line x1="226.90" y1="242.20" x2="247.00" y2="242.20" stroke="#1a1a1a" stroke-width="1.3"/>
<text x="249.30" y="245.40" font-size="9.0" text-anchor="start" fill="#222" stroke="#222" stroke-width="0.18" >0%</text>
<line x1="226.90" y1="253.10" x2="247.00" y2="253.10" stroke="#f03a34" stroke-width="1.3"/>
<text x="249.30" y="256.30" font-size="9.0" text-anchor="start" fill="#222" stroke="#222" stroke-width="0.18" >2%</text>
<line x1="226.90" y1="264.00" x2="247.00" y2="264.00" stroke="#375db6" stroke-width="1.3"/>
<text x="249.30" y="267.20" font-size="9.0" text-anchor="start" fill="#222" stroke="#222" stroke-width="0.18" >5%</text>
<line x1="226.90" y1="274.90" x2="247.00" y2="274.90" stroke="#cf78c8" stroke-width="1.3"/>
<text x="249.30" y="278.10" font-size="9.0" text-anchor="start" fill="#222" stroke="#222" stroke-width="0.18" >8%</text>
<line x1="226.90" y1="285.80" x2="247.00" y2="285.80" stroke="#178f55" stroke-width="1.3"/>
<text x="249.30" y="289.00" font-size="9.0" text-anchor="start" fill="#222" stroke="#222" stroke-width="0.18" >10%</text>
<line x1="226.90" y1="296.70" x2="247.00" y2="296.70" stroke="#939336" stroke-width="1.3"/>
<text x="249.30" y="299.90" font-size="9.0" text-anchor="start" fill="#222" stroke="#222" stroke-width="0.18" >15%</text>
<line x1="226.90" y1="307.60" x2="247.00" y2="307.60" stroke="#f68b2c" stroke-width="1.3"/>
<text x="249.30" y="310.80" font-size="9.0" text-anchor="start" fill="#222" stroke="#222" stroke-width="0.18" >20%</text>
<text x="0.00" y="0.00" font-size="9.2" text-anchor="start" fill="#ff3a3a" stroke="#ff3a3a" stroke-width="0.2" transform="translate(74.50,386.20) rotate(-90) scale(0.93,1)"><tspan dy="-3.40" font-size="6.07">1</tspan><tspan dy="3.40" font-size="9.2">D</tspan><tspan dy="2.80" font-size="6.07">2</tspan><tspan dy="-2.80" font-size="9.2">-</tspan><tspan dy="-3.40" font-size="6.07">3</tspan><tspan dy="3.40" font-size="9.2">F</tspan><tspan dy="2.80" font-size="6.07">4</tspan></text>
<text x="0.00" y="0.00" font-size="9.2" text-anchor="start" fill="#ff3a3a" stroke="#ff3a3a" stroke-width="0.2" transform="translate(104.60,262.60) rotate(-90) scale(0.93,1)"><tspan dy="-3.40" font-size="6.07">1</tspan><tspan dy="3.40" font-size="9.2">G</tspan><tspan dy="2.80" font-size="6.07">4</tspan><tspan dy="-2.80" font-size="9.2">-</tspan><tspan dy="-3.40" font-size="6.07">3</tspan><tspan dy="3.40" font-size="9.2">H</tspan><tspan dy="2.80" font-size="6.07">6</tspan></text>
<text x="0.00" y="0.00" font-size="9.2" text-anchor="start" fill="#ff3a3a" stroke="#ff3a3a" stroke-width="0.2" transform="translate(209.10,340.40) rotate(-90) scale(0.93,1)"><tspan dy="-3.40" font-size="6.07">1</tspan><tspan dy="3.40" font-size="9.2">G</tspan><tspan dy="2.80" font-size="6.07">4</tspan><tspan dy="-2.80" font-size="9.2">-</tspan><tspan dy="-3.40" font-size="6.07">3</tspan><tspan dy="3.40" font-size="9.2">F</tspan><tspan dy="2.80" font-size="6.07">4</tspan></text>
<text x="0.00" y="0.00" font-size="9.2" text-anchor="start" fill="#ff3a3a" stroke="#ff3a3a" stroke-width="0.2" transform="translate(245.70,349.90) rotate(-90) scale(0.93,1)"><tspan dy="-3.40" font-size="6.07">3</tspan><tspan dy="3.40" font-size="9.2">F</tspan><tspan dy="2.80" font-size="6.07">2,3</tspan><tspan dy="-2.80" font-size="9.2">-</tspan><tspan dy="-3.40" font-size="6.07">3</tspan><tspan dy="3.40" font-size="9.2">H</tspan><tspan dy="2.80" font-size="6.07">6</tspan></text>
<line x1="303.00" y1="218.80" x2="303.00" y2="398.10" stroke="#1e1e1e" stroke-width="1.4"/>
<line x1="302.20" y1="397.30" x2="541.50" y2="397.30" stroke="#1e1e1e" stroke-width="1.4"/>
<line x1="299.20" y1="397.40" x2="303.00" y2="397.40" stroke="#1e1e1e" stroke-width="1.1"/>
<text x="298.00" y="400.40" font-size="8.4" text-anchor="end" fill="#222" stroke="#222" stroke-width="0.08" >0</text>
<line x1="299.20" y1="371.90" x2="303.00" y2="371.90" stroke="#1e1e1e" stroke-width="1.1"/>
<text x="298.00" y="374.90" font-size="8.4" text-anchor="end" fill="#222" stroke="#222" stroke-width="0.08" >1</text>
<line x1="299.20" y1="346.40" x2="303.00" y2="346.40" stroke="#1e1e1e" stroke-width="1.1"/>
<text x="298.00" y="349.40" font-size="8.4" text-anchor="end" fill="#222" stroke="#222" stroke-width="0.08" >2</text>
<line x1="299.20" y1="320.90" x2="303.00" y2="320.90" stroke="#1e1e1e" stroke-width="1.1"/>
<text x="298.00" y="323.90" font-size="8.4" text-anchor="end" fill="#222" stroke="#222" stroke-width="0.08" >3</text>
<line x1="299.20" y1="295.40" x2="303.00" y2="295.40" stroke="#1e1e1e" stroke-width="1.1"/>
<text x="298.00" y="298.40" font-size="8.4" text-anchor="end" fill="#222" stroke="#222" stroke-width="0.08" >4</text>
<line x1="299.20" y1="269.90" x2="303.00" y2="269.90" stroke="#1e1e1e" stroke-width="1.1"/>
<text x="298.00" y="272.90" font-size="8.4" text-anchor="end" fill="#222" stroke="#222" stroke-width="0.08" >5</text>
<line x1="299.20" y1="244.40" x2="303.00" y2="244.40" stroke="#1e1e1e" stroke-width="1.1"/>
<text x="298.00" y="247.40" font-size="8.4" text-anchor="end" fill="#222" stroke="#222" stroke-width="0.08" >6</text>
<line x1="299.20" y1="218.90" x2="303.00" y2="218.90" stroke="#1e1e1e" stroke-width="1.1"/>
<text x="298.00" y="221.90" font-size="8.4" text-anchor="end" fill="#222" stroke="#222" stroke-width="0.08" >7</text>
<line x1="301.00" y1="384.65" x2="303.00" y2="384.65" stroke="#1e1e1e" stroke-width="1.1"/>
<line x1="301.00" y1="359.15" x2="303.00" y2="359.15" stroke="#1e1e1e" stroke-width="1.1"/>
<line x1="301.00" y1="333.65" x2="303.00" y2="333.65" stroke="#1e1e1e" stroke-width="1.1"/>
<line x1="301.00" y1="308.15" x2="303.00" y2="308.15" stroke="#1e1e1e" stroke-width="1.1"/>
<line x1="301.00" y1="282.65" x2="303.00" y2="282.65" stroke="#1e1e1e" stroke-width="1.1"/>
<line x1="301.00" y1="257.15" x2="303.00" y2="257.15" stroke="#1e1e1e" stroke-width="1.1"/>
<line x1="301.00" y1="231.65" x2="303.00" y2="231.65" stroke="#1e1e1e" stroke-width="1.1"/>
<line x1="314.40" y1="397.30" x2="314.40" y2="400.90" stroke="#1e1e1e" stroke-width="1.1"/>
<text x="314.40" y="409.20" font-size="8.4" text-anchor="middle" fill="#222" stroke="#222" stroke-width="0.08" >0</text>
<line x1="368.55" y1="397.30" x2="368.55" y2="400.90" stroke="#1e1e1e" stroke-width="1.1"/>
<text x="368.55" y="409.20" font-size="8.4" text-anchor="middle" fill="#222" stroke="#222" stroke-width="0.08" >5</text>
<line x1="422.70" y1="397.30" x2="422.70" y2="400.90" stroke="#1e1e1e" stroke-width="1.1"/>
<text x="422.70" y="409.20" font-size="8.4" text-anchor="middle" fill="#222" stroke="#222" stroke-width="0.08" >10</text>
<line x1="476.85" y1="397.30" x2="476.85" y2="400.90" stroke="#1e1e1e" stroke-width="1.1"/>
<text x="476.85" y="409.20" font-size="8.4" text-anchor="middle" fill="#222" stroke="#222" stroke-width="0.08" >15</text>
<line x1="531.00" y1="397.30" x2="531.00" y2="400.90" stroke="#1e1e1e" stroke-width="1.1"/>
<text x="531.00" y="409.20" font-size="8.4" text-anchor="middle" fill="#222" stroke="#222" stroke-width="0.08" >20</text>
<line x1="341.47" y1="397.30" x2="341.47" y2="399.30" stroke="#1e1e1e" stroke-width="1.1"/>
<line x1="395.62" y1="397.30" x2="395.62" y2="399.30" stroke="#1e1e1e" stroke-width="1.1"/>
<line x1="449.77" y1="397.30" x2="449.77" y2="399.30" stroke="#1e1e1e" stroke-width="1.1"/>
<line x1="503.92" y1="397.30" x2="503.92" y2="399.30" stroke="#1e1e1e" stroke-width="1.1"/>
<text x="427.90" y="423.30" font-size="10.4" text-anchor="middle" fill="#222" stroke="#222" stroke-width="0.08" >Gd<tspan font-size="5.6" dy="-3.6">3+</tspan><tspan dy="3.6"> concnentration (at.%)</tspan></text>
<text x="0.00" y="0.00" font-size="10.4" text-anchor="middle" fill="#222" stroke="#222" stroke-width="0.08" transform="translate(287.4,307.5) rotate(-90)">Intensity (a.u.)</text>
<text x="275.70" y="219.90" font-size="12.4" text-anchor="start" fill="#222" stroke="#222" stroke-width="0.08" >d)</text>
<text x="475.00" y="234.20" font-size="8.6" text-anchor="start" fill="#222" stroke="#222" stroke-width="0.08" ><tspan dy="-3.40" font-size="5.68">1</tspan><tspan dy="3.40" font-size="8.6">G</tspan><tspan dy="2.80" font-size="5.68">4</tspan><tspan dy="-2.80" font-size="8.6">-</tspan><tspan dy="-3.40" font-size="5.68">3</tspan><tspan dy="3.40" font-size="8.6">H</tspan><tspan dy="2.80" font-size="5.68">6</tspan></text>
<rect x="312.10" y="355.57" width="4.6" height="4.6" fill="#000"/>
<rect x="333.76" y="316.56" width="4.6" height="4.6" fill="#000"/>
<rect x="366.25" y="238.27" width="4.6" height="4.6" fill="#000"/>
<rect x="398.74" y="375.21" width="4.6" height="4.6" fill="#000"/>
<rect x="420.40" y="336.19" width="4.6" height="4.6" fill="#000"/>
<rect x="474.55" y="367.05" width="4.6" height="4.6" fill="#000"/>
<rect x="528.70" y="329.31" width="4.6" height="4.6" fill="#000"/>
<path d="M320.40,373.75 L320.82,372.16 L321.25,370.55 L321.67,368.93 L322.10,367.29 L322.52,365.64 L322.95,363.99 L323.37,362.32 L323.80,360.64 L324.22,358.95 L324.65,357.26 L325.07,355.55 L325.50,353.84 L325.92,352.12 L326.35,350.40 L326.77,348.67 L327.19,346.93 L327.62,345.19 L328.04,343.44 L328.47,341.70 L328.89,339.95 L329.32,338.19 L329.74,336.44 L330.17,334.68 L330.59,332.92 L331.02,331.17 L331.44,329.41 L331.87,327.66 L332.29,325.91 L332.71,324.16 L333.14,322.41 L333.56,320.67 L333.99,318.93 L334.41,317.20 L334.84,315.47 L335.26,313.75 L335.69,312.03 L336.11,310.32 L336.54,308.62 L336.96,306.93 L337.39,305.25 L337.81,303.58 L338.24,301.91 L338.66,300.26 L339.08,298.62 L339.51,296.99 L339.93,295.38 L340.36,293.78 L340.78,292.19 L341.21,290.61 L341.63,289.06 L342.06,287.51 L342.48,285.99 L342.91,284.48 L343.33,282.99 L343.76,281.52 L344.18,280.07 L344.61,278.65 L345.03,277.24 L345.45,275.86 L345.88,274.50 L346.30,273.16 L346.73,271.85 L347.15,270.57 L347.58,269.31 L348.00,268.08 L348.43,266.88 L348.85,265.71 L349.28,264.57 L349.70,263.46 L350.13,262.38 L350.55,261.34 L350.97,260.32 L351.40,259.35 L351.82,258.40 L352.25,257.50 L352.67,256.62 L353.10,255.79 L353.52,255.00 L353.95,254.24 L354.37,253.52 L354.80,252.83 L355.22,252.19 L355.65,251.58 L356.07,251.02 L356.50,250.49 L356.92,250.00 L357.34,249.55 L357.77,249.13 L358.19,248.76 L358.62,248.42 L359.04,248.13 L359.47,247.87 L359.89,247.66 L360.32,247.48 L360.74,247.34 L361.17,247.25 L361.59,247.19 L362.02,247.17 L362.44,247.20 L362.86,247.26 L363.29,247.36 L363.71,247.50 L364.14,247.68 L364.56,247.89 L364.99,248.13 L365.41,248.41 L365.84,248.73 L366.26,249.07 L366.69,249.45 L367.11,249.85 L367.54,250.29 L367.96,250.75 L368.39,251.24 L368.81,251.76 L369.23,252.30 L369.66,252.87 L370.08,253.46 L370.51,254.07 L370.93,254.71 L371.36,255.36 L371.78,256.04 L372.21,256.73 L372.63,257.44 L373.06,258.17 L373.48,258.92 L373.91,259.68 L374.33,260.45 L374.76,261.24 L375.18,262.04 L375.60,262.85 L376.03,263.67 L376.45,264.50 L376.88,265.34 L377.30,266.19 L377.73,267.05 L378.15,267.91 L378.58,268.78 L379.00,269.65 L379.43,270.54 L379.85,271.42 L380.28,272.32 L380.70,273.21 L381.12,274.11 L381.55,275.01 L381.97,275.92 L382.40,276.83 L382.82,277.74 L383.25,278.65 L383.67,279.56 L384.10,280.48 L384.52,281.39 L384.95,282.30 L385.37,283.22 L385.80,284.13 L386.22,285.04 L386.65,285.95 L387.07,286.85 L387.49,287.76 L387.92,288.66 L388.34,289.56 L388.77,290.46 L389.19,291.36 L389.62,292.25 L390.04,293.14 L390.47,294.02 L390.89,294.90 L391.32,295.77 L391.74,296.64 L392.17,297.51 L392.59,298.36 L393.02,299.22 L393.44,300.06 L393.86,300.90 L394.29,301.73 L394.71,302.56 L395.14,303.37 L395.56,304.18 L395.99,304.98 L396.41,305.77 L396.84,306.56 L397.26,307.33 L397.69,308.09 L398.11,308.85 L398.54,309.59 L398.96,310.32 L399.38,311.04 L399.81,311.76 L400.23,312.45 L400.66,313.14 L401.08,313.82 L401.51,314.48 L401.93,315.13 L402.36,315.77 L402.78,316.40 L403.21,317.02 L403.63,317.63 L404.06,318.23 L404.48,318.82 L404.91,319.40 L405.33,319.96 L405.75,320.52 L406.18,321.07 L406.60,321.61 L407.03,322.14 L407.45,322.66 L407.88,323.17 L408.30,323.67 L408.73,324.16 L409.15,324.64 L409.58,325.12 L410.00,325.59 L410.43,326.04 L410.85,326.49 L411.27,326.94 L411.70,327.37 L412.12,327.80 L412.55,328.22 L412.97,328.63 L413.40,329.03 L413.82,329.43 L414.25,329.82 L414.67,330.20 L415.10,330.57 L415.52,330.94 L415.95,331.30 L416.37,331.66 L416.80,332.00 L417.22,332.35 L417.64,332.68 L418.07,333.01 L418.49,333.34 L418.92,333.65 L419.34,333.97 L419.77,334.27 L420.19,334.57 L420.62,334.87 L421.04,335.16 L421.47,335.44 L421.89,335.72 L422.32,336.00 L422.74,336.27 L423.17,336.54 L423.59,336.80 L424.01,337.05 L424.44,337.31 L424.86,337.55 L425.29,337.80 L425.71,338.04 L426.14,338.28 L426.56,338.51 L426.99,338.74 L427.41,338.96 L427.84,339.19 L428.26,339.41 L428.69,339.62 L429.11,339.84 L429.53,340.05 L429.96,340.25 L430.38,340.46 L430.81,340.66 L431.23,340.86 L431.66,341.06 L432.08,341.26 L432.51,341.45 L432.93,341.65 L433.36,341.84 L433.78,342.03 L434.21,342.21 L434.63,342.40 L435.06,342.59 L435.48,342.77 L435.90,342.95 L436.33,343.13 L436.75,343.32 L437.18,343.50 L437.60,343.68 L438.03,343.86 L438.45,344.04 L438.88,344.22 L439.30,344.40 L439.73,344.57 L440.15,344.75 L440.58,344.93 L441.00,345.11 L441.43,345.28 L441.85,345.46 L442.27,345.64 L442.70,345.81 L443.12,345.99 L443.55,346.16 L443.97,346.34 L444.40,346.51 L444.82,346.69 L445.25,346.86 L445.67,347.04 L446.10,347.21 L446.52,347.38 L446.95,347.55 L447.37,347.73 L447.79,347.90 L448.22,348.07 L448.64,348.24 L449.07,348.41 L449.49,348.58 L449.92,348.75 L450.34,348.92 L450.77,349.09 L451.19,349.26 L451.62,349.43 L452.04,349.60 L452.47,349.77 L452.89,349.93 L453.32,350.10 L453.74,350.27 L454.16,350.43 L454.59,350.60 L455.01,350.77 L455.44,350.93 L455.86,351.10 L456.29,351.26 L456.71,351.43 L457.14,351.59 L457.56,351.76 L457.99,351.92 L458.41,352.09 L458.84,352.25 L459.26,352.41 L459.68,352.57 L460.11,352.74 L460.53,352.90 L460.96,353.06 L461.38,353.22 L461.81,353.38 L462.23,353.54 L462.66,353.70 L463.08,353.86 L463.51,354.02 L463.93,354.18 L464.36,354.34 L464.78,354.50 L465.21,354.66 L465.63,354.82 L466.05,354.98 L466.48,355.14 L466.90,355.29 L467.33,355.45 L467.75,355.61 L468.18,355.76 L468.60,355.92 L469.03,356.08 L469.45,356.23 L469.88,356.39 L470.30,356.54 L470.73,356.70 L471.15,356.85 L471.58,357.01 L472.00,357.16 L472.42,357.32 L472.85,357.47 L473.27,357.62 L473.70,357.78 L474.12,357.93 L474.55,358.08 L474.97,358.24 L475.40,358.39 L475.82,358.54 L476.25,358.69 L476.67,358.84 L477.10,358.99 L477.52,359.14 L477.94,359.29 L478.37,359.44 L478.79,359.59 L479.22,359.74 L479.64,359.89 L480.07,360.04 L480.49,360.19 L480.92,360.34 L481.34,360.49 L481.77,360.64 L482.19,360.79 L482.62,360.93 L483.04,361.08 L483.47,361.23 L483.89,361.38 L484.31,361.52 L484.74,361.67 L485.16,361.82 L485.59,361.96 L486.01,362.11 L486.44,362.25 L486.86,362.40 L487.29,362.54 L487.71,362.69 L488.14,362.83 L488.56,362.98 L488.99,363.12 L489.41,363.27 L489.84,363.41 L490.26,363.55 L490.68,363.70 L491.11,363.84 L491.53,363.98 L491.96,364.13 L492.38,364.27 L492.81,364.41 L493.23,364.55 L493.66,364.70 L494.08,364.84 L494.51,364.98 L494.93,365.12 L495.36,365.26 L495.78,365.40 L496.20,365.54 L496.63,365.68 L497.05,365.82 L497.48,365.96 L497.90,366.10 L498.33,366.24 L498.75,366.38 L499.18,366.52 L499.60,366.66 L500.03,366.80 L500.45,366.94 L500.88,367.08 L501.30,367.22 L501.73,367.35 L502.15,367.49 L502.57,367.63 L503.00,367.77 L503.42,367.90 L503.85,368.04 L504.27,368.18 L504.70,368.32 L505.12,368.45 L505.55,368.59 L505.97,368.73 L506.40,368.86 L506.82,369.00 L507.25,369.13 L507.67,369.27 L508.09,369.40 L508.52,369.54 L508.94,369.68 L509.37,369.81 L509.79,369.95 L510.22,370.08 L510.64,370.21 L511.07,370.35 L511.49,370.48 L511.92,370.62 L512.34,370.75 L512.77,370.88 L513.19,371.02 L513.62,371.15 L514.04,371.28 L514.46,371.42 L514.89,371.55 L515.31,371.68 L515.74,371.82 L516.16,371.95 L516.59,372.08 L517.01,372.21 L517.44,372.35 L517.86,372.48 L518.29,372.61 L518.71,372.74 L519.14,372.87 L519.56,373.00 L519.99,373.14 L520.41,373.27 L520.83,373.40 L521.26,373.53 L521.68,373.66 L522.11,373.79 L522.53,373.92 L522.96,374.05 L523.38,374.18 L523.81,374.31 L524.23,374.44 L524.66,374.57 L525.08,374.70 L525.51,374.83 L525.93,374.96 L526.35,375.09 L526.78,375.22 L527.20,375.35 L527.63,375.48 L528.05,375.61 L528.48,375.73 L528.90,375.86 L529.33,375.99 L529.75,376.12 L530.18,376.25 L530.60,376.38 L531.03,376.51 L531.45,376.63 L531.88,376.76 L532.30,376.89" fill="none" stroke="#151515" stroke-width="1.35" stroke-linejoin="round" stroke-linecap="round" />
</svg>
</body></html>
